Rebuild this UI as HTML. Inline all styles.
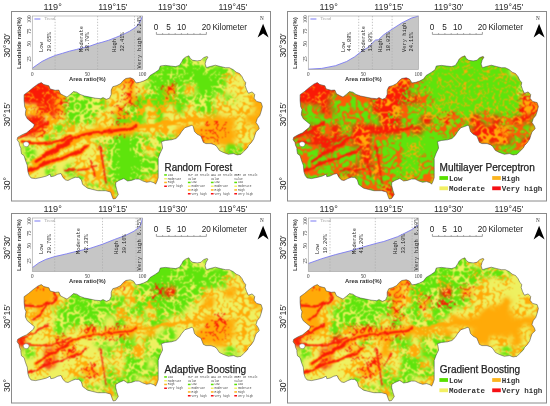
<!DOCTYPE html><html><head><meta charset="utf-8"><style>
html,body{margin:0;padding:0;background:#fff;}
svg{display:block;}
text{font-family:"Liberation Sans",sans-serif;fill:#222;}
.ax{font-size:9px;fill:#2a2a2a;}
.ax2{font-size:8.6px;fill:#2a2a2a;}
.tr{font-family:"Liberation Serif",serif;font-size:4.4px;fill:#a0a0a0;}
.cl{font-family:"Liberation Mono",monospace;font-size:5.4px;fill:#222;}
.tk{font-family:"Liberation Serif",serif;font-size:5.2px;fill:#333;}
.al{font-family:"Liberation Sans",sans-serif;font-size:5.8px;font-weight:bold;fill:#333;}
.sb text{font-size:8.2px;fill:#222;}
.na{font-family:"Liberation Serif",serif;font-size:5.2px;fill:#333;}
.tb{font-size:10.4px;fill:#222;stroke:#222;stroke-width:0.25px;}
.ts{font-size:10.4px;fill:#222;stroke:#222;stroke-width:0.25px;}
.lb{font-family:"Liberation Mono",monospace;font-size:7.5px;font-weight:bold;fill:#333;}
.lt{font-family:"Liberation Mono",monospace;font-size:2.8px;fill:#444;}
</style></head><body>
<svg width="550" height="406" viewBox="0 0 550 406">
<defs>
<clipPath id="clipmap"><polygon points="24.1,94.7 28.5,91.5 33.0,87.7 38.1,83.9 41.3,82.6 43.8,84.5 48.9,85.8 50.2,89.0 55.3,90.3 58.8,90.0 60.5,93.8 63.7,95.5 67.0,97.1 70.3,94.4 73.5,91.6 76.8,92.2 80.1,94.4 84.5,96.0 89.9,97.1 95.4,98.2 100.8,98.7 103.0,97.6 106.3,99.3 109.5,98.2 111.2,94.4 111.2,90.0 112.8,86.7 116.9,85.5 120.7,83.5 123.3,80.4 125.8,78.5 130.3,77.8 133.5,79.1 136.0,82.9 139.8,82.3 143.6,81.0 147.5,79.1 150.1,75.5 155.2,72.4 159.0,69.8 160.3,66.0 165.4,65.4 170.5,66.0 175.5,66.6 179.4,65.4 181.9,61.5 183.2,59.0 185.7,57.1 188.9,55.8 190.2,58.4 192.7,60.3 197.2,60.9 201.0,60.3 203.5,57.7 206.7,56.5 208.0,57.1 206.1,60.3 205.1,63.9 206.4,67.7 210.2,66.5 215.3,65.2 220.4,66.5 225.5,67.7 229.3,67.7 233.1,69.6 236.3,72.2 239.5,73.5 242.0,76.6 243.9,80.5 245.8,82.4 245.2,85.5 246.5,89.4 248.4,93.2 252.2,91.9 254.7,94.5 254.1,98.3 256.6,101.4 261.1,102.6 262.4,106.5 261.1,111.5 259.8,115.4 257.3,118.5 256.0,122.4 258.5,126.2 259.2,128.7 256.0,131.9 254.7,135.7 253.7,139.0 251.2,142.8 248.6,145.4 247.4,147.9 243.5,151.7 241.0,154.3 237.2,154.9 233.4,153.6 228.3,154.3 223.2,152.4 219.4,150.5 216.8,146.6 214.8,144.9 211.0,143.6 205.9,143.6 203.4,142.4 202.1,139.2 200.8,136.0 197.0,134.1 194.5,131.5 193.2,126.5 191.9,125.2 188.7,126.5 184.9,127.7 181.7,131.5 179.2,135.4 176.0,138.5 171.5,139.8 165.2,140.5 161.4,141.7 162.0,144.3 162.6,148.1 160.1,153.2 158.2,158.3 158.2,167.6 158.2,172.7 158.2,177.8 156.9,181.6 155.6,184.2 154.4,182.9 150.5,181.6 146.7,182.3 142.9,181.0 139.1,179.1 135.3,179.1 131.5,180.4 127.6,181.0 123.8,178.5 118.9,180.5 115.7,182.5 115.7,185.6 117.0,190.7 118.3,194.5 115.7,198.4 113.2,199.0 111.9,195.8 110.6,192.0 105.5,190.7 97.9,190.7 92.8,189.5 87.7,188.2 85.8,186.9 82.6,184.4 81.4,179.9 78.8,177.4 75.3,177.3 71.8,178.6 68.0,180.5 65.5,179.9 62.9,177.4 61.0,173.5 57.8,174.2 54.0,176.1 50.8,176.7 50.2,174.2 46.4,176.1 41.3,177.4 35.5,178.6 31.1,178.0 29.2,175.5 27.9,171.6 27.3,165.3 25.4,160.2 24.1,155.7 21.5,153.8 20.9,150.0 20.9,148.1 19.6,145.5 19.0,142.4 17.1,139.8 17.7,137.3 22.2,134.7 26.6,132.8 30.5,129.6 33.6,127.1 34.3,124.5 30.5,121.4 27.3,118.8 25.4,115.0 25.4,113.2 26.0,109.4 24.7,106.8 24.1,100.5"/></clipPath>
<filter id="mG" x="0" y="0" width="550" height="406" filterUnits="userSpaceOnUse" color-interpolation-filters="sRGB"><feGaussianBlur in="SourceAlpha" stdDeviation="2.5" result="ba"/><feTurbulence type="turbulence" baseFrequency="0.16" numOctaves="1" seed="3" result="n"/><feColorMatrix in="n" type="matrix" values="0 0 0 0 0  0 0 0 0 0  0 0 0 0 0  2.5 0 0 0 0" result="na"/><feComposite in="ba" in2="na" operator="arithmetic" k1="0" k2="1" k3="-1" k4="0.49" result="d"/><feComponentTransfer in="d" result="m"><feFuncA type="discrete" tableValues="0 1"/></feComponentTransfer><feFlood flood-color="rgb(94, 228, 12)"/><feComposite in2="m" operator="in"/></filter>
<filter id="mY" x="0" y="0" width="550" height="406" filterUnits="userSpaceOnUse" color-interpolation-filters="sRGB"><feGaussianBlur in="SourceAlpha" stdDeviation="2.5" result="ba"/><feTurbulence type="turbulence" baseFrequency="0.16" numOctaves="1" seed="5" result="n"/><feColorMatrix in="n" type="matrix" values="0 0 0 0 0  0 0 0 0 0  0 0 0 0 0  2.5 0 0 0 0" result="na"/><feComposite in="ba" in2="na" operator="arithmetic" k1="0" k2="1" k3="-1" k4="0.49" result="d"/><feComponentTransfer in="d" result="m"><feFuncA type="discrete" tableValues="0 1"/></feComponentTransfer><feFlood flood-color="rgb(238, 240, 96)"/><feComposite in2="m" operator="in"/></filter>
<filter id="mO" x="0" y="0" width="550" height="406" filterUnits="userSpaceOnUse" color-interpolation-filters="sRGB"><feGaussianBlur in="SourceAlpha" stdDeviation="2.5" result="ba"/><feTurbulence type="turbulence" baseFrequency="0.16" numOctaves="1" seed="7" result="n"/><feColorMatrix in="n" type="matrix" values="0 0 0 0 0  0 0 0 0 0  0 0 0 0 0  2.5 0 0 0 0" result="na"/><feComposite in="ba" in2="na" operator="arithmetic" k1="0" k2="1" k3="-1" k4="0.49" result="d"/><feComponentTransfer in="d" result="m"><feFuncA type="discrete" tableValues="0 1"/></feComponentTransfer><feFlood flood-color="rgb(255, 170, 8)"/><feComposite in2="m" operator="in"/></filter>
<filter id="mR" x="0" y="0" width="550" height="406" filterUnits="userSpaceOnUse" color-interpolation-filters="sRGB"><feGaussianBlur in="SourceAlpha" stdDeviation="2.5" result="ba"/><feTurbulence type="turbulence" baseFrequency="0.16" numOctaves="1" seed="11" result="n"/><feColorMatrix in="n" type="matrix" values="0 0 0 0 0  0 0 0 0 0  0 0 0 0 0  2.5 0 0 0 0" result="na"/><feComposite in="ba" in2="na" operator="arithmetic" k1="0" k2="1" k3="-1" k4="0.49" result="d"/><feComponentTransfer in="d" result="m"><feFuncA type="discrete" tableValues="0 1"/></feComponentTransfer><feFlood flood-color="rgb(250, 26, 6)"/><feComposite in2="m" operator="in"/></filter>
<filter id="mP" x="0" y="0" width="550" height="406" filterUnits="userSpaceOnUse" color-interpolation-filters="sRGB"><feGaussianBlur in="SourceAlpha" stdDeviation="2.5" result="ba"/><feTurbulence type="turbulence" baseFrequency="0.16" numOctaves="1" seed="13" result="n"/><feColorMatrix in="n" type="matrix" values="0 0 0 0 0  0 0 0 0 0  0 0 0 0 0  2.5 0 0 0 0" result="na"/><feComposite in="ba" in2="na" operator="arithmetic" k1="0" k2="1" k3="-1" k4="0.49" result="d"/><feComponentTransfer in="d" result="m"><feFuncA type="discrete" tableValues="0 1"/></feComponentTransfer><feFlood flood-color="rgb(252, 92, 8)"/><feComposite in2="m" operator="in"/></filter>
<filter id="fb" x="0" y="0" width="550" height="406" filterUnits="userSpaceOnUse" color-interpolation-filters="sRGB"><feTurbulence type="fractalNoise" baseFrequency="0.12" numOctaves="2" seed="4" result="t"/><feDisplacementMap in="SourceGraphic" in2="t" scale="5" xChannelSelector="R" yChannelSelector="G"/><feGaussianBlur stdDeviation="0.5"/></filter>
<filter id="soft" x="0" y="0" width="550" height="406" filterUnits="userSpaceOnUse" color-interpolation-filters="sRGB"><feConvolveMatrix order="3" kernelMatrix="1 2 1 2 5 2 1 2 1" divisor="17" edgeMode="duplicate"/></filter>
<filter id="bl" x="0" y="0" width="550" height="406" filterUnits="userSpaceOnUse" color-interpolation-filters="sRGB"><feGaussianBlur stdDeviation="2.2" result="b"/><feTurbulence type="fractalNoise" baseFrequency="0.09" numOctaves="3" seed="9" result="t"/><feDisplacementMap in="b" in2="t" scale="9" xChannelSelector="R" yChannelSelector="G"/></filter>
<g id="map0"><g clip-path="url(#clipmap)"><g filter="url(#soft)"><g filter="url(#bl)"><rect x="5" y="45" width="270" height="170" fill="rgb(238, 240, 96)"/><rect x="15" y="55" width="10" height="10" fill="rgb(250, 26, 6)"/><rect x="25" y="55" width="10" height="10" fill="rgb(250, 26, 6)"/><rect x="35" y="55" width="10" height="10" fill="rgb(250, 26, 6)"/><rect x="45" y="55" width="10" height="10" fill="rgb(255, 170, 8)"/><rect x="55" y="55" width="10" height="10" fill="rgb(255, 170, 8)"/><rect x="65" y="55" width="10" height="10" fill="rgb(94, 228, 12)"/><rect x="75" y="55" width="10" height="10" fill="rgb(94, 228, 12)"/><rect x="85" y="55" width="10" height="10" fill="rgb(94, 228, 12)"/><rect x="95" y="55" width="10" height="10" fill="rgb(255, 170, 8)"/><rect x="105" y="55" width="10" height="10" fill="rgb(255, 170, 8)"/><rect x="115" y="55" width="10" height="10" fill="rgb(255, 170, 8)"/><rect x="125" y="55" width="10" height="10" fill="rgb(255, 170, 8)"/><rect x="135" y="55" width="10" height="10" fill="rgb(94, 228, 12)"/><rect x="145" y="55" width="10" height="10" fill="rgb(94, 228, 12)"/><rect x="155" y="55" width="10" height="10" fill="rgb(94, 228, 12)"/><rect x="165" y="55" width="10" height="10" fill="rgb(94, 228, 12)"/><rect x="175" y="55" width="10" height="10" fill="rgb(94, 228, 12)"/><rect x="185" y="55" width="10" height="10" fill="rgb(94, 228, 12)"/><rect x="195" y="55" width="10" height="10" fill="rgb(94, 228, 12)"/><rect x="205" y="55" width="10" height="10" fill="rgb(238, 240, 96)"/><rect x="215" y="55" width="10" height="10" fill="rgb(238, 240, 96)"/><rect x="225" y="55" width="10" height="10" fill="rgb(94, 228, 12)"/><rect x="235" y="55" width="10" height="10" fill="rgb(238, 240, 96)"/><rect x="245" y="55" width="10" height="10" fill="rgb(238, 240, 96)"/><rect x="255" y="55" width="10" height="10" fill="rgb(238, 240, 96)"/><rect x="15" y="65" width="10" height="10" fill="rgb(250, 26, 6)"/><rect x="25" y="65" width="10" height="10" fill="rgb(250, 26, 6)"/><rect x="35" y="65" width="10" height="10" fill="rgb(250, 26, 6)"/><rect x="45" y="65" width="10" height="10" fill="rgb(255, 170, 8)"/><rect x="55" y="65" width="10" height="10" fill="rgb(255, 170, 8)"/><rect x="65" y="65" width="10" height="10" fill="rgb(94, 228, 12)"/><rect x="75" y="65" width="10" height="10" fill="rgb(94, 228, 12)"/><rect x="85" y="65" width="10" height="10" fill="rgb(94, 228, 12)"/><rect x="95" y="65" width="10" height="10" fill="rgb(255, 170, 8)"/><rect x="105" y="65" width="10" height="10" fill="rgb(255, 170, 8)"/><rect x="115" y="65" width="10" height="10" fill="rgb(255, 170, 8)"/><rect x="125" y="65" width="10" height="10" fill="rgb(255, 170, 8)"/><rect x="135" y="65" width="10" height="10" fill="rgb(94, 228, 12)"/><rect x="145" y="65" width="10" height="10" fill="rgb(94, 228, 12)"/><rect x="155" y="65" width="10" height="10" fill="rgb(94, 228, 12)"/><rect x="165" y="65" width="10" height="10" fill="rgb(94, 228, 12)"/><rect x="175" y="65" width="10" height="10" fill="rgb(94, 228, 12)"/><rect x="185" y="65" width="10" height="10" fill="rgb(94, 228, 12)"/><rect x="195" y="65" width="10" height="10" fill="rgb(94, 228, 12)"/><rect x="205" y="65" width="10" height="10" fill="rgb(94, 228, 12)"/><rect x="215" y="65" width="10" height="10" fill="rgb(94, 228, 12)"/><rect x="225" y="65" width="10" height="10" fill="rgb(94, 228, 12)"/><rect x="235" y="65" width="10" height="10" fill="rgb(238, 240, 96)"/><rect x="245" y="65" width="10" height="10" fill="rgb(238, 240, 96)"/><rect x="255" y="65" width="10" height="10" fill="rgb(238, 240, 96)"/><rect x="15" y="75" width="10" height="10" fill="rgb(250, 26, 6)"/><rect x="25" y="75" width="10" height="10" fill="rgb(250, 26, 6)"/><rect x="35" y="75" width="10" height="10" fill="rgb(250, 26, 6)"/><rect x="45" y="75" width="10" height="10" fill="rgb(255, 170, 8)"/><rect x="55" y="75" width="10" height="10" fill="rgb(255, 170, 8)"/><rect x="65" y="75" width="10" height="10" fill="rgb(94, 228, 12)"/><rect x="75" y="75" width="10" height="10" fill="rgb(94, 228, 12)"/><rect x="85" y="75" width="10" height="10" fill="rgb(94, 228, 12)"/><rect x="95" y="75" width="10" height="10" fill="rgb(255, 170, 8)"/><rect x="105" y="75" width="10" height="10" fill="rgb(255, 170, 8)"/><rect x="115" y="75" width="10" height="10" fill="rgb(255, 170, 8)"/><rect x="125" y="75" width="10" height="10" fill="rgb(255, 170, 8)"/><rect x="135" y="75" width="10" height="10" fill="rgb(238, 240, 96)"/><rect x="145" y="75" width="10" height="10" fill="rgb(94, 228, 12)"/><rect x="155" y="75" width="10" height="10" fill="rgb(94, 228, 12)"/><rect x="165" y="75" width="10" height="10" fill="rgb(94, 228, 12)"/><rect x="175" y="75" width="10" height="10" fill="rgb(94, 228, 12)"/><rect x="185" y="75" width="10" height="10" fill="rgb(94, 228, 12)"/><rect x="195" y="75" width="10" height="10" fill="rgb(94, 228, 12)"/><rect x="205" y="75" width="10" height="10" fill="rgb(94, 228, 12)"/><rect x="215" y="75" width="10" height="10" fill="rgb(94, 228, 12)"/><rect x="225" y="75" width="10" height="10" fill="rgb(238, 240, 96)"/><rect x="235" y="75" width="10" height="10" fill="rgb(238, 240, 96)"/><rect x="245" y="75" width="10" height="10" fill="rgb(238, 240, 96)"/><rect x="255" y="75" width="10" height="10" fill="rgb(238, 240, 96)"/><rect x="15" y="85" width="10" height="10" fill="rgb(250, 26, 6)"/><rect x="25" y="85" width="10" height="10" fill="rgb(250, 26, 6)"/><rect x="35" y="85" width="10" height="10" fill="rgb(250, 26, 6)"/><rect x="45" y="85" width="10" height="10" fill="rgb(250, 26, 6)"/><rect x="55" y="85" width="10" height="10" fill="rgb(255, 170, 8)"/><rect x="65" y="85" width="10" height="10" fill="rgb(94, 228, 12)"/><rect x="75" y="85" width="10" height="10" fill="rgb(94, 228, 12)"/><rect x="85" y="85" width="10" height="10" fill="rgb(94, 228, 12)"/><rect x="95" y="85" width="10" height="10" fill="rgb(255, 170, 8)"/><rect x="105" y="85" width="10" height="10" fill="rgb(255, 170, 8)"/><rect x="115" y="85" width="10" height="10" fill="rgb(238, 240, 96)"/><rect x="125" y="85" width="10" height="10" fill="rgb(255, 170, 8)"/><rect x="135" y="85" width="10" height="10" fill="rgb(238, 240, 96)"/><rect x="145" y="85" width="10" height="10" fill="rgb(94, 228, 12)"/><rect x="155" y="85" width="10" height="10" fill="rgb(94, 228, 12)"/><rect x="165" y="85" width="10" height="10" fill="rgb(255, 170, 8)"/><rect x="175" y="85" width="10" height="10" fill="rgb(94, 228, 12)"/><rect x="185" y="85" width="10" height="10" fill="rgb(238, 240, 96)"/><rect x="195" y="85" width="10" height="10" fill="rgb(94, 228, 12)"/><rect x="205" y="85" width="10" height="10" fill="rgb(94, 228, 12)"/><rect x="215" y="85" width="10" height="10" fill="rgb(94, 228, 12)"/><rect x="225" y="85" width="10" height="10" fill="rgb(238, 240, 96)"/><rect x="235" y="85" width="10" height="10" fill="rgb(238, 240, 96)"/><rect x="245" y="85" width="10" height="10" fill="rgb(238, 240, 96)"/><rect x="255" y="85" width="10" height="10" fill="rgb(255, 170, 8)"/><rect x="15" y="95" width="10" height="10" fill="rgb(250, 26, 6)"/><rect x="25" y="95" width="10" height="10" fill="rgb(250, 26, 6)"/><rect x="35" y="95" width="10" height="10" fill="rgb(250, 26, 6)"/><rect x="45" y="95" width="10" height="10" fill="rgb(250, 26, 6)"/><rect x="55" y="95" width="10" height="10" fill="rgb(255, 170, 8)"/><rect x="65" y="95" width="10" height="10" fill="rgb(94, 228, 12)"/><rect x="75" y="95" width="10" height="10" fill="rgb(94, 228, 12)"/><rect x="85" y="95" width="10" height="10" fill="rgb(94, 228, 12)"/><rect x="95" y="95" width="10" height="10" fill="rgb(94, 228, 12)"/><rect x="105" y="95" width="10" height="10" fill="rgb(238, 240, 96)"/><rect x="115" y="95" width="10" height="10" fill="rgb(238, 240, 96)"/><rect x="125" y="95" width="10" height="10" fill="rgb(255, 170, 8)"/><rect x="135" y="95" width="10" height="10" fill="rgb(94, 228, 12)"/><rect x="145" y="95" width="10" height="10" fill="rgb(94, 228, 12)"/><rect x="155" y="95" width="10" height="10" fill="rgb(94, 228, 12)"/><rect x="165" y="95" width="10" height="10" fill="rgb(94, 228, 12)"/><rect x="175" y="95" width="10" height="10" fill="rgb(94, 228, 12)"/><rect x="185" y="95" width="10" height="10" fill="rgb(94, 228, 12)"/><rect x="195" y="95" width="10" height="10" fill="rgb(94, 228, 12)"/><rect x="205" y="95" width="10" height="10" fill="rgb(94, 228, 12)"/><rect x="215" y="95" width="10" height="10" fill="rgb(238, 240, 96)"/><rect x="225" y="95" width="10" height="10" fill="rgb(94, 228, 12)"/><rect x="235" y="95" width="10" height="10" fill="rgb(238, 240, 96)"/><rect x="245" y="95" width="10" height="10" fill="rgb(238, 240, 96)"/><rect x="255" y="95" width="10" height="10" fill="rgb(255, 170, 8)"/><rect x="15" y="105" width="10" height="10" fill="rgb(238, 240, 96)"/><rect x="25" y="105" width="10" height="10" fill="rgb(238, 240, 96)"/><rect x="35" y="105" width="10" height="10" fill="rgb(255, 170, 8)"/><rect x="45" y="105" width="10" height="10" fill="rgb(250, 26, 6)"/><rect x="55" y="105" width="10" height="10" fill="rgb(255, 170, 8)"/><rect x="65" y="105" width="10" height="10" fill="rgb(94, 228, 12)"/><rect x="75" y="105" width="10" height="10" fill="rgb(94, 228, 12)"/><rect x="85" y="105" width="10" height="10" fill="rgb(94, 228, 12)"/><rect x="95" y="105" width="10" height="10" fill="rgb(94, 228, 12)"/><rect x="105" y="105" width="10" height="10" fill="rgb(238, 240, 96)"/><rect x="115" y="105" width="10" height="10" fill="rgb(255, 170, 8)"/><rect x="125" y="105" width="10" height="10" fill="rgb(94, 228, 12)"/><rect x="135" y="105" width="10" height="10" fill="rgb(94, 228, 12)"/><rect x="145" y="105" width="10" height="10" fill="rgb(238, 240, 96)"/><rect x="155" y="105" width="10" height="10" fill="rgb(94, 228, 12)"/><rect x="165" y="105" width="10" height="10" fill="rgb(238, 240, 96)"/><rect x="175" y="105" width="10" height="10" fill="rgb(94, 228, 12)"/><rect x="185" y="105" width="10" height="10" fill="rgb(238, 240, 96)"/><rect x="195" y="105" width="10" height="10" fill="rgb(94, 228, 12)"/><rect x="205" y="105" width="10" height="10" fill="rgb(94, 228, 12)"/><rect x="215" y="105" width="10" height="10" fill="rgb(238, 240, 96)"/><rect x="225" y="105" width="10" height="10" fill="rgb(238, 240, 96)"/><rect x="235" y="105" width="10" height="10" fill="rgb(238, 240, 96)"/><rect x="245" y="105" width="10" height="10" fill="rgb(238, 240, 96)"/><rect x="255" y="105" width="10" height="10" fill="rgb(255, 170, 8)"/><rect x="15" y="115" width="10" height="10" fill="rgb(250, 26, 6)"/><rect x="25" y="115" width="10" height="10" fill="rgb(250, 26, 6)"/><rect x="35" y="115" width="10" height="10" fill="rgb(250, 26, 6)"/><rect x="45" y="115" width="10" height="10" fill="rgb(238, 240, 96)"/><rect x="55" y="115" width="10" height="10" fill="rgb(238, 240, 96)"/><rect x="65" y="115" width="10" height="10" fill="rgb(94, 228, 12)"/><rect x="75" y="115" width="10" height="10" fill="rgb(94, 228, 12)"/><rect x="85" y="115" width="10" height="10" fill="rgb(94, 228, 12)"/><rect x="95" y="115" width="10" height="10" fill="rgb(238, 240, 96)"/><rect x="105" y="115" width="10" height="10" fill="rgb(238, 240, 96)"/><rect x="115" y="115" width="10" height="10" fill="rgb(94, 228, 12)"/><rect x="125" y="115" width="10" height="10" fill="rgb(94, 228, 12)"/><rect x="135" y="115" width="10" height="10" fill="rgb(94, 228, 12)"/><rect x="145" y="115" width="10" height="10" fill="rgb(238, 240, 96)"/><rect x="155" y="115" width="10" height="10" fill="rgb(94, 228, 12)"/><rect x="165" y="115" width="10" height="10" fill="rgb(238, 240, 96)"/><rect x="175" y="115" width="10" height="10" fill="rgb(238, 240, 96)"/><rect x="185" y="115" width="10" height="10" fill="rgb(238, 240, 96)"/><rect x="195" y="115" width="10" height="10" fill="rgb(238, 240, 96)"/><rect x="205" y="115" width="10" height="10" fill="rgb(255, 170, 8)"/><rect x="215" y="115" width="10" height="10" fill="rgb(255, 170, 8)"/><rect x="225" y="115" width="10" height="10" fill="rgb(255, 170, 8)"/><rect x="235" y="115" width="10" height="10" fill="rgb(238, 240, 96)"/><rect x="245" y="115" width="10" height="10" fill="rgb(255, 170, 8)"/><rect x="255" y="115" width="10" height="10" fill="rgb(255, 170, 8)"/><rect x="15" y="125" width="10" height="10" fill="rgb(238, 240, 96)"/><rect x="25" y="125" width="10" height="10" fill="rgb(250, 26, 6)"/><rect x="35" y="125" width="10" height="10" fill="rgb(255, 170, 8)"/><rect x="45" y="125" width="10" height="10" fill="rgb(238, 240, 96)"/><rect x="55" y="125" width="10" height="10" fill="rgb(94, 228, 12)"/><rect x="65" y="125" width="10" height="10" fill="rgb(238, 240, 96)"/><rect x="75" y="125" width="10" height="10" fill="rgb(238, 240, 96)"/><rect x="85" y="125" width="10" height="10" fill="rgb(238, 240, 96)"/><rect x="95" y="125" width="10" height="10" fill="rgb(255, 170, 8)"/><rect x="105" y="125" width="10" height="10" fill="rgb(238, 240, 96)"/><rect x="115" y="125" width="10" height="10" fill="rgb(255, 170, 8)"/><rect x="125" y="125" width="10" height="10" fill="rgb(255, 170, 8)"/><rect x="135" y="125" width="10" height="10" fill="rgb(238, 240, 96)"/><rect x="145" y="125" width="10" height="10" fill="rgb(238, 240, 96)"/><rect x="155" y="125" width="10" height="10" fill="rgb(238, 240, 96)"/><rect x="165" y="125" width="10" height="10" fill="rgb(238, 240, 96)"/><rect x="175" y="125" width="10" height="10" fill="rgb(255, 170, 8)"/><rect x="185" y="125" width="10" height="10" fill="rgb(255, 170, 8)"/><rect x="195" y="125" width="10" height="10" fill="rgb(255, 170, 8)"/><rect x="205" y="125" width="10" height="10" fill="rgb(255, 170, 8)"/><rect x="215" y="125" width="10" height="10" fill="rgb(255, 170, 8)"/><rect x="225" y="125" width="10" height="10" fill="rgb(255, 170, 8)"/><rect x="235" y="125" width="10" height="10" fill="rgb(238, 240, 96)"/><rect x="245" y="125" width="10" height="10" fill="rgb(238, 240, 96)"/><rect x="255" y="125" width="10" height="10" fill="rgb(255, 170, 8)"/><rect x="15" y="135" width="10" height="10" fill="rgb(238, 240, 96)"/><rect x="25" y="135" width="10" height="10" fill="rgb(238, 240, 96)"/><rect x="35" y="135" width="10" height="10" fill="rgb(238, 240, 96)"/><rect x="45" y="135" width="10" height="10" fill="rgb(94, 228, 12)"/><rect x="55" y="135" width="10" height="10" fill="rgb(238, 240, 96)"/><rect x="65" y="135" width="10" height="10" fill="rgb(238, 240, 96)"/><rect x="75" y="135" width="10" height="10" fill="rgb(238, 240, 96)"/><rect x="85" y="135" width="10" height="10" fill="rgb(238, 240, 96)"/><rect x="95" y="135" width="10" height="10" fill="rgb(94, 228, 12)"/><rect x="105" y="135" width="10" height="10" fill="rgb(94, 228, 12)"/><rect x="115" y="135" width="10" height="10" fill="rgb(94, 228, 12)"/><rect x="125" y="135" width="10" height="10" fill="rgb(94, 228, 12)"/><rect x="135" y="135" width="10" height="10" fill="rgb(94, 228, 12)"/><rect x="145" y="135" width="10" height="10" fill="rgb(94, 228, 12)"/><rect x="155" y="135" width="10" height="10" fill="rgb(94, 228, 12)"/><rect x="165" y="135" width="10" height="10" fill="rgb(94, 228, 12)"/><rect x="175" y="135" width="10" height="10" fill="rgb(255, 170, 8)"/><rect x="185" y="135" width="10" height="10" fill="rgb(255, 170, 8)"/><rect x="195" y="135" width="10" height="10" fill="rgb(255, 170, 8)"/><rect x="205" y="135" width="10" height="10" fill="rgb(255, 170, 8)"/><rect x="215" y="135" width="10" height="10" fill="rgb(255, 170, 8)"/><rect x="225" y="135" width="10" height="10" fill="rgb(255, 170, 8)"/><rect x="235" y="135" width="10" height="10" fill="rgb(238, 240, 96)"/><rect x="245" y="135" width="10" height="10" fill="rgb(238, 240, 96)"/><rect x="255" y="135" width="10" height="10" fill="rgb(238, 240, 96)"/><rect x="15" y="145" width="10" height="10" fill="rgb(238, 240, 96)"/><rect x="25" y="145" width="10" height="10" fill="rgb(94, 228, 12)"/><rect x="35" y="145" width="10" height="10" fill="rgb(238, 240, 96)"/><rect x="45" y="145" width="10" height="10" fill="rgb(238, 240, 96)"/><rect x="55" y="145" width="10" height="10" fill="rgb(238, 240, 96)"/><rect x="65" y="145" width="10" height="10" fill="rgb(238, 240, 96)"/><rect x="75" y="145" width="10" height="10" fill="rgb(238, 240, 96)"/><rect x="85" y="145" width="10" height="10" fill="rgb(238, 240, 96)"/><rect x="95" y="145" width="10" height="10" fill="rgb(238, 240, 96)"/><rect x="105" y="145" width="10" height="10" fill="rgb(94, 228, 12)"/><rect x="115" y="145" width="10" height="10" fill="rgb(94, 228, 12)"/><rect x="125" y="145" width="10" height="10" fill="rgb(94, 228, 12)"/><rect x="135" y="145" width="10" height="10" fill="rgb(94, 228, 12)"/><rect x="145" y="145" width="10" height="10" fill="rgb(238, 240, 96)"/><rect x="155" y="145" width="10" height="10" fill="rgb(94, 228, 12)"/><rect x="165" y="145" width="10" height="10" fill="rgb(94, 228, 12)"/><rect x="175" y="145" width="10" height="10" fill="rgb(94, 228, 12)"/><rect x="185" y="145" width="10" height="10" fill="rgb(255, 170, 8)"/><rect x="195" y="145" width="10" height="10" fill="rgb(255, 170, 8)"/><rect x="205" y="145" width="10" height="10" fill="rgb(238, 240, 96)"/><rect x="215" y="145" width="10" height="10" fill="rgb(238, 240, 96)"/><rect x="225" y="145" width="10" height="10" fill="rgb(94, 228, 12)"/><rect x="235" y="145" width="10" height="10" fill="rgb(94, 228, 12)"/><rect x="245" y="145" width="10" height="10" fill="rgb(238, 240, 96)"/><rect x="255" y="145" width="10" height="10" fill="rgb(238, 240, 96)"/><rect x="15" y="155" width="10" height="10" fill="rgb(94, 228, 12)"/><rect x="25" y="155" width="10" height="10" fill="rgb(94, 228, 12)"/><rect x="35" y="155" width="10" height="10" fill="rgb(238, 240, 96)"/><rect x="45" y="155" width="10" height="10" fill="rgb(238, 240, 96)"/><rect x="55" y="155" width="10" height="10" fill="rgb(238, 240, 96)"/><rect x="65" y="155" width="10" height="10" fill="rgb(238, 240, 96)"/><rect x="75" y="155" width="10" height="10" fill="rgb(238, 240, 96)"/><rect x="85" y="155" width="10" height="10" fill="rgb(238, 240, 96)"/><rect x="95" y="155" width="10" height="10" fill="rgb(238, 240, 96)"/><rect x="105" y="155" width="10" height="10" fill="rgb(94, 228, 12)"/><rect x="115" y="155" width="10" height="10" fill="rgb(94, 228, 12)"/><rect x="125" y="155" width="10" height="10" fill="rgb(94, 228, 12)"/><rect x="135" y="155" width="10" height="10" fill="rgb(94, 228, 12)"/><rect x="145" y="155" width="10" height="10" fill="rgb(94, 228, 12)"/><rect x="155" y="155" width="10" height="10" fill="rgb(94, 228, 12)"/><rect x="165" y="155" width="10" height="10" fill="rgb(94, 228, 12)"/><rect x="175" y="155" width="10" height="10" fill="rgb(94, 228, 12)"/><rect x="185" y="155" width="10" height="10" fill="rgb(94, 228, 12)"/><rect x="195" y="155" width="10" height="10" fill="rgb(255, 170, 8)"/><rect x="205" y="155" width="10" height="10" fill="rgb(94, 228, 12)"/><rect x="215" y="155" width="10" height="10" fill="rgb(94, 228, 12)"/><rect x="225" y="155" width="10" height="10" fill="rgb(94, 228, 12)"/><rect x="235" y="155" width="10" height="10" fill="rgb(238, 240, 96)"/><rect x="245" y="155" width="10" height="10" fill="rgb(238, 240, 96)"/><rect x="255" y="155" width="10" height="10" fill="rgb(238, 240, 96)"/><rect x="15" y="165" width="10" height="10" fill="rgb(238, 240, 96)"/><rect x="25" y="165" width="10" height="10" fill="rgb(238, 240, 96)"/><rect x="35" y="165" width="10" height="10" fill="rgb(238, 240, 96)"/><rect x="45" y="165" width="10" height="10" fill="rgb(94, 228, 12)"/><rect x="55" y="165" width="10" height="10" fill="rgb(238, 240, 96)"/><rect x="65" y="165" width="10" height="10" fill="rgb(94, 228, 12)"/><rect x="75" y="165" width="10" height="10" fill="rgb(238, 240, 96)"/><rect x="85" y="165" width="10" height="10" fill="rgb(238, 240, 96)"/><rect x="95" y="165" width="10" height="10" fill="rgb(238, 240, 96)"/><rect x="105" y="165" width="10" height="10" fill="rgb(94, 228, 12)"/><rect x="115" y="165" width="10" height="10" fill="rgb(94, 228, 12)"/><rect x="125" y="165" width="10" height="10" fill="rgb(94, 228, 12)"/><rect x="135" y="165" width="10" height="10" fill="rgb(94, 228, 12)"/><rect x="145" y="165" width="10" height="10" fill="rgb(94, 228, 12)"/><rect x="155" y="165" width="10" height="10" fill="rgb(94, 228, 12)"/><rect x="165" y="165" width="10" height="10" fill="rgb(94, 228, 12)"/><rect x="175" y="165" width="10" height="10" fill="rgb(94, 228, 12)"/><rect x="185" y="165" width="10" height="10" fill="rgb(94, 228, 12)"/><rect x="195" y="165" width="10" height="10" fill="rgb(255, 170, 8)"/><rect x="205" y="165" width="10" height="10" fill="rgb(94, 228, 12)"/><rect x="215" y="165" width="10" height="10" fill="rgb(94, 228, 12)"/><rect x="225" y="165" width="10" height="10" fill="rgb(94, 228, 12)"/><rect x="235" y="165" width="10" height="10" fill="rgb(238, 240, 96)"/><rect x="245" y="165" width="10" height="10" fill="rgb(238, 240, 96)"/><rect x="255" y="165" width="10" height="10" fill="rgb(238, 240, 96)"/><rect x="15" y="175" width="10" height="10" fill="rgb(238, 240, 96)"/><rect x="25" y="175" width="10" height="10" fill="rgb(238, 240, 96)"/><rect x="35" y="175" width="10" height="10" fill="rgb(238, 240, 96)"/><rect x="45" y="175" width="10" height="10" fill="rgb(238, 240, 96)"/><rect x="55" y="175" width="10" height="10" fill="rgb(238, 240, 96)"/><rect x="65" y="175" width="10" height="10" fill="rgb(238, 240, 96)"/><rect x="75" y="175" width="10" height="10" fill="rgb(94, 228, 12)"/><rect x="85" y="175" width="10" height="10" fill="rgb(238, 240, 96)"/><rect x="95" y="175" width="10" height="10" fill="rgb(238, 240, 96)"/><rect x="105" y="175" width="10" height="10" fill="rgb(94, 228, 12)"/><rect x="115" y="175" width="10" height="10" fill="rgb(94, 228, 12)"/><rect x="125" y="175" width="10" height="10" fill="rgb(94, 228, 12)"/><rect x="135" y="175" width="10" height="10" fill="rgb(94, 228, 12)"/><rect x="145" y="175" width="10" height="10" fill="rgb(238, 240, 96)"/><rect x="155" y="175" width="10" height="10" fill="rgb(238, 240, 96)"/><rect x="165" y="175" width="10" height="10" fill="rgb(238, 240, 96)"/><rect x="175" y="175" width="10" height="10" fill="rgb(238, 240, 96)"/><rect x="185" y="175" width="10" height="10" fill="rgb(238, 240, 96)"/><rect x="195" y="175" width="10" height="10" fill="rgb(238, 240, 96)"/><rect x="205" y="175" width="10" height="10" fill="rgb(94, 228, 12)"/><rect x="215" y="175" width="10" height="10" fill="rgb(94, 228, 12)"/><rect x="225" y="175" width="10" height="10" fill="rgb(94, 228, 12)"/><rect x="235" y="175" width="10" height="10" fill="rgb(238, 240, 96)"/><rect x="245" y="175" width="10" height="10" fill="rgb(238, 240, 96)"/><rect x="255" y="175" width="10" height="10" fill="rgb(238, 240, 96)"/><rect x="15" y="185" width="10" height="10" fill="rgb(238, 240, 96)"/><rect x="25" y="185" width="10" height="10" fill="rgb(238, 240, 96)"/><rect x="35" y="185" width="10" height="10" fill="rgb(238, 240, 96)"/><rect x="45" y="185" width="10" height="10" fill="rgb(238, 240, 96)"/><rect x="55" y="185" width="10" height="10" fill="rgb(238, 240, 96)"/><rect x="65" y="185" width="10" height="10" fill="rgb(238, 240, 96)"/><rect x="75" y="185" width="10" height="10" fill="rgb(94, 228, 12)"/><rect x="85" y="185" width="10" height="10" fill="rgb(94, 228, 12)"/><rect x="95" y="185" width="10" height="10" fill="rgb(94, 228, 12)"/><rect x="105" y="185" width="10" height="10" fill="rgb(238, 240, 96)"/><rect x="115" y="185" width="10" height="10" fill="rgb(94, 228, 12)"/><rect x="125" y="185" width="10" height="10" fill="rgb(94, 228, 12)"/><rect x="135" y="185" width="10" height="10" fill="rgb(94, 228, 12)"/><rect x="145" y="185" width="10" height="10" fill="rgb(238, 240, 96)"/><rect x="155" y="185" width="10" height="10" fill="rgb(238, 240, 96)"/><rect x="165" y="185" width="10" height="10" fill="rgb(238, 240, 96)"/><rect x="175" y="185" width="10" height="10" fill="rgb(238, 240, 96)"/><rect x="185" y="185" width="10" height="10" fill="rgb(238, 240, 96)"/><rect x="195" y="185" width="10" height="10" fill="rgb(238, 240, 96)"/><rect x="205" y="185" width="10" height="10" fill="rgb(94, 228, 12)"/><rect x="215" y="185" width="10" height="10" fill="rgb(94, 228, 12)"/><rect x="225" y="185" width="10" height="10" fill="rgb(94, 228, 12)"/><rect x="235" y="185" width="10" height="10" fill="rgb(238, 240, 96)"/><rect x="245" y="185" width="10" height="10" fill="rgb(238, 240, 96)"/><rect x="255" y="185" width="10" height="10" fill="rgb(238, 240, 96)"/><rect x="15" y="195" width="10" height="10" fill="rgb(238, 240, 96)"/><rect x="25" y="195" width="10" height="10" fill="rgb(238, 240, 96)"/><rect x="35" y="195" width="10" height="10" fill="rgb(238, 240, 96)"/><rect x="45" y="195" width="10" height="10" fill="rgb(238, 240, 96)"/><rect x="55" y="195" width="10" height="10" fill="rgb(238, 240, 96)"/><rect x="65" y="195" width="10" height="10" fill="rgb(238, 240, 96)"/><rect x="75" y="195" width="10" height="10" fill="rgb(94, 228, 12)"/><rect x="85" y="195" width="10" height="10" fill="rgb(94, 228, 12)"/><rect x="95" y="195" width="10" height="10" fill="rgb(94, 228, 12)"/><rect x="105" y="195" width="10" height="10" fill="rgb(238, 240, 96)"/><rect x="115" y="195" width="10" height="10" fill="rgb(238, 240, 96)"/><rect x="125" y="195" width="10" height="10" fill="rgb(238, 240, 96)"/><rect x="135" y="195" width="10" height="10" fill="rgb(238, 240, 96)"/><rect x="145" y="195" width="10" height="10" fill="rgb(238, 240, 96)"/><rect x="155" y="195" width="10" height="10" fill="rgb(238, 240, 96)"/><rect x="165" y="195" width="10" height="10" fill="rgb(238, 240, 96)"/><rect x="175" y="195" width="10" height="10" fill="rgb(238, 240, 96)"/><rect x="185" y="195" width="10" height="10" fill="rgb(238, 240, 96)"/><rect x="195" y="195" width="10" height="10" fill="rgb(238, 240, 96)"/><rect x="205" y="195" width="10" height="10" fill="rgb(94, 228, 12)"/><rect x="215" y="195" width="10" height="10" fill="rgb(94, 228, 12)"/><rect x="225" y="195" width="10" height="10" fill="rgb(94, 228, 12)"/><rect x="235" y="195" width="10" height="10" fill="rgb(238, 240, 96)"/><rect x="245" y="195" width="10" height="10" fill="rgb(238, 240, 96)"/><rect x="255" y="195" width="10" height="10" fill="rgb(238, 240, 96)"/></g><g filter="url(#mY)"><rect x="65" y="55" width="10" height="10" fill-opacity="0.346"/><rect x="75" y="55" width="10" height="10" fill-opacity="0.346"/><rect x="85" y="55" width="10" height="10" fill-opacity="0.346"/><rect x="135" y="55" width="10" height="10" fill-opacity="0.177"/><rect x="145" y="55" width="10" height="10" fill-opacity="0.177"/><rect x="155" y="55" width="10" height="10" fill-opacity="0.177"/><rect x="175" y="55" width="10" height="10" fill-opacity="0.346"/><rect x="185" y="55" width="10" height="10" fill-opacity="0.346"/><rect x="195" y="55" width="10" height="10" fill-opacity="0.346"/><rect x="225" y="55" width="10" height="10" fill-opacity="0.346"/><rect x="65" y="65" width="10" height="10" fill-opacity="0.346"/><rect x="75" y="65" width="10" height="10" fill-opacity="0.346"/><rect x="85" y="65" width="10" height="10" fill-opacity="0.346"/><rect x="135" y="65" width="10" height="10" fill-opacity="0.177"/><rect x="145" y="65" width="10" height="10" fill-opacity="0.177"/><rect x="155" y="65" width="10" height="10" fill-opacity="0.177"/><rect x="175" y="65" width="10" height="10" fill-opacity="0.177"/><rect x="205" y="65" width="10" height="10" fill-opacity="0.346"/><rect x="225" y="65" width="10" height="10" fill-opacity="0.346"/><rect x="65" y="75" width="10" height="10" fill-opacity="0.346"/><rect x="75" y="75" width="10" height="10" fill-opacity="0.346"/><rect x="85" y="75" width="10" height="10" fill-opacity="0.346"/><rect x="165" y="75" width="10" height="10" fill-opacity="0.177"/><rect x="185" y="75" width="10" height="10" fill-opacity="0.177"/><rect x="215" y="75" width="10" height="10" fill-opacity="0.177"/><rect x="65" y="85" width="10" height="10" fill-opacity="0.346"/><rect x="75" y="85" width="10" height="10" fill-opacity="0.346"/><rect x="85" y="85" width="10" height="10" fill-opacity="0.346"/><rect x="145" y="85" width="10" height="10" fill-opacity="0.346"/><rect x="175" y="85" width="10" height="10" fill-opacity="0.346"/><rect x="215" y="85" width="10" height="10" fill-opacity="0.346"/><rect x="65" y="95" width="10" height="10" fill-opacity="0.346"/><rect x="75" y="95" width="10" height="10" fill-opacity="0.346"/><rect x="85" y="95" width="10" height="10" fill-opacity="0.346"/><rect x="95" y="95" width="10" height="10" fill-opacity="0.346"/><rect x="185" y="95" width="10" height="10" fill-opacity="0.346"/><rect x="195" y="95" width="10" height="10" fill-opacity="0.346"/><rect x="205" y="95" width="10" height="10" fill-opacity="0.346"/><rect x="225" y="95" width="10" height="10" fill-opacity="0.346"/><rect x="65" y="105" width="10" height="10" fill-opacity="0.346"/><rect x="75" y="105" width="10" height="10" fill-opacity="0.177"/><rect x="85" y="105" width="10" height="10" fill-opacity="0.346"/><rect x="95" y="105" width="10" height="10" fill-opacity="0.346"/><rect x="125" y="105" width="10" height="10" fill-opacity="0.346"/><rect x="195" y="105" width="10" height="10" fill-opacity="0.346"/><rect x="205" y="105" width="10" height="10" fill-opacity="0.346"/><rect x="65" y="115" width="10" height="10" fill-opacity="0.346"/><rect x="75" y="115" width="10" height="10" fill-opacity="0.346"/><rect x="85" y="115" width="10" height="10" fill-opacity="0.177"/><rect x="55" y="125" width="10" height="10" fill-opacity="0.346"/><rect x="45" y="135" width="10" height="10" fill-opacity="0.346"/><rect x="95" y="135" width="10" height="10" fill-opacity="0.346"/><rect x="105" y="135" width="10" height="10" fill-opacity="0.346"/><rect x="135" y="135" width="10" height="10" fill-opacity="0.346"/><rect x="145" y="135" width="10" height="10" fill-opacity="0.346"/><rect x="155" y="135" width="10" height="10" fill-opacity="0.346"/><rect x="165" y="135" width="10" height="10" fill-opacity="0.346"/><rect x="25" y="145" width="10" height="10" fill-opacity="0.346"/><rect x="105" y="145" width="10" height="10" fill-opacity="0.346"/><rect x="135" y="145" width="10" height="10" fill-opacity="0.346"/><rect x="155" y="145" width="10" height="10" fill-opacity="0.346"/><rect x="165" y="145" width="10" height="10" fill-opacity="0.346"/><rect x="175" y="145" width="10" height="10" fill-opacity="0.346"/><rect x="235" y="145" width="10" height="10" fill-opacity="0.346"/><rect x="15" y="155" width="10" height="10" fill-opacity="0.346"/><rect x="25" y="155" width="10" height="10" fill-opacity="0.346"/><rect x="105" y="155" width="10" height="10" fill-opacity="0.346"/><rect x="145" y="155" width="10" height="10" fill-opacity="0.346"/><rect x="155" y="155" width="10" height="10" fill-opacity="0.346"/><rect x="165" y="155" width="10" height="10" fill-opacity="0.346"/><rect x="175" y="155" width="10" height="10" fill-opacity="0.346"/><rect x="185" y="155" width="10" height="10" fill-opacity="0.346"/><rect x="205" y="155" width="10" height="10" fill-opacity="0.346"/><rect x="215" y="155" width="10" height="10" fill-opacity="0.346"/><rect x="225" y="155" width="10" height="10" fill-opacity="0.346"/><rect x="45" y="165" width="10" height="10" fill-opacity="0.346"/><rect x="65" y="165" width="10" height="10" fill-opacity="0.346"/><rect x="105" y="165" width="10" height="10" fill-opacity="0.346"/><rect x="135" y="165" width="10" height="10" fill-opacity="0.177"/><rect x="145" y="165" width="10" height="10" fill-opacity="0.346"/><rect x="155" y="165" width="10" height="10" fill-opacity="0.346"/><rect x="165" y="165" width="10" height="10" fill-opacity="0.346"/><rect x="175" y="165" width="10" height="10" fill-opacity="0.346"/><rect x="185" y="165" width="10" height="10" fill-opacity="0.346"/><rect x="205" y="165" width="10" height="10" fill-opacity="0.346"/><rect x="215" y="165" width="10" height="10" fill-opacity="0.346"/><rect x="225" y="165" width="10" height="10" fill-opacity="0.346"/><rect x="75" y="175" width="10" height="10" fill-opacity="0.346"/><rect x="105" y="175" width="10" height="10" fill-opacity="0.346"/><rect x="135" y="175" width="10" height="10" fill-opacity="0.346"/><rect x="205" y="175" width="10" height="10" fill-opacity="0.346"/><rect x="215" y="175" width="10" height="10" fill-opacity="0.346"/><rect x="225" y="175" width="10" height="10" fill-opacity="0.346"/><rect x="75" y="185" width="10" height="10" fill-opacity="0.346"/><rect x="85" y="185" width="10" height="10" fill-opacity="0.346"/><rect x="95" y="185" width="10" height="10" fill-opacity="0.346"/><rect x="115" y="185" width="10" height="10" fill-opacity="0.346"/><rect x="125" y="185" width="10" height="10" fill-opacity="0.346"/><rect x="135" y="185" width="10" height="10" fill-opacity="0.346"/><rect x="205" y="185" width="10" height="10" fill-opacity="0.346"/><rect x="215" y="185" width="10" height="10" fill-opacity="0.346"/><rect x="225" y="185" width="10" height="10" fill-opacity="0.346"/><rect x="75" y="195" width="10" height="10" fill-opacity="0.346"/><rect x="85" y="195" width="10" height="10" fill-opacity="0.346"/><rect x="95" y="195" width="10" height="10" fill-opacity="0.346"/><rect x="205" y="195" width="10" height="10" fill-opacity="0.346"/><rect x="215" y="195" width="10" height="10" fill-opacity="0.346"/><rect x="225" y="195" width="10" height="10" fill-opacity="0.346"/></g><g filter="url(#mO)"><rect x="15" y="55" width="10" height="10" fill-opacity="0.177"/><rect x="25" y="55" width="10" height="10" fill-opacity="0.177"/><rect x="35" y="55" width="10" height="10" fill-opacity="0.177"/><rect x="235" y="55" width="10" height="10" fill-opacity="0.308"/><rect x="245" y="55" width="10" height="10" fill-opacity="0.308"/><rect x="255" y="55" width="10" height="10" fill-opacity="0.308"/><rect x="15" y="65" width="10" height="10" fill-opacity="0.177"/><rect x="25" y="65" width="10" height="10" fill-opacity="0.177"/><rect x="35" y="65" width="10" height="10" fill-opacity="0.177"/><rect x="235" y="65" width="10" height="10" fill-opacity="0.308"/><rect x="245" y="65" width="10" height="10" fill-opacity="0.308"/><rect x="255" y="65" width="10" height="10" fill-opacity="0.308"/><rect x="15" y="75" width="10" height="10" fill-opacity="0.177"/><rect x="25" y="75" width="10" height="10" fill-opacity="0.177"/><rect x="35" y="75" width="10" height="10" fill-opacity="0.177"/><rect x="135" y="75" width="10" height="10" fill-opacity="0.308"/><rect x="225" y="75" width="10" height="10" fill-opacity="0.308"/><rect x="245" y="75" width="10" height="10" fill-opacity="0.308"/><rect x="255" y="75" width="10" height="10" fill-opacity="0.308"/><rect x="15" y="85" width="10" height="10" fill-opacity="0.177"/><rect x="25" y="85" width="10" height="10" fill-opacity="0.177"/><rect x="45" y="85" width="10" height="10" fill-opacity="0.177"/><rect x="115" y="85" width="10" height="10" fill-opacity="0.308"/><rect x="135" y="85" width="10" height="10" fill-opacity="0.308"/><rect x="185" y="85" width="10" height="10" fill-opacity="0.308"/><rect x="235" y="85" width="10" height="10" fill-opacity="0.308"/><rect x="25" y="95" width="10" height="10" fill-opacity="0.177"/><rect x="45" y="95" width="10" height="10" fill-opacity="0.177"/><rect x="105" y="95" width="10" height="10" fill-opacity="0.308"/><rect x="115" y="95" width="10" height="10" fill-opacity="0.308"/><rect x="135" y="95" width="10" height="10" fill-opacity="0.308"/><rect x="145" y="95" width="10" height="10" fill-opacity="0.308"/><rect x="165" y="95" width="10" height="10" fill-opacity="0.308"/><rect x="215" y="95" width="10" height="10" fill-opacity="0.308"/><rect x="245" y="95" width="10" height="10" fill-opacity="0.308"/><rect x="15" y="105" width="10" height="10" fill-opacity="0.308"/><rect x="25" y="105" width="10" height="10" fill-opacity="0.308"/><rect x="45" y="105" width="10" height="10" fill-opacity="0.177"/><rect x="105" y="105" width="10" height="10" fill-opacity="0.308"/><rect x="135" y="105" width="10" height="10" fill-opacity="0.308"/><rect x="145" y="105" width="10" height="10" fill-opacity="0.308"/><rect x="155" y="105" width="10" height="10" fill-opacity="0.308"/><rect x="165" y="105" width="10" height="10" fill-opacity="0.308"/><rect x="185" y="105" width="10" height="10" fill-opacity="0.308"/><rect x="215" y="105" width="10" height="10" fill-opacity="0.308"/><rect x="225" y="105" width="10" height="10" fill-opacity="0.308"/><rect x="235" y="105" width="10" height="10" fill-opacity="0.308"/><rect x="245" y="105" width="10" height="10" fill-opacity="0.308"/><rect x="15" y="115" width="10" height="10" fill-opacity="0.177"/><rect x="35" y="115" width="10" height="10" fill-opacity="0.177"/><rect x="45" y="115" width="10" height="10" fill-opacity="0.308"/><rect x="55" y="115" width="10" height="10" fill-opacity="0.308"/><rect x="95" y="115" width="10" height="10" fill-opacity="0.308"/><rect x="105" y="115" width="10" height="10" fill-opacity="0.308"/><rect x="115" y="115" width="10" height="10" fill-opacity="0.308"/><rect x="125" y="115" width="10" height="10" fill-opacity="0.308"/><rect x="145" y="115" width="10" height="10" fill-opacity="0.308"/><rect x="165" y="115" width="10" height="10" fill-opacity="0.308"/><rect x="175" y="115" width="10" height="10" fill-opacity="0.308"/><rect x="185" y="115" width="10" height="10" fill-opacity="0.308"/><rect x="195" y="115" width="10" height="10" fill-opacity="0.308"/><rect x="235" y="115" width="10" height="10" fill-opacity="0.308"/><rect x="15" y="125" width="10" height="10" fill-opacity="0.308"/><rect x="25" y="125" width="10" height="10" fill-opacity="0.177"/><rect x="45" y="125" width="10" height="10" fill-opacity="0.308"/><rect x="65" y="125" width="10" height="10" fill-opacity="0.308"/><rect x="75" y="125" width="10" height="10" fill-opacity="0.308"/><rect x="85" y="125" width="10" height="10" fill-opacity="0.308"/><rect x="105" y="125" width="10" height="10" fill-opacity="0.308"/><rect x="135" y="125" width="10" height="10" fill-opacity="0.308"/><rect x="145" y="125" width="10" height="10" fill-opacity="0.308"/><rect x="155" y="125" width="10" height="10" fill-opacity="0.308"/><rect x="165" y="125" width="10" height="10" fill-opacity="0.308"/><rect x="235" y="125" width="10" height="10" fill-opacity="0.308"/><rect x="245" y="125" width="10" height="10" fill-opacity="0.308"/><rect x="35" y="135" width="10" height="10" fill-opacity="0.308"/><rect x="55" y="135" width="10" height="10" fill-opacity="0.308"/><rect x="65" y="135" width="10" height="10" fill-opacity="0.308"/><rect x="85" y="135" width="10" height="10" fill-opacity="0.308"/><rect x="235" y="135" width="10" height="10" fill-opacity="0.308"/><rect x="245" y="135" width="10" height="10" fill-opacity="0.308"/><rect x="255" y="135" width="10" height="10" fill-opacity="0.308"/><rect x="45" y="145" width="10" height="10" fill-opacity="0.308"/><rect x="55" y="145" width="10" height="10" fill-opacity="0.308"/><rect x="65" y="145" width="10" height="10" fill-opacity="0.308"/><rect x="95" y="145" width="10" height="10" fill-opacity="0.308"/><rect x="145" y="145" width="10" height="10" fill-opacity="0.308"/><rect x="205" y="145" width="10" height="10" fill-opacity="0.308"/><rect x="215" y="145" width="10" height="10" fill-opacity="0.308"/><rect x="245" y="145" width="10" height="10" fill-opacity="0.308"/><rect x="255" y="145" width="10" height="10" fill-opacity="0.308"/><rect x="45" y="155" width="10" height="10" fill-opacity="0.308"/><rect x="75" y="155" width="10" height="10" fill-opacity="0.308"/><rect x="95" y="155" width="10" height="10" fill-opacity="0.308"/><rect x="235" y="155" width="10" height="10" fill-opacity="0.308"/><rect x="245" y="155" width="10" height="10" fill-opacity="0.308"/><rect x="255" y="155" width="10" height="10" fill-opacity="0.308"/><rect x="15" y="165" width="10" height="10" fill-opacity="0.308"/><rect x="25" y="165" width="10" height="10" fill-opacity="0.308"/><rect x="75" y="165" width="10" height="10" fill-opacity="0.308"/><rect x="85" y="165" width="10" height="10" fill-opacity="0.308"/><rect x="95" y="165" width="10" height="10" fill-opacity="0.308"/><rect x="235" y="165" width="10" height="10" fill-opacity="0.308"/><rect x="245" y="165" width="10" height="10" fill-opacity="0.308"/><rect x="255" y="165" width="10" height="10" fill-opacity="0.308"/><rect x="15" y="175" width="10" height="10" fill-opacity="0.308"/><rect x="25" y="175" width="10" height="10" fill-opacity="0.308"/><rect x="55" y="175" width="10" height="10" fill-opacity="0.308"/><rect x="85" y="175" width="10" height="10" fill-opacity="0.308"/><rect x="95" y="175" width="10" height="10" fill-opacity="0.308"/><rect x="145" y="175" width="10" height="10" fill-opacity="0.308"/><rect x="155" y="175" width="10" height="10" fill-opacity="0.308"/><rect x="165" y="175" width="10" height="10" fill-opacity="0.308"/><rect x="175" y="175" width="10" height="10" fill-opacity="0.308"/><rect x="185" y="175" width="10" height="10" fill-opacity="0.308"/><rect x="195" y="175" width="10" height="10" fill-opacity="0.308"/><rect x="235" y="175" width="10" height="10" fill-opacity="0.308"/><rect x="245" y="175" width="10" height="10" fill-opacity="0.308"/><rect x="255" y="175" width="10" height="10" fill-opacity="0.308"/><rect x="15" y="185" width="10" height="10" fill-opacity="0.308"/><rect x="25" y="185" width="10" height="10" fill-opacity="0.308"/><rect x="55" y="185" width="10" height="10" fill-opacity="0.308"/><rect x="105" y="185" width="10" height="10" fill-opacity="0.308"/><rect x="145" y="185" width="10" height="10" fill-opacity="0.308"/><rect x="155" y="185" width="10" height="10" fill-opacity="0.308"/><rect x="165" y="185" width="10" height="10" fill-opacity="0.308"/><rect x="175" y="185" width="10" height="10" fill-opacity="0.308"/><rect x="185" y="185" width="10" height="10" fill-opacity="0.308"/><rect x="195" y="185" width="10" height="10" fill-opacity="0.308"/><rect x="235" y="185" width="10" height="10" fill-opacity="0.308"/><rect x="245" y="185" width="10" height="10" fill-opacity="0.308"/><rect x="255" y="185" width="10" height="10" fill-opacity="0.308"/><rect x="15" y="195" width="10" height="10" fill-opacity="0.308"/><rect x="25" y="195" width="10" height="10" fill-opacity="0.308"/><rect x="55" y="195" width="10" height="10" fill-opacity="0.308"/><rect x="105" y="195" width="10" height="10" fill-opacity="0.308"/><rect x="115" y="195" width="10" height="10" fill-opacity="0.308"/><rect x="125" y="195" width="10" height="10" fill-opacity="0.308"/><rect x="135" y="195" width="10" height="10" fill-opacity="0.308"/><rect x="145" y="195" width="10" height="10" fill-opacity="0.308"/><rect x="155" y="195" width="10" height="10" fill-opacity="0.308"/><rect x="165" y="195" width="10" height="10" fill-opacity="0.308"/><rect x="175" y="195" width="10" height="10" fill-opacity="0.308"/><rect x="185" y="195" width="10" height="10" fill-opacity="0.308"/><rect x="195" y="195" width="10" height="10" fill-opacity="0.308"/><rect x="235" y="195" width="10" height="10" fill-opacity="0.308"/><rect x="245" y="195" width="10" height="10" fill-opacity="0.308"/><rect x="255" y="195" width="10" height="10" fill-opacity="0.308"/></g><g filter="url(#mR)"><rect x="45" y="55" width="10" height="10" fill-opacity="0.218"/><rect x="55" y="55" width="10" height="10" fill-opacity="0.218"/><rect x="125" y="55" width="10" height="10" fill-opacity="0.218"/><rect x="45" y="65" width="10" height="10" fill-opacity="0.218"/><rect x="55" y="65" width="10" height="10" fill-opacity="0.218"/><rect x="125" y="65" width="10" height="10" fill-opacity="0.218"/><rect x="45" y="75" width="10" height="10" fill-opacity="0.218"/><rect x="55" y="75" width="10" height="10" fill-opacity="0.218"/><rect x="125" y="75" width="10" height="10" fill-opacity="0.218"/><rect x="55" y="85" width="10" height="10" fill-opacity="0.218"/><rect x="125" y="85" width="10" height="10" fill-opacity="0.218"/><rect x="165" y="85" width="10" height="10" fill-opacity="0.218"/><rect x="55" y="95" width="10" height="10" fill-opacity="0.218"/><rect x="125" y="95" width="10" height="10" fill-opacity="0.218"/><rect x="35" y="105" width="10" height="10" fill-opacity="0.218"/><rect x="55" y="105" width="10" height="10" fill-opacity="0.218"/><rect x="115" y="105" width="10" height="10" fill-opacity="0.218"/><rect x="35" y="125" width="10" height="10" fill-opacity="0.218"/><rect x="115" y="125" width="10" height="10" fill-opacity="0.218"/><rect x="205" y="125" width="10" height="10" fill-opacity="0.218"/><rect x="215" y="125" width="10" height="10" fill-opacity="0.218"/><rect x="205" y="135" width="10" height="10" fill-opacity="0.218"/></g><g filter="url(#fb)" fill="none" stroke-linecap="round" stroke-linejoin="round"><polyline points="36.0,161.5 42.9,157.1 53.1,151.3 60.4,146.9 67.6,142.5 74.9,138.2 82.2,135.3 89.5,133.8 104.0,131.6 113.2,130.7 124.1,129.6 135.0,126.4" stroke="rgb(255, 170, 8)" stroke-width="8.5"/><polyline points="28.4,171.6 38.5,166.5 50.2,161.5 60.4,158.5 67.6,155.6 74.9,153.5 82.2,149.8 86.5,146.9" stroke="rgb(255, 170, 8)" stroke-width="6.5"/><polyline points="22.0,141.5 30.0,143.0 36.0,143.6 43.0,143.2 53.1,142.0 61.8,140.0 72.0,136.7" stroke="rgb(255, 170, 8)" stroke-width="4.0"/><polyline points="124.0,129.6 135.0,127.0 150.0,126.0 165.0,123.0 180.0,121.0 195.0,119.0 205.0,120.0" stroke="rgb(255, 170, 8)" stroke-width="4.0"/><polyline points="18.0,138.0 28.0,134.0 39.0,127.5 48.0,123.0" stroke="rgb(250, 26, 6)" stroke-width="2.4"/><polyline points="22.0,141.5 30.0,143.0 36.0,143.6 43.0,143.2 53.1,142.0 61.8,140.0 72.0,136.7" stroke="rgb(250, 26, 6)" stroke-width="2.2"/><polyline points="36.0,161.5 42.9,157.1 53.1,151.3 60.4,146.9 67.6,142.5 74.9,138.2 82.2,135.3 89.5,133.8 104.0,131.6 113.2,130.7 124.1,129.6 135.0,126.4" stroke="rgb(250, 26, 6)" stroke-width="3.0"/><polyline points="45.0,155.5 53.1,151.3 60.4,146.9 67.6,142.5" stroke="rgb(250, 26, 6)" stroke-width="5.0"/><polyline points="28.4,171.6 38.5,166.5 50.2,161.5 60.4,158.5 67.6,155.6 74.9,153.5 82.2,149.8 86.5,146.9" stroke="rgb(250, 26, 6)" stroke-width="3.2"/><polyline points="64.7,169.5 77.0,170.5 89.5,168.7 96.7,165.8" stroke="rgb(250, 26, 6)" stroke-width="1.5"/><polyline points="100.0,147.0 102.0,158.0 104.0,170.0 106.0,183.0" stroke="rgb(250, 26, 6)" stroke-width="1.6"/><polyline points="89.0,159.0 92.0,167.0 95.0,176.0" stroke="rgb(250, 26, 6)" stroke-width="1.5"/></g></g></g><polygon points="24.1,94.7 28.5,91.5 33.0,87.7 38.1,83.9 41.3,82.6 43.8,84.5 48.9,85.8 50.2,89.0 55.3,90.3 58.8,90.0 60.5,93.8 63.7,95.5 67.0,97.1 70.3,94.4 73.5,91.6 76.8,92.2 80.1,94.4 84.5,96.0 89.9,97.1 95.4,98.2 100.8,98.7 103.0,97.6 106.3,99.3 109.5,98.2 111.2,94.4 111.2,90.0 112.8,86.7 116.9,85.5 120.7,83.5 123.3,80.4 125.8,78.5 130.3,77.8 133.5,79.1 136.0,82.9 139.8,82.3 143.6,81.0 147.5,79.1 150.1,75.5 155.2,72.4 159.0,69.8 160.3,66.0 165.4,65.4 170.5,66.0 175.5,66.6 179.4,65.4 181.9,61.5 183.2,59.0 185.7,57.1 188.9,55.8 190.2,58.4 192.7,60.3 197.2,60.9 201.0,60.3 203.5,57.7 206.7,56.5 208.0,57.1 206.1,60.3 205.1,63.9 206.4,67.7 210.2,66.5 215.3,65.2 220.4,66.5 225.5,67.7 229.3,67.7 233.1,69.6 236.3,72.2 239.5,73.5 242.0,76.6 243.9,80.5 245.8,82.4 245.2,85.5 246.5,89.4 248.4,93.2 252.2,91.9 254.7,94.5 254.1,98.3 256.6,101.4 261.1,102.6 262.4,106.5 261.1,111.5 259.8,115.4 257.3,118.5 256.0,122.4 258.5,126.2 259.2,128.7 256.0,131.9 254.7,135.7 253.7,139.0 251.2,142.8 248.6,145.4 247.4,147.9 243.5,151.7 241.0,154.3 237.2,154.9 233.4,153.6 228.3,154.3 223.2,152.4 219.4,150.5 216.8,146.6 214.8,144.9 211.0,143.6 205.9,143.6 203.4,142.4 202.1,139.2 200.8,136.0 197.0,134.1 194.5,131.5 193.2,126.5 191.9,125.2 188.7,126.5 184.9,127.7 181.7,131.5 179.2,135.4 176.0,138.5 171.5,139.8 165.2,140.5 161.4,141.7 162.0,144.3 162.6,148.1 160.1,153.2 158.2,158.3 158.2,167.6 158.2,172.7 158.2,177.8 156.9,181.6 155.6,184.2 154.4,182.9 150.5,181.6 146.7,182.3 142.9,181.0 139.1,179.1 135.3,179.1 131.5,180.4 127.6,181.0 123.8,178.5 118.9,180.5 115.7,182.5 115.7,185.6 117.0,190.7 118.3,194.5 115.7,198.4 113.2,199.0 111.9,195.8 110.6,192.0 105.5,190.7 97.9,190.7 92.8,189.5 87.7,188.2 85.8,186.9 82.6,184.4 81.4,179.9 78.8,177.4 75.3,177.3 71.8,178.6 68.0,180.5 65.5,179.9 62.9,177.4 61.0,173.5 57.8,174.2 54.0,176.1 50.8,176.7 50.2,174.2 46.4,176.1 41.3,177.4 35.5,178.6 31.1,178.0 29.2,175.5 27.9,171.6 27.3,165.3 25.4,160.2 24.1,155.7 21.5,153.8 20.9,150.0 20.9,148.1 19.6,145.5 19.0,142.4 17.1,139.8 17.7,137.3 22.2,134.7 26.6,132.8 30.5,129.6 33.6,127.1 34.3,124.5 30.5,121.4 27.3,118.8 25.4,115.0 25.4,113.2 26.0,109.4 24.7,106.8 24.1,100.5" fill="none" stroke="#3a3a3a" stroke-width="0.5"/><path d="M23.4,143.2 C24.4,141.2 28.4,141.3 29.0,143.6 C29.4,145.8 27.4,147.1 25.4,146.6 C23.9,146.2 23.0,144.6 23.4,143.2 Z" fill="#fff" stroke="#555" stroke-width="0.45"/></g>
<g id="map1"><g clip-path="url(#clipmap)"><g filter="url(#soft)"><g filter="url(#bl)"><rect x="5" y="45" width="270" height="170" fill="rgb(250, 26, 6)"/><rect x="15" y="55" width="10" height="10" fill="rgb(250, 26, 6)"/><rect x="25" y="55" width="10" height="10" fill="rgb(250, 26, 6)"/><rect x="35" y="55" width="10" height="10" fill="rgb(250, 26, 6)"/><rect x="45" y="55" width="10" height="10" fill="rgb(250, 26, 6)"/><rect x="55" y="55" width="10" height="10" fill="rgb(250, 26, 6)"/><rect x="65" y="55" width="10" height="10" fill="rgb(94, 228, 12)"/><rect x="75" y="55" width="10" height="10" fill="rgb(94, 228, 12)"/><rect x="85" y="55" width="10" height="10" fill="rgb(94, 228, 12)"/><rect x="95" y="55" width="10" height="10" fill="rgb(250, 26, 6)"/><rect x="105" y="55" width="10" height="10" fill="rgb(250, 26, 6)"/><rect x="115" y="55" width="10" height="10" fill="rgb(250, 26, 6)"/><rect x="125" y="55" width="10" height="10" fill="rgb(250, 26, 6)"/><rect x="135" y="55" width="10" height="10" fill="rgb(94, 228, 12)"/><rect x="145" y="55" width="10" height="10" fill="rgb(94, 228, 12)"/><rect x="155" y="55" width="10" height="10" fill="rgb(94, 228, 12)"/><rect x="165" y="55" width="10" height="10" fill="rgb(94, 228, 12)"/><rect x="175" y="55" width="10" height="10" fill="rgb(94, 228, 12)"/><rect x="185" y="55" width="10" height="10" fill="rgb(94, 228, 12)"/><rect x="195" y="55" width="10" height="10" fill="rgb(94, 228, 12)"/><rect x="205" y="55" width="10" height="10" fill="rgb(94, 228, 12)"/><rect x="215" y="55" width="10" height="10" fill="rgb(94, 228, 12)"/><rect x="225" y="55" width="10" height="10" fill="rgb(94, 228, 12)"/><rect x="235" y="55" width="10" height="10" fill="rgb(238, 240, 96)"/><rect x="245" y="55" width="10" height="10" fill="rgb(238, 240, 96)"/><rect x="255" y="55" width="10" height="10" fill="rgb(238, 240, 96)"/><rect x="15" y="65" width="10" height="10" fill="rgb(250, 26, 6)"/><rect x="25" y="65" width="10" height="10" fill="rgb(250, 26, 6)"/><rect x="35" y="65" width="10" height="10" fill="rgb(250, 26, 6)"/><rect x="45" y="65" width="10" height="10" fill="rgb(250, 26, 6)"/><rect x="55" y="65" width="10" height="10" fill="rgb(250, 26, 6)"/><rect x="65" y="65" width="10" height="10" fill="rgb(94, 228, 12)"/><rect x="75" y="65" width="10" height="10" fill="rgb(94, 228, 12)"/><rect x="85" y="65" width="10" height="10" fill="rgb(94, 228, 12)"/><rect x="95" y="65" width="10" height="10" fill="rgb(250, 26, 6)"/><rect x="105" y="65" width="10" height="10" fill="rgb(250, 26, 6)"/><rect x="115" y="65" width="10" height="10" fill="rgb(250, 26, 6)"/><rect x="125" y="65" width="10" height="10" fill="rgb(250, 26, 6)"/><rect x="135" y="65" width="10" height="10" fill="rgb(94, 228, 12)"/><rect x="145" y="65" width="10" height="10" fill="rgb(94, 228, 12)"/><rect x="155" y="65" width="10" height="10" fill="rgb(94, 228, 12)"/><rect x="165" y="65" width="10" height="10" fill="rgb(94, 228, 12)"/><rect x="175" y="65" width="10" height="10" fill="rgb(94, 228, 12)"/><rect x="185" y="65" width="10" height="10" fill="rgb(94, 228, 12)"/><rect x="195" y="65" width="10" height="10" fill="rgb(94, 228, 12)"/><rect x="205" y="65" width="10" height="10" fill="rgb(94, 228, 12)"/><rect x="215" y="65" width="10" height="10" fill="rgb(94, 228, 12)"/><rect x="225" y="65" width="10" height="10" fill="rgb(94, 228, 12)"/><rect x="235" y="65" width="10" height="10" fill="rgb(238, 240, 96)"/><rect x="245" y="65" width="10" height="10" fill="rgb(238, 240, 96)"/><rect x="255" y="65" width="10" height="10" fill="rgb(238, 240, 96)"/><rect x="15" y="75" width="10" height="10" fill="rgb(250, 26, 6)"/><rect x="25" y="75" width="10" height="10" fill="rgb(250, 26, 6)"/><rect x="35" y="75" width="10" height="10" fill="rgb(250, 26, 6)"/><rect x="45" y="75" width="10" height="10" fill="rgb(250, 26, 6)"/><rect x="55" y="75" width="10" height="10" fill="rgb(250, 26, 6)"/><rect x="65" y="75" width="10" height="10" fill="rgb(94, 228, 12)"/><rect x="75" y="75" width="10" height="10" fill="rgb(94, 228, 12)"/><rect x="85" y="75" width="10" height="10" fill="rgb(94, 228, 12)"/><rect x="95" y="75" width="10" height="10" fill="rgb(250, 26, 6)"/><rect x="105" y="75" width="10" height="10" fill="rgb(250, 26, 6)"/><rect x="115" y="75" width="10" height="10" fill="rgb(250, 26, 6)"/><rect x="125" y="75" width="10" height="10" fill="rgb(250, 26, 6)"/><rect x="135" y="75" width="10" height="10" fill="rgb(94, 228, 12)"/><rect x="145" y="75" width="10" height="10" fill="rgb(94, 228, 12)"/><rect x="155" y="75" width="10" height="10" fill="rgb(94, 228, 12)"/><rect x="165" y="75" width="10" height="10" fill="rgb(94, 228, 12)"/><rect x="175" y="75" width="10" height="10" fill="rgb(94, 228, 12)"/><rect x="185" y="75" width="10" height="10" fill="rgb(94, 228, 12)"/><rect x="195" y="75" width="10" height="10" fill="rgb(94, 228, 12)"/><rect x="205" y="75" width="10" height="10" fill="rgb(94, 228, 12)"/><rect x="215" y="75" width="10" height="10" fill="rgb(94, 228, 12)"/><rect x="225" y="75" width="10" height="10" fill="rgb(94, 228, 12)"/><rect x="235" y="75" width="10" height="10" fill="rgb(94, 228, 12)"/><rect x="245" y="75" width="10" height="10" fill="rgb(94, 228, 12)"/><rect x="255" y="75" width="10" height="10" fill="rgb(255, 170, 8)"/><rect x="15" y="85" width="10" height="10" fill="rgb(250, 26, 6)"/><rect x="25" y="85" width="10" height="10" fill="rgb(250, 26, 6)"/><rect x="35" y="85" width="10" height="10" fill="rgb(250, 26, 6)"/><rect x="45" y="85" width="10" height="10" fill="rgb(250, 26, 6)"/><rect x="55" y="85" width="10" height="10" fill="rgb(250, 26, 6)"/><rect x="65" y="85" width="10" height="10" fill="rgb(94, 228, 12)"/><rect x="75" y="85" width="10" height="10" fill="rgb(94, 228, 12)"/><rect x="85" y="85" width="10" height="10" fill="rgb(94, 228, 12)"/><rect x="95" y="85" width="10" height="10" fill="rgb(250, 26, 6)"/><rect x="105" y="85" width="10" height="10" fill="rgb(250, 26, 6)"/><rect x="115" y="85" width="10" height="10" fill="rgb(250, 26, 6)"/><rect x="125" y="85" width="10" height="10" fill="rgb(250, 26, 6)"/><rect x="135" y="85" width="10" height="10" fill="rgb(94, 228, 12)"/><rect x="145" y="85" width="10" height="10" fill="rgb(94, 228, 12)"/><rect x="155" y="85" width="10" height="10" fill="rgb(94, 228, 12)"/><rect x="165" y="85" width="10" height="10" fill="rgb(94, 228, 12)"/><rect x="175" y="85" width="10" height="10" fill="rgb(94, 228, 12)"/><rect x="185" y="85" width="10" height="10" fill="rgb(94, 228, 12)"/><rect x="195" y="85" width="10" height="10" fill="rgb(94, 228, 12)"/><rect x="205" y="85" width="10" height="10" fill="rgb(94, 228, 12)"/><rect x="215" y="85" width="10" height="10" fill="rgb(94, 228, 12)"/><rect x="225" y="85" width="10" height="10" fill="rgb(94, 228, 12)"/><rect x="235" y="85" width="10" height="10" fill="rgb(94, 228, 12)"/><rect x="245" y="85" width="10" height="10" fill="rgb(94, 228, 12)"/><rect x="255" y="85" width="10" height="10" fill="rgb(255, 170, 8)"/><rect x="15" y="95" width="10" height="10" fill="rgb(250, 26, 6)"/><rect x="25" y="95" width="10" height="10" fill="rgb(250, 26, 6)"/><rect x="35" y="95" width="10" height="10" fill="rgb(250, 26, 6)"/><rect x="45" y="95" width="10" height="10" fill="rgb(250, 26, 6)"/><rect x="55" y="95" width="10" height="10" fill="rgb(94, 228, 12)"/><rect x="65" y="95" width="10" height="10" fill="rgb(94, 228, 12)"/><rect x="75" y="95" width="10" height="10" fill="rgb(94, 228, 12)"/><rect x="85" y="95" width="10" height="10" fill="rgb(94, 228, 12)"/><rect x="95" y="95" width="10" height="10" fill="rgb(250, 26, 6)"/><rect x="105" y="95" width="10" height="10" fill="rgb(250, 26, 6)"/><rect x="115" y="95" width="10" height="10" fill="rgb(250, 26, 6)"/><rect x="125" y="95" width="10" height="10" fill="rgb(250, 26, 6)"/><rect x="135" y="95" width="10" height="10" fill="rgb(250, 26, 6)"/><rect x="145" y="95" width="10" height="10" fill="rgb(94, 228, 12)"/><rect x="155" y="95" width="10" height="10" fill="rgb(94, 228, 12)"/><rect x="165" y="95" width="10" height="10" fill="rgb(94, 228, 12)"/><rect x="175" y="95" width="10" height="10" fill="rgb(94, 228, 12)"/><rect x="185" y="95" width="10" height="10" fill="rgb(94, 228, 12)"/><rect x="195" y="95" width="10" height="10" fill="rgb(94, 228, 12)"/><rect x="205" y="95" width="10" height="10" fill="rgb(94, 228, 12)"/><rect x="215" y="95" width="10" height="10" fill="rgb(94, 228, 12)"/><rect x="225" y="95" width="10" height="10" fill="rgb(94, 228, 12)"/><rect x="235" y="95" width="10" height="10" fill="rgb(94, 228, 12)"/><rect x="245" y="95" width="10" height="10" fill="rgb(255, 170, 8)"/><rect x="255" y="95" width="10" height="10" fill="rgb(255, 170, 8)"/><rect x="15" y="105" width="10" height="10" fill="rgb(250, 26, 6)"/><rect x="25" y="105" width="10" height="10" fill="rgb(94, 228, 12)"/><rect x="35" y="105" width="10" height="10" fill="rgb(94, 228, 12)"/><rect x="45" y="105" width="10" height="10" fill="rgb(250, 26, 6)"/><rect x="55" y="105" width="10" height="10" fill="rgb(94, 228, 12)"/><rect x="65" y="105" width="10" height="10" fill="rgb(94, 228, 12)"/><rect x="75" y="105" width="10" height="10" fill="rgb(94, 228, 12)"/><rect x="85" y="105" width="10" height="10" fill="rgb(94, 228, 12)"/><rect x="95" y="105" width="10" height="10" fill="rgb(250, 26, 6)"/><rect x="105" y="105" width="10" height="10" fill="rgb(250, 26, 6)"/><rect x="115" y="105" width="10" height="10" fill="rgb(250, 26, 6)"/><rect x="125" y="105" width="10" height="10" fill="rgb(94, 228, 12)"/><rect x="135" y="105" width="10" height="10" fill="rgb(94, 228, 12)"/><rect x="145" y="105" width="10" height="10" fill="rgb(94, 228, 12)"/><rect x="155" y="105" width="10" height="10" fill="rgb(94, 228, 12)"/><rect x="165" y="105" width="10" height="10" fill="rgb(94, 228, 12)"/><rect x="175" y="105" width="10" height="10" fill="rgb(94, 228, 12)"/><rect x="185" y="105" width="10" height="10" fill="rgb(94, 228, 12)"/><rect x="195" y="105" width="10" height="10" fill="rgb(94, 228, 12)"/><rect x="205" y="105" width="10" height="10" fill="rgb(94, 228, 12)"/><rect x="215" y="105" width="10" height="10" fill="rgb(94, 228, 12)"/><rect x="225" y="105" width="10" height="10" fill="rgb(94, 228, 12)"/><rect x="235" y="105" width="10" height="10" fill="rgb(94, 228, 12)"/><rect x="245" y="105" width="10" height="10" fill="rgb(255, 170, 8)"/><rect x="255" y="105" width="10" height="10" fill="rgb(255, 170, 8)"/><rect x="15" y="115" width="10" height="10" fill="rgb(94, 228, 12)"/><rect x="25" y="115" width="10" height="10" fill="rgb(94, 228, 12)"/><rect x="35" y="115" width="10" height="10" fill="rgb(94, 228, 12)"/><rect x="45" y="115" width="10" height="10" fill="rgb(94, 228, 12)"/><rect x="55" y="115" width="10" height="10" fill="rgb(94, 228, 12)"/><rect x="65" y="115" width="10" height="10" fill="rgb(94, 228, 12)"/><rect x="75" y="115" width="10" height="10" fill="rgb(94, 228, 12)"/><rect x="85" y="115" width="10" height="10" fill="rgb(94, 228, 12)"/><rect x="95" y="115" width="10" height="10" fill="rgb(94, 228, 12)"/><rect x="105" y="115" width="10" height="10" fill="rgb(250, 26, 6)"/><rect x="115" y="115" width="10" height="10" fill="rgb(250, 26, 6)"/><rect x="125" y="115" width="10" height="10" fill="rgb(94, 228, 12)"/><rect x="135" y="115" width="10" height="10" fill="rgb(94, 228, 12)"/><rect x="145" y="115" width="10" height="10" fill="rgb(250, 26, 6)"/><rect x="155" y="115" width="10" height="10" fill="rgb(94, 228, 12)"/><rect x="165" y="115" width="10" height="10" fill="rgb(255, 170, 8)"/><rect x="175" y="115" width="10" height="10" fill="rgb(94, 228, 12)"/><rect x="185" y="115" width="10" height="10" fill="rgb(94, 228, 12)"/><rect x="195" y="115" width="10" height="10" fill="rgb(250, 26, 6)"/><rect x="205" y="115" width="10" height="10" fill="rgb(94, 228, 12)"/><rect x="215" y="115" width="10" height="10" fill="rgb(250, 26, 6)"/><rect x="225" y="115" width="10" height="10" fill="rgb(94, 228, 12)"/><rect x="235" y="115" width="10" height="10" fill="rgb(250, 26, 6)"/><rect x="245" y="115" width="10" height="10" fill="rgb(250, 26, 6)"/><rect x="255" y="115" width="10" height="10" fill="rgb(94, 228, 12)"/><rect x="15" y="125" width="10" height="10" fill="rgb(250, 26, 6)"/><rect x="25" y="125" width="10" height="10" fill="rgb(250, 26, 6)"/><rect x="35" y="125" width="10" height="10" fill="rgb(250, 26, 6)"/><rect x="45" y="125" width="10" height="10" fill="rgb(94, 228, 12)"/><rect x="55" y="125" width="10" height="10" fill="rgb(250, 26, 6)"/><rect x="65" y="125" width="10" height="10" fill="rgb(94, 228, 12)"/><rect x="75" y="125" width="10" height="10" fill="rgb(250, 26, 6)"/><rect x="85" y="125" width="10" height="10" fill="rgb(250, 26, 6)"/><rect x="95" y="125" width="10" height="10" fill="rgb(250, 26, 6)"/><rect x="105" y="125" width="10" height="10" fill="rgb(250, 26, 6)"/><rect x="115" y="125" width="10" height="10" fill="rgb(250, 26, 6)"/><rect x="125" y="125" width="10" height="10" fill="rgb(94, 228, 12)"/><rect x="135" y="125" width="10" height="10" fill="rgb(250, 26, 6)"/><rect x="145" y="125" width="10" height="10" fill="rgb(94, 228, 12)"/><rect x="155" y="125" width="10" height="10" fill="rgb(94, 228, 12)"/><rect x="165" y="125" width="10" height="10" fill="rgb(94, 228, 12)"/><rect x="175" y="125" width="10" height="10" fill="rgb(94, 228, 12)"/><rect x="185" y="125" width="10" height="10" fill="rgb(94, 228, 12)"/><rect x="195" y="125" width="10" height="10" fill="rgb(250, 26, 6)"/><rect x="205" y="125" width="10" height="10" fill="rgb(250, 26, 6)"/><rect x="215" y="125" width="10" height="10" fill="rgb(250, 26, 6)"/><rect x="225" y="125" width="10" height="10" fill="rgb(255, 170, 8)"/><rect x="235" y="125" width="10" height="10" fill="rgb(94, 228, 12)"/><rect x="245" y="125" width="10" height="10" fill="rgb(94, 228, 12)"/><rect x="255" y="125" width="10" height="10" fill="rgb(255, 170, 8)"/><rect x="15" y="135" width="10" height="10" fill="rgb(94, 228, 12)"/><rect x="25" y="135" width="10" height="10" fill="rgb(94, 228, 12)"/><rect x="35" y="135" width="10" height="10" fill="rgb(250, 26, 6)"/><rect x="45" y="135" width="10" height="10" fill="rgb(250, 26, 6)"/><rect x="55" y="135" width="10" height="10" fill="rgb(250, 26, 6)"/><rect x="65" y="135" width="10" height="10" fill="rgb(94, 228, 12)"/><rect x="75" y="135" width="10" height="10" fill="rgb(250, 26, 6)"/><rect x="85" y="135" width="10" height="10" fill="rgb(250, 26, 6)"/><rect x="95" y="135" width="10" height="10" fill="rgb(94, 228, 12)"/><rect x="105" y="135" width="10" height="10" fill="rgb(94, 228, 12)"/><rect x="115" y="135" width="10" height="10" fill="rgb(94, 228, 12)"/><rect x="125" y="135" width="10" height="10" fill="rgb(94, 228, 12)"/><rect x="135" y="135" width="10" height="10" fill="rgb(94, 228, 12)"/><rect x="145" y="135" width="10" height="10" fill="rgb(94, 228, 12)"/><rect x="155" y="135" width="10" height="10" fill="rgb(94, 228, 12)"/><rect x="165" y="135" width="10" height="10" fill="rgb(94, 228, 12)"/><rect x="175" y="135" width="10" height="10" fill="rgb(94, 228, 12)"/><rect x="185" y="135" width="10" height="10" fill="rgb(94, 228, 12)"/><rect x="195" y="135" width="10" height="10" fill="rgb(250, 26, 6)"/><rect x="205" y="135" width="10" height="10" fill="rgb(250, 26, 6)"/><rect x="215" y="135" width="10" height="10" fill="rgb(250, 26, 6)"/><rect x="225" y="135" width="10" height="10" fill="rgb(250, 26, 6)"/><rect x="235" y="135" width="10" height="10" fill="rgb(94, 228, 12)"/><rect x="245" y="135" width="10" height="10" fill="rgb(250, 26, 6)"/><rect x="255" y="135" width="10" height="10" fill="rgb(250, 26, 6)"/><rect x="15" y="145" width="10" height="10" fill="rgb(94, 228, 12)"/><rect x="25" y="145" width="10" height="10" fill="rgb(94, 228, 12)"/><rect x="35" y="145" width="10" height="10" fill="rgb(94, 228, 12)"/><rect x="45" y="145" width="10" height="10" fill="rgb(250, 26, 6)"/><rect x="55" y="145" width="10" height="10" fill="rgb(94, 228, 12)"/><rect x="65" y="145" width="10" height="10" fill="rgb(94, 228, 12)"/><rect x="75" y="145" width="10" height="10" fill="rgb(94, 228, 12)"/><rect x="85" y="145" width="10" height="10" fill="rgb(250, 26, 6)"/><rect x="95" y="145" width="10" height="10" fill="rgb(94, 228, 12)"/><rect x="105" y="145" width="10" height="10" fill="rgb(94, 228, 12)"/><rect x="115" y="145" width="10" height="10" fill="rgb(94, 228, 12)"/><rect x="125" y="145" width="10" height="10" fill="rgb(94, 228, 12)"/><rect x="135" y="145" width="10" height="10" fill="rgb(94, 228, 12)"/><rect x="145" y="145" width="10" height="10" fill="rgb(94, 228, 12)"/><rect x="155" y="145" width="10" height="10" fill="rgb(94, 228, 12)"/><rect x="165" y="145" width="10" height="10" fill="rgb(94, 228, 12)"/><rect x="175" y="145" width="10" height="10" fill="rgb(94, 228, 12)"/><rect x="185" y="145" width="10" height="10" fill="rgb(94, 228, 12)"/><rect x="195" y="145" width="10" height="10" fill="rgb(94, 228, 12)"/><rect x="205" y="145" width="10" height="10" fill="rgb(94, 228, 12)"/><rect x="215" y="145" width="10" height="10" fill="rgb(94, 228, 12)"/><rect x="225" y="145" width="10" height="10" fill="rgb(94, 228, 12)"/><rect x="235" y="145" width="10" height="10" fill="rgb(94, 228, 12)"/><rect x="245" y="145" width="10" height="10" fill="rgb(255, 170, 8)"/><rect x="255" y="145" width="10" height="10" fill="rgb(255, 170, 8)"/><rect x="15" y="155" width="10" height="10" fill="rgb(94, 228, 12)"/><rect x="25" y="155" width="10" height="10" fill="rgb(94, 228, 12)"/><rect x="35" y="155" width="10" height="10" fill="rgb(94, 228, 12)"/><rect x="45" y="155" width="10" height="10" fill="rgb(94, 228, 12)"/><rect x="55" y="155" width="10" height="10" fill="rgb(94, 228, 12)"/><rect x="65" y="155" width="10" height="10" fill="rgb(94, 228, 12)"/><rect x="75" y="155" width="10" height="10" fill="rgb(94, 228, 12)"/><rect x="85" y="155" width="10" height="10" fill="rgb(250, 26, 6)"/><rect x="95" y="155" width="10" height="10" fill="rgb(94, 228, 12)"/><rect x="105" y="155" width="10" height="10" fill="rgb(94, 228, 12)"/><rect x="115" y="155" width="10" height="10" fill="rgb(94, 228, 12)"/><rect x="125" y="155" width="10" height="10" fill="rgb(94, 228, 12)"/><rect x="135" y="155" width="10" height="10" fill="rgb(94, 228, 12)"/><rect x="145" y="155" width="10" height="10" fill="rgb(94, 228, 12)"/><rect x="155" y="155" width="10" height="10" fill="rgb(94, 228, 12)"/><rect x="165" y="155" width="10" height="10" fill="rgb(94, 228, 12)"/><rect x="175" y="155" width="10" height="10" fill="rgb(94, 228, 12)"/><rect x="185" y="155" width="10" height="10" fill="rgb(94, 228, 12)"/><rect x="195" y="155" width="10" height="10" fill="rgb(94, 228, 12)"/><rect x="205" y="155" width="10" height="10" fill="rgb(94, 228, 12)"/><rect x="215" y="155" width="10" height="10" fill="rgb(94, 228, 12)"/><rect x="225" y="155" width="10" height="10" fill="rgb(94, 228, 12)"/><rect x="235" y="155" width="10" height="10" fill="rgb(94, 228, 12)"/><rect x="245" y="155" width="10" height="10" fill="rgb(94, 228, 12)"/><rect x="255" y="155" width="10" height="10" fill="rgb(94, 228, 12)"/><rect x="15" y="165" width="10" height="10" fill="rgb(94, 228, 12)"/><rect x="25" y="165" width="10" height="10" fill="rgb(94, 228, 12)"/><rect x="35" y="165" width="10" height="10" fill="rgb(94, 228, 12)"/><rect x="45" y="165" width="10" height="10" fill="rgb(94, 228, 12)"/><rect x="55" y="165" width="10" height="10" fill="rgb(94, 228, 12)"/><rect x="65" y="165" width="10" height="10" fill="rgb(94, 228, 12)"/><rect x="75" y="165" width="10" height="10" fill="rgb(250, 26, 6)"/><rect x="85" y="165" width="10" height="10" fill="rgb(94, 228, 12)"/><rect x="95" y="165" width="10" height="10" fill="rgb(250, 26, 6)"/><rect x="105" y="165" width="10" height="10" fill="rgb(94, 228, 12)"/><rect x="115" y="165" width="10" height="10" fill="rgb(94, 228, 12)"/><rect x="125" y="165" width="10" height="10" fill="rgb(94, 228, 12)"/><rect x="135" y="165" width="10" height="10" fill="rgb(94, 228, 12)"/><rect x="145" y="165" width="10" height="10" fill="rgb(94, 228, 12)"/><rect x="155" y="165" width="10" height="10" fill="rgb(94, 228, 12)"/><rect x="165" y="165" width="10" height="10" fill="rgb(94, 228, 12)"/><rect x="175" y="165" width="10" height="10" fill="rgb(94, 228, 12)"/><rect x="185" y="165" width="10" height="10" fill="rgb(94, 228, 12)"/><rect x="195" y="165" width="10" height="10" fill="rgb(94, 228, 12)"/><rect x="205" y="165" width="10" height="10" fill="rgb(94, 228, 12)"/><rect x="215" y="165" width="10" height="10" fill="rgb(94, 228, 12)"/><rect x="225" y="165" width="10" height="10" fill="rgb(94, 228, 12)"/><rect x="235" y="165" width="10" height="10" fill="rgb(94, 228, 12)"/><rect x="245" y="165" width="10" height="10" fill="rgb(94, 228, 12)"/><rect x="255" y="165" width="10" height="10" fill="rgb(94, 228, 12)"/><rect x="15" y="175" width="10" height="10" fill="rgb(94, 228, 12)"/><rect x="25" y="175" width="10" height="10" fill="rgb(94, 228, 12)"/><rect x="35" y="175" width="10" height="10" fill="rgb(94, 228, 12)"/><rect x="45" y="175" width="10" height="10" fill="rgb(94, 228, 12)"/><rect x="55" y="175" width="10" height="10" fill="rgb(94, 228, 12)"/><rect x="65" y="175" width="10" height="10" fill="rgb(255, 170, 8)"/><rect x="75" y="175" width="10" height="10" fill="rgb(94, 228, 12)"/><rect x="85" y="175" width="10" height="10" fill="rgb(94, 228, 12)"/><rect x="95" y="175" width="10" height="10" fill="rgb(94, 228, 12)"/><rect x="105" y="175" width="10" height="10" fill="rgb(94, 228, 12)"/><rect x="115" y="175" width="10" height="10" fill="rgb(94, 228, 12)"/><rect x="125" y="175" width="10" height="10" fill="rgb(94, 228, 12)"/><rect x="135" y="175" width="10" height="10" fill="rgb(94, 228, 12)"/><rect x="145" y="175" width="10" height="10" fill="rgb(94, 228, 12)"/><rect x="155" y="175" width="10" height="10" fill="rgb(255, 170, 8)"/><rect x="165" y="175" width="10" height="10" fill="rgb(255, 170, 8)"/><rect x="175" y="175" width="10" height="10" fill="rgb(255, 170, 8)"/><rect x="185" y="175" width="10" height="10" fill="rgb(255, 170, 8)"/><rect x="195" y="175" width="10" height="10" fill="rgb(255, 170, 8)"/><rect x="205" y="175" width="10" height="10" fill="rgb(94, 228, 12)"/><rect x="215" y="175" width="10" height="10" fill="rgb(94, 228, 12)"/><rect x="225" y="175" width="10" height="10" fill="rgb(94, 228, 12)"/><rect x="235" y="175" width="10" height="10" fill="rgb(94, 228, 12)"/><rect x="245" y="175" width="10" height="10" fill="rgb(94, 228, 12)"/><rect x="255" y="175" width="10" height="10" fill="rgb(94, 228, 12)"/><rect x="15" y="185" width="10" height="10" fill="rgb(94, 228, 12)"/><rect x="25" y="185" width="10" height="10" fill="rgb(94, 228, 12)"/><rect x="35" y="185" width="10" height="10" fill="rgb(94, 228, 12)"/><rect x="45" y="185" width="10" height="10" fill="rgb(94, 228, 12)"/><rect x="55" y="185" width="10" height="10" fill="rgb(94, 228, 12)"/><rect x="65" y="185" width="10" height="10" fill="rgb(255, 170, 8)"/><rect x="75" y="185" width="10" height="10" fill="rgb(94, 228, 12)"/><rect x="85" y="185" width="10" height="10" fill="rgb(94, 228, 12)"/><rect x="95" y="185" width="10" height="10" fill="rgb(94, 228, 12)"/><rect x="105" y="185" width="10" height="10" fill="rgb(255, 170, 8)"/><rect x="115" y="185" width="10" height="10" fill="rgb(94, 228, 12)"/><rect x="125" y="185" width="10" height="10" fill="rgb(94, 228, 12)"/><rect x="135" y="185" width="10" height="10" fill="rgb(94, 228, 12)"/><rect x="145" y="185" width="10" height="10" fill="rgb(94, 228, 12)"/><rect x="155" y="185" width="10" height="10" fill="rgb(255, 170, 8)"/><rect x="165" y="185" width="10" height="10" fill="rgb(255, 170, 8)"/><rect x="175" y="185" width="10" height="10" fill="rgb(255, 170, 8)"/><rect x="185" y="185" width="10" height="10" fill="rgb(255, 170, 8)"/><rect x="195" y="185" width="10" height="10" fill="rgb(255, 170, 8)"/><rect x="205" y="185" width="10" height="10" fill="rgb(94, 228, 12)"/><rect x="215" y="185" width="10" height="10" fill="rgb(94, 228, 12)"/><rect x="225" y="185" width="10" height="10" fill="rgb(94, 228, 12)"/><rect x="235" y="185" width="10" height="10" fill="rgb(94, 228, 12)"/><rect x="245" y="185" width="10" height="10" fill="rgb(94, 228, 12)"/><rect x="255" y="185" width="10" height="10" fill="rgb(94, 228, 12)"/><rect x="15" y="195" width="10" height="10" fill="rgb(94, 228, 12)"/><rect x="25" y="195" width="10" height="10" fill="rgb(94, 228, 12)"/><rect x="35" y="195" width="10" height="10" fill="rgb(94, 228, 12)"/><rect x="45" y="195" width="10" height="10" fill="rgb(94, 228, 12)"/><rect x="55" y="195" width="10" height="10" fill="rgb(94, 228, 12)"/><rect x="65" y="195" width="10" height="10" fill="rgb(255, 170, 8)"/><rect x="75" y="195" width="10" height="10" fill="rgb(94, 228, 12)"/><rect x="85" y="195" width="10" height="10" fill="rgb(94, 228, 12)"/><rect x="95" y="195" width="10" height="10" fill="rgb(94, 228, 12)"/><rect x="105" y="195" width="10" height="10" fill="rgb(255, 170, 8)"/><rect x="115" y="195" width="10" height="10" fill="rgb(255, 170, 8)"/><rect x="125" y="195" width="10" height="10" fill="rgb(255, 170, 8)"/><rect x="135" y="195" width="10" height="10" fill="rgb(255, 170, 8)"/><rect x="145" y="195" width="10" height="10" fill="rgb(255, 170, 8)"/><rect x="155" y="195" width="10" height="10" fill="rgb(255, 170, 8)"/><rect x="165" y="195" width="10" height="10" fill="rgb(255, 170, 8)"/><rect x="175" y="195" width="10" height="10" fill="rgb(255, 170, 8)"/><rect x="185" y="195" width="10" height="10" fill="rgb(255, 170, 8)"/><rect x="195" y="195" width="10" height="10" fill="rgb(255, 170, 8)"/><rect x="205" y="195" width="10" height="10" fill="rgb(94, 228, 12)"/><rect x="215" y="195" width="10" height="10" fill="rgb(94, 228, 12)"/><rect x="225" y="195" width="10" height="10" fill="rgb(94, 228, 12)"/><rect x="235" y="195" width="10" height="10" fill="rgb(94, 228, 12)"/><rect x="245" y="195" width="10" height="10" fill="rgb(94, 228, 12)"/><rect x="255" y="195" width="10" height="10" fill="rgb(94, 228, 12)"/></g><g filter="url(#mG)"><rect x="125" y="85" width="10" height="10" fill-opacity="0.218"/><rect x="95" y="95" width="10" height="10" fill-opacity="0.218"/><rect x="125" y="95" width="10" height="10" fill-opacity="0.218"/><rect x="15" y="105" width="10" height="10" fill-opacity="0.218"/><rect x="115" y="115" width="10" height="10" fill-opacity="0.218"/><rect x="25" y="125" width="10" height="10" fill-opacity="0.218"/><rect x="55" y="135" width="10" height="10" fill-opacity="0.218"/><rect x="45" y="145" width="10" height="10" fill-opacity="0.218"/></g><g filter="url(#mY)"><rect x="245" y="85" width="10" height="10" fill-opacity="0.346"/></g><g filter="url(#mO)"><rect x="45" y="55" width="10" height="10" fill-opacity="0.177"/><rect x="55" y="55" width="10" height="10" fill-opacity="0.177"/><rect x="95" y="55" width="10" height="10" fill-opacity="0.177"/><rect x="105" y="55" width="10" height="10" fill-opacity="0.177"/><rect x="115" y="55" width="10" height="10" fill-opacity="0.177"/><rect x="125" y="55" width="10" height="10" fill-opacity="0.346"/><rect x="135" y="55" width="10" height="10" fill-opacity="0.138"/><rect x="145" y="55" width="10" height="10" fill-opacity="0.138"/><rect x="155" y="55" width="10" height="10" fill-opacity="0.138"/><rect x="165" y="55" width="10" height="10" fill-opacity="0.138"/><rect x="175" y="55" width="10" height="10" fill-opacity="0.138"/><rect x="185" y="55" width="10" height="10" fill-opacity="0.138"/><rect x="225" y="55" width="10" height="10" fill-opacity="0.138"/><rect x="235" y="55" width="10" height="10" fill-opacity="0.308"/><rect x="245" y="55" width="10" height="10" fill-opacity="0.308"/><rect x="255" y="55" width="10" height="10" fill-opacity="0.308"/><rect x="45" y="65" width="10" height="10" fill-opacity="0.177"/><rect x="55" y="65" width="10" height="10" fill-opacity="0.177"/><rect x="95" y="65" width="10" height="10" fill-opacity="0.177"/><rect x="105" y="65" width="10" height="10" fill-opacity="0.177"/><rect x="115" y="65" width="10" height="10" fill-opacity="0.177"/><rect x="125" y="65" width="10" height="10" fill-opacity="0.346"/><rect x="135" y="65" width="10" height="10" fill-opacity="0.138"/><rect x="145" y="65" width="10" height="10" fill-opacity="0.138"/><rect x="155" y="65" width="10" height="10" fill-opacity="0.138"/><rect x="165" y="65" width="10" height="10" fill-opacity="0.138"/><rect x="185" y="65" width="10" height="10" fill-opacity="0.138"/><rect x="205" y="65" width="10" height="10" fill-opacity="0.138"/><rect x="215" y="65" width="10" height="10" fill-opacity="0.138"/><rect x="225" y="65" width="10" height="10" fill-opacity="0.138"/><rect x="235" y="65" width="10" height="10" fill-opacity="0.308"/><rect x="245" y="65" width="10" height="10" fill-opacity="0.308"/><rect x="255" y="65" width="10" height="10" fill-opacity="0.308"/><rect x="45" y="75" width="10" height="10" fill-opacity="0.177"/><rect x="55" y="75" width="10" height="10" fill-opacity="0.177"/><rect x="95" y="75" width="10" height="10" fill-opacity="0.177"/><rect x="105" y="75" width="10" height="10" fill-opacity="0.177"/><rect x="115" y="75" width="10" height="10" fill-opacity="0.177"/><rect x="125" y="75" width="10" height="10" fill-opacity="0.346"/><rect x="155" y="75" width="10" height="10" fill-opacity="0.138"/><rect x="165" y="75" width="10" height="10" fill-opacity="0.138"/><rect x="175" y="75" width="10" height="10" fill-opacity="0.138"/><rect x="185" y="75" width="10" height="10" fill-opacity="0.138"/><rect x="205" y="75" width="10" height="10" fill-opacity="0.138"/><rect x="215" y="75" width="10" height="10" fill-opacity="0.138"/><rect x="225" y="75" width="10" height="10" fill-opacity="0.138"/><rect x="235" y="75" width="10" height="10" fill-opacity="0.138"/><rect x="245" y="75" width="10" height="10" fill-opacity="0.138"/><rect x="15" y="85" width="10" height="10" fill-opacity="0.177"/><rect x="25" y="85" width="10" height="10" fill-opacity="0.177"/><rect x="55" y="85" width="10" height="10" fill-opacity="0.177"/><rect x="95" y="85" width="10" height="10" fill-opacity="0.177"/><rect x="105" y="85" width="10" height="10" fill-opacity="0.177"/><rect x="115" y="85" width="10" height="10" fill-opacity="0.177"/><rect x="145" y="85" width="10" height="10" fill-opacity="0.138"/><rect x="165" y="85" width="10" height="10" fill-opacity="0.138"/><rect x="175" y="85" width="10" height="10" fill-opacity="0.138"/><rect x="185" y="85" width="10" height="10" fill-opacity="0.138"/><rect x="195" y="85" width="10" height="10" fill-opacity="0.138"/><rect x="215" y="85" width="10" height="10" fill-opacity="0.138"/><rect x="225" y="85" width="10" height="10" fill-opacity="0.138"/><rect x="235" y="85" width="10" height="10" fill-opacity="0.138"/><rect x="35" y="95" width="10" height="10" fill-opacity="0.177"/><rect x="45" y="95" width="10" height="10" fill-opacity="0.177"/><rect x="105" y="95" width="10" height="10" fill-opacity="0.346"/><rect x="115" y="95" width="10" height="10" fill-opacity="0.177"/><rect x="135" y="95" width="10" height="10" fill-opacity="0.346"/><rect x="165" y="95" width="10" height="10" fill-opacity="0.138"/><rect x="175" y="95" width="10" height="10" fill-opacity="0.138"/><rect x="185" y="95" width="10" height="10" fill-opacity="0.138"/><rect x="195" y="95" width="10" height="10" fill-opacity="0.138"/><rect x="205" y="95" width="10" height="10" fill-opacity="0.138"/><rect x="215" y="95" width="10" height="10" fill-opacity="0.138"/><rect x="225" y="95" width="10" height="10" fill-opacity="0.138"/><rect x="235" y="95" width="10" height="10" fill-opacity="0.138"/><rect x="95" y="105" width="10" height="10" fill-opacity="0.177"/><rect x="105" y="105" width="10" height="10" fill-opacity="0.177"/><rect x="115" y="105" width="10" height="10" fill-opacity="0.346"/><rect x="145" y="105" width="10" height="10" fill-opacity="0.138"/><rect x="155" y="105" width="10" height="10" fill-opacity="0.138"/><rect x="165" y="105" width="10" height="10" fill-opacity="0.138"/><rect x="175" y="105" width="10" height="10" fill-opacity="0.138"/><rect x="185" y="105" width="10" height="10" fill-opacity="0.138"/><rect x="195" y="105" width="10" height="10" fill-opacity="0.138"/><rect x="205" y="105" width="10" height="10" fill-opacity="0.138"/><rect x="215" y="105" width="10" height="10" fill-opacity="0.138"/><rect x="225" y="105" width="10" height="10" fill-opacity="0.138"/><rect x="235" y="105" width="10" height="10" fill-opacity="0.138"/><rect x="105" y="115" width="10" height="10" fill-opacity="0.346"/><rect x="145" y="115" width="10" height="10" fill-opacity="0.346"/><rect x="155" y="115" width="10" height="10" fill-opacity="0.138"/><rect x="185" y="115" width="10" height="10" fill-opacity="0.138"/><rect x="195" y="115" width="10" height="10" fill-opacity="0.346"/><rect x="215" y="115" width="10" height="10" fill-opacity="0.346"/><rect x="235" y="115" width="10" height="10" fill-opacity="0.346"/><rect x="245" y="115" width="10" height="10" fill-opacity="0.346"/><rect x="35" y="125" width="10" height="10" fill-opacity="0.177"/><rect x="55" y="125" width="10" height="10" fill-opacity="0.346"/><rect x="75" y="125" width="10" height="10" fill-opacity="0.346"/><rect x="85" y="125" width="10" height="10" fill-opacity="0.346"/><rect x="95" y="125" width="10" height="10" fill-opacity="0.177"/><rect x="105" y="125" width="10" height="10" fill-opacity="0.177"/><rect x="115" y="125" width="10" height="10" fill-opacity="0.346"/><rect x="135" y="125" width="10" height="10" fill-opacity="0.346"/><rect x="195" y="125" width="10" height="10" fill-opacity="0.346"/><rect x="205" y="125" width="10" height="10" fill-opacity="0.346"/><rect x="215" y="125" width="10" height="10" fill-opacity="0.346"/><rect x="75" y="135" width="10" height="10" fill-opacity="0.346"/><rect x="85" y="135" width="10" height="10" fill-opacity="0.346"/><rect x="135" y="135" width="10" height="10" fill-opacity="0.138"/><rect x="195" y="135" width="10" height="10" fill-opacity="0.346"/><rect x="205" y="135" width="10" height="10" fill-opacity="0.346"/><rect x="215" y="135" width="10" height="10" fill-opacity="0.346"/><rect x="225" y="135" width="10" height="10" fill-opacity="0.346"/><rect x="245" y="135" width="10" height="10" fill-opacity="0.346"/><rect x="255" y="135" width="10" height="10" fill-opacity="0.346"/><rect x="85" y="145" width="10" height="10" fill-opacity="0.346"/><rect x="135" y="145" width="10" height="10" fill-opacity="0.138"/><rect x="85" y="155" width="10" height="10" fill-opacity="0.346"/><rect x="125" y="155" width="10" height="10" fill-opacity="0.138"/><rect x="235" y="155" width="10" height="10" fill-opacity="0.138"/><rect x="245" y="155" width="10" height="10" fill-opacity="0.138"/><rect x="255" y="155" width="10" height="10" fill-opacity="0.138"/><rect x="75" y="165" width="10" height="10" fill-opacity="0.346"/><rect x="95" y="165" width="10" height="10" fill-opacity="0.346"/><rect x="125" y="165" width="10" height="10" fill-opacity="0.138"/><rect x="135" y="165" width="10" height="10" fill-opacity="0.138"/><rect x="235" y="165" width="10" height="10" fill-opacity="0.138"/><rect x="245" y="165" width="10" height="10" fill-opacity="0.138"/><rect x="255" y="165" width="10" height="10" fill-opacity="0.138"/><rect x="125" y="175" width="10" height="10" fill-opacity="0.138"/><rect x="235" y="175" width="10" height="10" fill-opacity="0.138"/><rect x="245" y="175" width="10" height="10" fill-opacity="0.138"/><rect x="255" y="175" width="10" height="10" fill-opacity="0.138"/><rect x="235" y="185" width="10" height="10" fill-opacity="0.138"/><rect x="245" y="185" width="10" height="10" fill-opacity="0.138"/><rect x="255" y="185" width="10" height="10" fill-opacity="0.138"/><rect x="235" y="195" width="10" height="10" fill-opacity="0.138"/><rect x="245" y="195" width="10" height="10" fill-opacity="0.138"/><rect x="255" y="195" width="10" height="10" fill-opacity="0.138"/></g><g filter="url(#mR)"><rect x="255" y="75" width="10" height="10" fill-opacity="0.218"/><rect x="255" y="85" width="10" height="10" fill-opacity="0.218"/><rect x="245" y="95" width="10" height="10" fill-opacity="0.218"/><rect x="245" y="105" width="10" height="10" fill-opacity="0.218"/><rect x="255" y="105" width="10" height="10" fill-opacity="0.218"/><rect x="165" y="115" width="10" height="10" fill-opacity="0.218"/><rect x="225" y="125" width="10" height="10" fill-opacity="0.218"/><rect x="65" y="175" width="10" height="10" fill-opacity="0.218"/><rect x="65" y="185" width="10" height="10" fill-opacity="0.218"/><rect x="105" y="185" width="10" height="10" fill-opacity="0.218"/><rect x="65" y="195" width="10" height="10" fill-opacity="0.218"/><rect x="105" y="195" width="10" height="10" fill-opacity="0.218"/><rect x="115" y="195" width="10" height="10" fill-opacity="0.218"/><rect x="125" y="195" width="10" height="10" fill-opacity="0.218"/><rect x="135" y="195" width="10" height="10" fill-opacity="0.218"/><rect x="145" y="195" width="10" height="10" fill-opacity="0.218"/></g><g filter="url(#mP)"><rect x="75" y="55" width="10" height="10" fill-opacity="0.346"/><rect x="85" y="55" width="10" height="10" fill-opacity="0.346"/><rect x="75" y="65" width="10" height="10" fill-opacity="0.346"/><rect x="85" y="65" width="10" height="10" fill-opacity="0.346"/><rect x="75" y="75" width="10" height="10" fill-opacity="0.346"/><rect x="85" y="75" width="10" height="10" fill-opacity="0.346"/><rect x="135" y="75" width="10" height="10" fill-opacity="0.346"/><rect x="75" y="85" width="10" height="10" fill-opacity="0.346"/><rect x="85" y="85" width="10" height="10" fill-opacity="0.346"/><rect x="135" y="85" width="10" height="10" fill-opacity="0.346"/><rect x="55" y="95" width="10" height="10" fill-opacity="0.346"/><rect x="65" y="95" width="10" height="10" fill-opacity="0.346"/><rect x="75" y="95" width="10" height="10" fill-opacity="0.346"/><rect x="85" y="95" width="10" height="10" fill-opacity="0.346"/><rect x="145" y="95" width="10" height="10" fill-opacity="0.346"/><rect x="25" y="105" width="10" height="10" fill-opacity="0.346"/><rect x="35" y="105" width="10" height="10" fill-opacity="0.346"/><rect x="55" y="105" width="10" height="10" fill-opacity="0.346"/><rect x="65" y="105" width="10" height="10" fill-opacity="0.346"/><rect x="75" y="105" width="10" height="10" fill-opacity="0.346"/><rect x="85" y="105" width="10" height="10" fill-opacity="0.346"/><rect x="125" y="105" width="10" height="10" fill-opacity="0.346"/><rect x="135" y="105" width="10" height="10" fill-opacity="0.346"/><rect x="45" y="115" width="10" height="10" fill-opacity="0.346"/><rect x="65" y="115" width="10" height="10" fill-opacity="0.346"/><rect x="75" y="115" width="10" height="10" fill-opacity="0.346"/><rect x="85" y="115" width="10" height="10" fill-opacity="0.346"/><rect x="125" y="115" width="10" height="10" fill-opacity="0.346"/><rect x="175" y="115" width="10" height="10" fill-opacity="0.346"/><rect x="205" y="115" width="10" height="10" fill-opacity="0.346"/><rect x="225" y="115" width="10" height="10" fill-opacity="0.346"/><rect x="255" y="115" width="10" height="10" fill-opacity="0.346"/><rect x="45" y="125" width="10" height="10" fill-opacity="0.346"/><rect x="125" y="125" width="10" height="10" fill-opacity="0.346"/><rect x="155" y="125" width="10" height="10" fill-opacity="0.346"/><rect x="165" y="125" width="10" height="10" fill-opacity="0.346"/><rect x="175" y="125" width="10" height="10" fill-opacity="0.346"/><rect x="185" y="125" width="10" height="10" fill-opacity="0.346"/><rect x="235" y="125" width="10" height="10" fill-opacity="0.346"/><rect x="245" y="125" width="10" height="10" fill-opacity="0.346"/><rect x="15" y="135" width="10" height="10" fill-opacity="0.346"/><rect x="25" y="135" width="10" height="10" fill-opacity="0.346"/><rect x="65" y="135" width="10" height="10" fill-opacity="0.346"/><rect x="95" y="135" width="10" height="10" fill-opacity="0.346"/><rect x="105" y="135" width="10" height="10" fill-opacity="0.346"/><rect x="175" y="135" width="10" height="10" fill-opacity="0.346"/><rect x="185" y="135" width="10" height="10" fill-opacity="0.346"/><rect x="235" y="135" width="10" height="10" fill-opacity="0.346"/><rect x="25" y="145" width="10" height="10" fill-opacity="0.346"/><rect x="35" y="145" width="10" height="10" fill-opacity="0.346"/><rect x="55" y="145" width="10" height="10" fill-opacity="0.346"/><rect x="75" y="145" width="10" height="10" fill-opacity="0.346"/><rect x="95" y="145" width="10" height="10" fill-opacity="0.346"/><rect x="115" y="145" width="10" height="10" fill-opacity="0.346"/><rect x="185" y="145" width="10" height="10" fill-opacity="0.346"/><rect x="195" y="145" width="10" height="10" fill-opacity="0.346"/><rect x="205" y="145" width="10" height="10" fill-opacity="0.346"/><rect x="215" y="145" width="10" height="10" fill-opacity="0.346"/><rect x="235" y="145" width="10" height="10" fill-opacity="0.346"/><rect x="15" y="155" width="10" height="10" fill-opacity="0.346"/><rect x="25" y="155" width="10" height="10" fill-opacity="0.346"/><rect x="45" y="155" width="10" height="10" fill-opacity="0.346"/><rect x="55" y="155" width="10" height="10" fill-opacity="0.346"/><rect x="65" y="155" width="10" height="10" fill-opacity="0.346"/><rect x="75" y="155" width="10" height="10" fill-opacity="0.346"/><rect x="95" y="155" width="10" height="10" fill-opacity="0.346"/><rect x="105" y="155" width="10" height="10" fill-opacity="0.346"/><rect x="115" y="155" width="10" height="10" fill-opacity="0.346"/><rect x="145" y="155" width="10" height="10" fill-opacity="0.346"/><rect x="15" y="165" width="10" height="10" fill-opacity="0.346"/><rect x="25" y="165" width="10" height="10" fill-opacity="0.346"/><rect x="35" y="165" width="10" height="10" fill-opacity="0.346"/><rect x="55" y="165" width="10" height="10" fill-opacity="0.346"/><rect x="65" y="165" width="10" height="10" fill-opacity="0.346"/><rect x="85" y="165" width="10" height="10" fill-opacity="0.346"/><rect x="105" y="165" width="10" height="10" fill-opacity="0.346"/><rect x="115" y="165" width="10" height="10" fill-opacity="0.346"/><rect x="145" y="165" width="10" height="10" fill-opacity="0.346"/><rect x="155" y="165" width="10" height="10" fill-opacity="0.346"/><rect x="165" y="165" width="10" height="10" fill-opacity="0.346"/><rect x="175" y="165" width="10" height="10" fill-opacity="0.346"/><rect x="185" y="165" width="10" height="10" fill-opacity="0.346"/><rect x="195" y="165" width="10" height="10" fill-opacity="0.346"/><rect x="35" y="175" width="10" height="10" fill-opacity="0.346"/><rect x="45" y="175" width="10" height="10" fill-opacity="0.346"/><rect x="55" y="175" width="10" height="10" fill-opacity="0.346"/><rect x="85" y="175" width="10" height="10" fill-opacity="0.346"/><rect x="95" y="175" width="10" height="10" fill-opacity="0.346"/><rect x="105" y="175" width="10" height="10" fill-opacity="0.346"/><rect x="135" y="175" width="10" height="10" fill-opacity="0.346"/><rect x="145" y="175" width="10" height="10" fill-opacity="0.346"/><rect x="35" y="185" width="10" height="10" fill-opacity="0.346"/><rect x="45" y="185" width="10" height="10" fill-opacity="0.346"/><rect x="55" y="185" width="10" height="10" fill-opacity="0.346"/><rect x="85" y="185" width="10" height="10" fill-opacity="0.346"/><rect x="95" y="185" width="10" height="10" fill-opacity="0.346"/><rect x="115" y="185" width="10" height="10" fill-opacity="0.346"/><rect x="125" y="185" width="10" height="10" fill-opacity="0.346"/><rect x="135" y="185" width="10" height="10" fill-opacity="0.346"/><rect x="145" y="185" width="10" height="10" fill-opacity="0.346"/><rect x="35" y="195" width="10" height="10" fill-opacity="0.346"/><rect x="45" y="195" width="10" height="10" fill-opacity="0.346"/><rect x="55" y="195" width="10" height="10" fill-opacity="0.346"/><rect x="85" y="195" width="10" height="10" fill-opacity="0.346"/><rect x="95" y="195" width="10" height="10" fill-opacity="0.346"/></g><g filter="url(#fb)" fill="none" stroke-linecap="round" stroke-linejoin="round"><polyline points="18.0,138.0 28.0,134.0 39.0,127.5 48.0,123.0" stroke="rgb(250, 26, 6)" stroke-width="2.4"/><polyline points="22.0,141.5 30.0,143.0 36.0,143.6 43.0,143.2 53.1,142.0 61.8,140.0 72.0,136.7" stroke="rgb(250, 26, 6)" stroke-width="1.8"/><polyline points="36.0,161.5 42.9,157.1 53.1,151.3 60.4,146.9 67.6,142.5 74.9,138.2 82.2,135.3 89.5,133.8 104.0,131.6 113.2,130.7 124.1,129.6 135.0,126.4" stroke="rgb(250, 26, 6)" stroke-width="2.6"/><polyline points="45.0,155.5 53.1,151.3 60.4,146.9 67.6,142.5" stroke="rgb(250, 26, 6)" stroke-width="4.0"/><polyline points="28.4,171.6 38.5,166.5 50.2,161.5 60.4,158.5 67.6,155.6 74.9,153.5 82.2,149.8 86.5,146.9" stroke="rgb(250, 26, 6)" stroke-width="2.6"/><polyline points="64.7,169.5 77.0,170.5 89.5,168.7 96.7,165.8" stroke="rgb(250, 26, 6)" stroke-width="1.5"/><polyline points="100.0,147.0 102.0,158.0 104.0,170.0 106.0,183.0" stroke="rgb(250, 26, 6)" stroke-width="1.6"/><polyline points="89.0,159.0 92.0,167.0 95.0,176.0" stroke="rgb(250, 26, 6)" stroke-width="1.5"/></g></g></g><polygon points="24.1,94.7 28.5,91.5 33.0,87.7 38.1,83.9 41.3,82.6 43.8,84.5 48.9,85.8 50.2,89.0 55.3,90.3 58.8,90.0 60.5,93.8 63.7,95.5 67.0,97.1 70.3,94.4 73.5,91.6 76.8,92.2 80.1,94.4 84.5,96.0 89.9,97.1 95.4,98.2 100.8,98.7 103.0,97.6 106.3,99.3 109.5,98.2 111.2,94.4 111.2,90.0 112.8,86.7 116.9,85.5 120.7,83.5 123.3,80.4 125.8,78.5 130.3,77.8 133.5,79.1 136.0,82.9 139.8,82.3 143.6,81.0 147.5,79.1 150.1,75.5 155.2,72.4 159.0,69.8 160.3,66.0 165.4,65.4 170.5,66.0 175.5,66.6 179.4,65.4 181.9,61.5 183.2,59.0 185.7,57.1 188.9,55.8 190.2,58.4 192.7,60.3 197.2,60.9 201.0,60.3 203.5,57.7 206.7,56.5 208.0,57.1 206.1,60.3 205.1,63.9 206.4,67.7 210.2,66.5 215.3,65.2 220.4,66.5 225.5,67.7 229.3,67.7 233.1,69.6 236.3,72.2 239.5,73.5 242.0,76.6 243.9,80.5 245.8,82.4 245.2,85.5 246.5,89.4 248.4,93.2 252.2,91.9 254.7,94.5 254.1,98.3 256.6,101.4 261.1,102.6 262.4,106.5 261.1,111.5 259.8,115.4 257.3,118.5 256.0,122.4 258.5,126.2 259.2,128.7 256.0,131.9 254.7,135.7 253.7,139.0 251.2,142.8 248.6,145.4 247.4,147.9 243.5,151.7 241.0,154.3 237.2,154.9 233.4,153.6 228.3,154.3 223.2,152.4 219.4,150.5 216.8,146.6 214.8,144.9 211.0,143.6 205.9,143.6 203.4,142.4 202.1,139.2 200.8,136.0 197.0,134.1 194.5,131.5 193.2,126.5 191.9,125.2 188.7,126.5 184.9,127.7 181.7,131.5 179.2,135.4 176.0,138.5 171.5,139.8 165.2,140.5 161.4,141.7 162.0,144.3 162.6,148.1 160.1,153.2 158.2,158.3 158.2,167.6 158.2,172.7 158.2,177.8 156.9,181.6 155.6,184.2 154.4,182.9 150.5,181.6 146.7,182.3 142.9,181.0 139.1,179.1 135.3,179.1 131.5,180.4 127.6,181.0 123.8,178.5 118.9,180.5 115.7,182.5 115.7,185.6 117.0,190.7 118.3,194.5 115.7,198.4 113.2,199.0 111.9,195.8 110.6,192.0 105.5,190.7 97.9,190.7 92.8,189.5 87.7,188.2 85.8,186.9 82.6,184.4 81.4,179.9 78.8,177.4 75.3,177.3 71.8,178.6 68.0,180.5 65.5,179.9 62.9,177.4 61.0,173.5 57.8,174.2 54.0,176.1 50.8,176.7 50.2,174.2 46.4,176.1 41.3,177.4 35.5,178.6 31.1,178.0 29.2,175.5 27.9,171.6 27.3,165.3 25.4,160.2 24.1,155.7 21.5,153.8 20.9,150.0 20.9,148.1 19.6,145.5 19.0,142.4 17.1,139.8 17.7,137.3 22.2,134.7 26.6,132.8 30.5,129.6 33.6,127.1 34.3,124.5 30.5,121.4 27.3,118.8 25.4,115.0 25.4,113.2 26.0,109.4 24.7,106.8 24.1,100.5" fill="none" stroke="#3a3a3a" stroke-width="0.5"/><path d="M23.4,143.2 C24.4,141.2 28.4,141.3 29.0,143.6 C29.4,145.8 27.4,147.1 25.4,146.6 C23.9,146.2 23.0,144.6 23.4,143.2 Z" fill="#fff" stroke="#555" stroke-width="0.45"/></g>
<g id="map2"><g clip-path="url(#clipmap)"><g filter="url(#soft)"><g filter="url(#bl)"><rect x="5" y="45" width="270" height="170" fill="rgb(238, 240, 96)"/><rect x="15" y="55" width="10" height="10" fill="rgb(255, 170, 8)"/><rect x="25" y="55" width="10" height="10" fill="rgb(255, 170, 8)"/><rect x="35" y="55" width="10" height="10" fill="rgb(255, 170, 8)"/><rect x="45" y="55" width="10" height="10" fill="rgb(255, 170, 8)"/><rect x="55" y="55" width="10" height="10" fill="rgb(255, 170, 8)"/><rect x="65" y="55" width="10" height="10" fill="rgb(94, 228, 12)"/><rect x="75" y="55" width="10" height="10" fill="rgb(94, 228, 12)"/><rect x="85" y="55" width="10" height="10" fill="rgb(94, 228, 12)"/><rect x="95" y="55" width="10" height="10" fill="rgb(255, 170, 8)"/><rect x="105" y="55" width="10" height="10" fill="rgb(255, 170, 8)"/><rect x="115" y="55" width="10" height="10" fill="rgb(255, 170, 8)"/><rect x="125" y="55" width="10" height="10" fill="rgb(238, 240, 96)"/><rect x="135" y="55" width="10" height="10" fill="rgb(94, 228, 12)"/><rect x="145" y="55" width="10" height="10" fill="rgb(94, 228, 12)"/><rect x="155" y="55" width="10" height="10" fill="rgb(94, 228, 12)"/><rect x="165" y="55" width="10" height="10" fill="rgb(94, 228, 12)"/><rect x="175" y="55" width="10" height="10" fill="rgb(94, 228, 12)"/><rect x="185" y="55" width="10" height="10" fill="rgb(94, 228, 12)"/><rect x="195" y="55" width="10" height="10" fill="rgb(94, 228, 12)"/><rect x="205" y="55" width="10" height="10" fill="rgb(238, 240, 96)"/><rect x="215" y="55" width="10" height="10" fill="rgb(238, 240, 96)"/><rect x="225" y="55" width="10" height="10" fill="rgb(94, 228, 12)"/><rect x="235" y="55" width="10" height="10" fill="rgb(238, 240, 96)"/><rect x="245" y="55" width="10" height="10" fill="rgb(238, 240, 96)"/><rect x="255" y="55" width="10" height="10" fill="rgb(238, 240, 96)"/><rect x="15" y="65" width="10" height="10" fill="rgb(255, 170, 8)"/><rect x="25" y="65" width="10" height="10" fill="rgb(255, 170, 8)"/><rect x="35" y="65" width="10" height="10" fill="rgb(255, 170, 8)"/><rect x="45" y="65" width="10" height="10" fill="rgb(255, 170, 8)"/><rect x="55" y="65" width="10" height="10" fill="rgb(255, 170, 8)"/><rect x="65" y="65" width="10" height="10" fill="rgb(94, 228, 12)"/><rect x="75" y="65" width="10" height="10" fill="rgb(94, 228, 12)"/><rect x="85" y="65" width="10" height="10" fill="rgb(94, 228, 12)"/><rect x="95" y="65" width="10" height="10" fill="rgb(255, 170, 8)"/><rect x="105" y="65" width="10" height="10" fill="rgb(255, 170, 8)"/><rect x="115" y="65" width="10" height="10" fill="rgb(255, 170, 8)"/><rect x="125" y="65" width="10" height="10" fill="rgb(238, 240, 96)"/><rect x="135" y="65" width="10" height="10" fill="rgb(94, 228, 12)"/><rect x="145" y="65" width="10" height="10" fill="rgb(94, 228, 12)"/><rect x="155" y="65" width="10" height="10" fill="rgb(94, 228, 12)"/><rect x="165" y="65" width="10" height="10" fill="rgb(94, 228, 12)"/><rect x="175" y="65" width="10" height="10" fill="rgb(94, 228, 12)"/><rect x="185" y="65" width="10" height="10" fill="rgb(94, 228, 12)"/><rect x="195" y="65" width="10" height="10" fill="rgb(94, 228, 12)"/><rect x="205" y="65" width="10" height="10" fill="rgb(94, 228, 12)"/><rect x="215" y="65" width="10" height="10" fill="rgb(94, 228, 12)"/><rect x="225" y="65" width="10" height="10" fill="rgb(94, 228, 12)"/><rect x="235" y="65" width="10" height="10" fill="rgb(238, 240, 96)"/><rect x="245" y="65" width="10" height="10" fill="rgb(238, 240, 96)"/><rect x="255" y="65" width="10" height="10" fill="rgb(238, 240, 96)"/><rect x="15" y="75" width="10" height="10" fill="rgb(255, 170, 8)"/><rect x="25" y="75" width="10" height="10" fill="rgb(255, 170, 8)"/><rect x="35" y="75" width="10" height="10" fill="rgb(255, 170, 8)"/><rect x="45" y="75" width="10" height="10" fill="rgb(255, 170, 8)"/><rect x="55" y="75" width="10" height="10" fill="rgb(255, 170, 8)"/><rect x="65" y="75" width="10" height="10" fill="rgb(94, 228, 12)"/><rect x="75" y="75" width="10" height="10" fill="rgb(94, 228, 12)"/><rect x="85" y="75" width="10" height="10" fill="rgb(94, 228, 12)"/><rect x="95" y="75" width="10" height="10" fill="rgb(255, 170, 8)"/><rect x="105" y="75" width="10" height="10" fill="rgb(255, 170, 8)"/><rect x="115" y="75" width="10" height="10" fill="rgb(255, 170, 8)"/><rect x="125" y="75" width="10" height="10" fill="rgb(238, 240, 96)"/><rect x="135" y="75" width="10" height="10" fill="rgb(94, 228, 12)"/><rect x="145" y="75" width="10" height="10" fill="rgb(94, 228, 12)"/><rect x="155" y="75" width="10" height="10" fill="rgb(94, 228, 12)"/><rect x="165" y="75" width="10" height="10" fill="rgb(94, 228, 12)"/><rect x="175" y="75" width="10" height="10" fill="rgb(94, 228, 12)"/><rect x="185" y="75" width="10" height="10" fill="rgb(94, 228, 12)"/><rect x="195" y="75" width="10" height="10" fill="rgb(94, 228, 12)"/><rect x="205" y="75" width="10" height="10" fill="rgb(94, 228, 12)"/><rect x="215" y="75" width="10" height="10" fill="rgb(94, 228, 12)"/><rect x="225" y="75" width="10" height="10" fill="rgb(238, 240, 96)"/><rect x="235" y="75" width="10" height="10" fill="rgb(238, 240, 96)"/><rect x="245" y="75" width="10" height="10" fill="rgb(238, 240, 96)"/><rect x="255" y="75" width="10" height="10" fill="rgb(238, 240, 96)"/><rect x="15" y="85" width="10" height="10" fill="rgb(255, 170, 8)"/><rect x="25" y="85" width="10" height="10" fill="rgb(255, 170, 8)"/><rect x="35" y="85" width="10" height="10" fill="rgb(255, 170, 8)"/><rect x="45" y="85" width="10" height="10" fill="rgb(255, 170, 8)"/><rect x="55" y="85" width="10" height="10" fill="rgb(238, 240, 96)"/><rect x="65" y="85" width="10" height="10" fill="rgb(94, 228, 12)"/><rect x="75" y="85" width="10" height="10" fill="rgb(94, 228, 12)"/><rect x="85" y="85" width="10" height="10" fill="rgb(94, 228, 12)"/><rect x="95" y="85" width="10" height="10" fill="rgb(238, 240, 96)"/><rect x="105" y="85" width="10" height="10" fill="rgb(238, 240, 96)"/><rect x="115" y="85" width="10" height="10" fill="rgb(238, 240, 96)"/><rect x="125" y="85" width="10" height="10" fill="rgb(238, 240, 96)"/><rect x="135" y="85" width="10" height="10" fill="rgb(94, 228, 12)"/><rect x="145" y="85" width="10" height="10" fill="rgb(94, 228, 12)"/><rect x="155" y="85" width="10" height="10" fill="rgb(94, 228, 12)"/><rect x="165" y="85" width="10" height="10" fill="rgb(250, 26, 6)"/><rect x="175" y="85" width="10" height="10" fill="rgb(94, 228, 12)"/><rect x="185" y="85" width="10" height="10" fill="rgb(94, 228, 12)"/><rect x="195" y="85" width="10" height="10" fill="rgb(94, 228, 12)"/><rect x="205" y="85" width="10" height="10" fill="rgb(238, 240, 96)"/><rect x="215" y="85" width="10" height="10" fill="rgb(238, 240, 96)"/><rect x="225" y="85" width="10" height="10" fill="rgb(255, 170, 8)"/><rect x="235" y="85" width="10" height="10" fill="rgb(238, 240, 96)"/><rect x="245" y="85" width="10" height="10" fill="rgb(238, 240, 96)"/><rect x="255" y="85" width="10" height="10" fill="rgb(238, 240, 96)"/><rect x="15" y="95" width="10" height="10" fill="rgb(255, 170, 8)"/><rect x="25" y="95" width="10" height="10" fill="rgb(255, 170, 8)"/><rect x="35" y="95" width="10" height="10" fill="rgb(255, 170, 8)"/><rect x="45" y="95" width="10" height="10" fill="rgb(255, 170, 8)"/><rect x="55" y="95" width="10" height="10" fill="rgb(238, 240, 96)"/><rect x="65" y="95" width="10" height="10" fill="rgb(94, 228, 12)"/><rect x="75" y="95" width="10" height="10" fill="rgb(94, 228, 12)"/><rect x="85" y="95" width="10" height="10" fill="rgb(94, 228, 12)"/><rect x="95" y="95" width="10" height="10" fill="rgb(94, 228, 12)"/><rect x="105" y="95" width="10" height="10" fill="rgb(94, 228, 12)"/><rect x="115" y="95" width="10" height="10" fill="rgb(94, 228, 12)"/><rect x="125" y="95" width="10" height="10" fill="rgb(238, 240, 96)"/><rect x="135" y="95" width="10" height="10" fill="rgb(94, 228, 12)"/><rect x="145" y="95" width="10" height="10" fill="rgb(94, 228, 12)"/><rect x="155" y="95" width="10" height="10" fill="rgb(94, 228, 12)"/><rect x="165" y="95" width="10" height="10" fill="rgb(94, 228, 12)"/><rect x="175" y="95" width="10" height="10" fill="rgb(94, 228, 12)"/><rect x="185" y="95" width="10" height="10" fill="rgb(94, 228, 12)"/><rect x="195" y="95" width="10" height="10" fill="rgb(238, 240, 96)"/><rect x="205" y="95" width="10" height="10" fill="rgb(255, 170, 8)"/><rect x="215" y="95" width="10" height="10" fill="rgb(238, 240, 96)"/><rect x="225" y="95" width="10" height="10" fill="rgb(238, 240, 96)"/><rect x="235" y="95" width="10" height="10" fill="rgb(238, 240, 96)"/><rect x="245" y="95" width="10" height="10" fill="rgb(238, 240, 96)"/><rect x="255" y="95" width="10" height="10" fill="rgb(255, 170, 8)"/><rect x="15" y="105" width="10" height="10" fill="rgb(238, 240, 96)"/><rect x="25" y="105" width="10" height="10" fill="rgb(238, 240, 96)"/><rect x="35" y="105" width="10" height="10" fill="rgb(255, 170, 8)"/><rect x="45" y="105" width="10" height="10" fill="rgb(238, 240, 96)"/><rect x="55" y="105" width="10" height="10" fill="rgb(94, 228, 12)"/><rect x="65" y="105" width="10" height="10" fill="rgb(94, 228, 12)"/><rect x="75" y="105" width="10" height="10" fill="rgb(94, 228, 12)"/><rect x="85" y="105" width="10" height="10" fill="rgb(94, 228, 12)"/><rect x="95" y="105" width="10" height="10" fill="rgb(94, 228, 12)"/><rect x="105" y="105" width="10" height="10" fill="rgb(94, 228, 12)"/><rect x="115" y="105" width="10" height="10" fill="rgb(238, 240, 96)"/><rect x="125" y="105" width="10" height="10" fill="rgb(94, 228, 12)"/><rect x="135" y="105" width="10" height="10" fill="rgb(94, 228, 12)"/><rect x="145" y="105" width="10" height="10" fill="rgb(238, 240, 96)"/><rect x="155" y="105" width="10" height="10" fill="rgb(94, 228, 12)"/><rect x="165" y="105" width="10" height="10" fill="rgb(94, 228, 12)"/><rect x="175" y="105" width="10" height="10" fill="rgb(94, 228, 12)"/><rect x="185" y="105" width="10" height="10" fill="rgb(238, 240, 96)"/><rect x="195" y="105" width="10" height="10" fill="rgb(238, 240, 96)"/><rect x="205" y="105" width="10" height="10" fill="rgb(238, 240, 96)"/><rect x="215" y="105" width="10" height="10" fill="rgb(238, 240, 96)"/><rect x="225" y="105" width="10" height="10" fill="rgb(238, 240, 96)"/><rect x="235" y="105" width="10" height="10" fill="rgb(238, 240, 96)"/><rect x="245" y="105" width="10" height="10" fill="rgb(238, 240, 96)"/><rect x="255" y="105" width="10" height="10" fill="rgb(238, 240, 96)"/><rect x="15" y="115" width="10" height="10" fill="rgb(238, 240, 96)"/><rect x="25" y="115" width="10" height="10" fill="rgb(238, 240, 96)"/><rect x="35" y="115" width="10" height="10" fill="rgb(238, 240, 96)"/><rect x="45" y="115" width="10" height="10" fill="rgb(238, 240, 96)"/><rect x="55" y="115" width="10" height="10" fill="rgb(94, 228, 12)"/><rect x="65" y="115" width="10" height="10" fill="rgb(94, 228, 12)"/><rect x="75" y="115" width="10" height="10" fill="rgb(94, 228, 12)"/><rect x="85" y="115" width="10" height="10" fill="rgb(94, 228, 12)"/><rect x="95" y="115" width="10" height="10" fill="rgb(94, 228, 12)"/><rect x="105" y="115" width="10" height="10" fill="rgb(238, 240, 96)"/><rect x="115" y="115" width="10" height="10" fill="rgb(94, 228, 12)"/><rect x="125" y="115" width="10" height="10" fill="rgb(238, 240, 96)"/><rect x="135" y="115" width="10" height="10" fill="rgb(238, 240, 96)"/><rect x="145" y="115" width="10" height="10" fill="rgb(94, 228, 12)"/><rect x="155" y="115" width="10" height="10" fill="rgb(94, 228, 12)"/><rect x="165" y="115" width="10" height="10" fill="rgb(238, 240, 96)"/><rect x="175" y="115" width="10" height="10" fill="rgb(238, 240, 96)"/><rect x="185" y="115" width="10" height="10" fill="rgb(238, 240, 96)"/><rect x="195" y="115" width="10" height="10" fill="rgb(238, 240, 96)"/><rect x="205" y="115" width="10" height="10" fill="rgb(255, 170, 8)"/><rect x="215" y="115" width="10" height="10" fill="rgb(255, 170, 8)"/><rect x="225" y="115" width="10" height="10" fill="rgb(255, 170, 8)"/><rect x="235" y="115" width="10" height="10" fill="rgb(238, 240, 96)"/><rect x="245" y="115" width="10" height="10" fill="rgb(238, 240, 96)"/><rect x="255" y="115" width="10" height="10" fill="rgb(238, 240, 96)"/><rect x="15" y="125" width="10" height="10" fill="rgb(255, 170, 8)"/><rect x="25" y="125" width="10" height="10" fill="rgb(238, 240, 96)"/><rect x="35" y="125" width="10" height="10" fill="rgb(238, 240, 96)"/><rect x="45" y="125" width="10" height="10" fill="rgb(238, 240, 96)"/><rect x="55" y="125" width="10" height="10" fill="rgb(94, 228, 12)"/><rect x="65" y="125" width="10" height="10" fill="rgb(238, 240, 96)"/><rect x="75" y="125" width="10" height="10" fill="rgb(238, 240, 96)"/><rect x="85" y="125" width="10" height="10" fill="rgb(255, 170, 8)"/><rect x="95" y="125" width="10" height="10" fill="rgb(238, 240, 96)"/><rect x="105" y="125" width="10" height="10" fill="rgb(255, 170, 8)"/><rect x="115" y="125" width="10" height="10" fill="rgb(255, 170, 8)"/><rect x="125" y="125" width="10" height="10" fill="rgb(255, 170, 8)"/><rect x="135" y="125" width="10" height="10" fill="rgb(238, 240, 96)"/><rect x="145" y="125" width="10" height="10" fill="rgb(255, 170, 8)"/><rect x="155" y="125" width="10" height="10" fill="rgb(238, 240, 96)"/><rect x="165" y="125" width="10" height="10" fill="rgb(94, 228, 12)"/><rect x="175" y="125" width="10" height="10" fill="rgb(238, 240, 96)"/><rect x="185" y="125" width="10" height="10" fill="rgb(238, 240, 96)"/><rect x="195" y="125" width="10" height="10" fill="rgb(255, 170, 8)"/><rect x="205" y="125" width="10" height="10" fill="rgb(255, 170, 8)"/><rect x="215" y="125" width="10" height="10" fill="rgb(255, 170, 8)"/><rect x="225" y="125" width="10" height="10" fill="rgb(255, 170, 8)"/><rect x="235" y="125" width="10" height="10" fill="rgb(238, 240, 96)"/><rect x="245" y="125" width="10" height="10" fill="rgb(238, 240, 96)"/><rect x="255" y="125" width="10" height="10" fill="rgb(238, 240, 96)"/><rect x="15" y="135" width="10" height="10" fill="rgb(250, 26, 6)"/><rect x="25" y="135" width="10" height="10" fill="rgb(238, 240, 96)"/><rect x="35" y="135" width="10" height="10" fill="rgb(238, 240, 96)"/><rect x="45" y="135" width="10" height="10" fill="rgb(238, 240, 96)"/><rect x="55" y="135" width="10" height="10" fill="rgb(255, 170, 8)"/><rect x="65" y="135" width="10" height="10" fill="rgb(238, 240, 96)"/><rect x="75" y="135" width="10" height="10" fill="rgb(238, 240, 96)"/><rect x="85" y="135" width="10" height="10" fill="rgb(238, 240, 96)"/><rect x="95" y="135" width="10" height="10" fill="rgb(94, 228, 12)"/><rect x="105" y="135" width="10" height="10" fill="rgb(238, 240, 96)"/><rect x="115" y="135" width="10" height="10" fill="rgb(94, 228, 12)"/><rect x="125" y="135" width="10" height="10" fill="rgb(94, 228, 12)"/><rect x="135" y="135" width="10" height="10" fill="rgb(238, 240, 96)"/><rect x="145" y="135" width="10" height="10" fill="rgb(94, 228, 12)"/><rect x="155" y="135" width="10" height="10" fill="rgb(94, 228, 12)"/><rect x="165" y="135" width="10" height="10" fill="rgb(94, 228, 12)"/><rect x="175" y="135" width="10" height="10" fill="rgb(238, 240, 96)"/><rect x="185" y="135" width="10" height="10" fill="rgb(238, 240, 96)"/><rect x="195" y="135" width="10" height="10" fill="rgb(255, 170, 8)"/><rect x="205" y="135" width="10" height="10" fill="rgb(255, 170, 8)"/><rect x="215" y="135" width="10" height="10" fill="rgb(255, 170, 8)"/><rect x="225" y="135" width="10" height="10" fill="rgb(238, 240, 96)"/><rect x="235" y="135" width="10" height="10" fill="rgb(238, 240, 96)"/><rect x="245" y="135" width="10" height="10" fill="rgb(238, 240, 96)"/><rect x="255" y="135" width="10" height="10" fill="rgb(238, 240, 96)"/><rect x="15" y="145" width="10" height="10" fill="rgb(238, 240, 96)"/><rect x="25" y="145" width="10" height="10" fill="rgb(94, 228, 12)"/><rect x="35" y="145" width="10" height="10" fill="rgb(238, 240, 96)"/><rect x="45" y="145" width="10" height="10" fill="rgb(250, 26, 6)"/><rect x="55" y="145" width="10" height="10" fill="rgb(238, 240, 96)"/><rect x="65" y="145" width="10" height="10" fill="rgb(255, 170, 8)"/><rect x="75" y="145" width="10" height="10" fill="rgb(238, 240, 96)"/><rect x="85" y="145" width="10" height="10" fill="rgb(238, 240, 96)"/><rect x="95" y="145" width="10" height="10" fill="rgb(238, 240, 96)"/><rect x="105" y="145" width="10" height="10" fill="rgb(94, 228, 12)"/><rect x="115" y="145" width="10" height="10" fill="rgb(238, 240, 96)"/><rect x="125" y="145" width="10" height="10" fill="rgb(94, 228, 12)"/><rect x="135" y="145" width="10" height="10" fill="rgb(238, 240, 96)"/><rect x="145" y="145" width="10" height="10" fill="rgb(94, 228, 12)"/><rect x="155" y="145" width="10" height="10" fill="rgb(94, 228, 12)"/><rect x="165" y="145" width="10" height="10" fill="rgb(94, 228, 12)"/><rect x="175" y="145" width="10" height="10" fill="rgb(94, 228, 12)"/><rect x="185" y="145" width="10" height="10" fill="rgb(94, 228, 12)"/><rect x="195" y="145" width="10" height="10" fill="rgb(238, 240, 96)"/><rect x="205" y="145" width="10" height="10" fill="rgb(238, 240, 96)"/><rect x="215" y="145" width="10" height="10" fill="rgb(238, 240, 96)"/><rect x="225" y="145" width="10" height="10" fill="rgb(94, 228, 12)"/><rect x="235" y="145" width="10" height="10" fill="rgb(238, 240, 96)"/><rect x="245" y="145" width="10" height="10" fill="rgb(238, 240, 96)"/><rect x="255" y="145" width="10" height="10" fill="rgb(238, 240, 96)"/><rect x="15" y="155" width="10" height="10" fill="rgb(238, 240, 96)"/><rect x="25" y="155" width="10" height="10" fill="rgb(238, 240, 96)"/><rect x="35" y="155" width="10" height="10" fill="rgb(238, 240, 96)"/><rect x="45" y="155" width="10" height="10" fill="rgb(250, 26, 6)"/><rect x="55" y="155" width="10" height="10" fill="rgb(238, 240, 96)"/><rect x="65" y="155" width="10" height="10" fill="rgb(238, 240, 96)"/><rect x="75" y="155" width="10" height="10" fill="rgb(238, 240, 96)"/><rect x="85" y="155" width="10" height="10" fill="rgb(238, 240, 96)"/><rect x="95" y="155" width="10" height="10" fill="rgb(238, 240, 96)"/><rect x="105" y="155" width="10" height="10" fill="rgb(238, 240, 96)"/><rect x="115" y="155" width="10" height="10" fill="rgb(238, 240, 96)"/><rect x="125" y="155" width="10" height="10" fill="rgb(94, 228, 12)"/><rect x="135" y="155" width="10" height="10" fill="rgb(94, 228, 12)"/><rect x="145" y="155" width="10" height="10" fill="rgb(238, 240, 96)"/><rect x="155" y="155" width="10" height="10" fill="rgb(94, 228, 12)"/><rect x="165" y="155" width="10" height="10" fill="rgb(94, 228, 12)"/><rect x="175" y="155" width="10" height="10" fill="rgb(94, 228, 12)"/><rect x="185" y="155" width="10" height="10" fill="rgb(94, 228, 12)"/><rect x="195" y="155" width="10" height="10" fill="rgb(238, 240, 96)"/><rect x="205" y="155" width="10" height="10" fill="rgb(238, 240, 96)"/><rect x="215" y="155" width="10" height="10" fill="rgb(238, 240, 96)"/><rect x="225" y="155" width="10" height="10" fill="rgb(238, 240, 96)"/><rect x="235" y="155" width="10" height="10" fill="rgb(238, 240, 96)"/><rect x="245" y="155" width="10" height="10" fill="rgb(238, 240, 96)"/><rect x="255" y="155" width="10" height="10" fill="rgb(238, 240, 96)"/><rect x="15" y="165" width="10" height="10" fill="rgb(238, 240, 96)"/><rect x="25" y="165" width="10" height="10" fill="rgb(238, 240, 96)"/><rect x="35" y="165" width="10" height="10" fill="rgb(238, 240, 96)"/><rect x="45" y="165" width="10" height="10" fill="rgb(238, 240, 96)"/><rect x="55" y="165" width="10" height="10" fill="rgb(238, 240, 96)"/><rect x="65" y="165" width="10" height="10" fill="rgb(238, 240, 96)"/><rect x="75" y="165" width="10" height="10" fill="rgb(238, 240, 96)"/><rect x="85" y="165" width="10" height="10" fill="rgb(255, 170, 8)"/><rect x="95" y="165" width="10" height="10" fill="rgb(238, 240, 96)"/><rect x="105" y="165" width="10" height="10" fill="rgb(94, 228, 12)"/><rect x="115" y="165" width="10" height="10" fill="rgb(238, 240, 96)"/><rect x="125" y="165" width="10" height="10" fill="rgb(94, 228, 12)"/><rect x="135" y="165" width="10" height="10" fill="rgb(94, 228, 12)"/><rect x="145" y="165" width="10" height="10" fill="rgb(94, 228, 12)"/><rect x="155" y="165" width="10" height="10" fill="rgb(94, 228, 12)"/><rect x="165" y="165" width="10" height="10" fill="rgb(94, 228, 12)"/><rect x="175" y="165" width="10" height="10" fill="rgb(94, 228, 12)"/><rect x="185" y="165" width="10" height="10" fill="rgb(94, 228, 12)"/><rect x="195" y="165" width="10" height="10" fill="rgb(94, 228, 12)"/><rect x="205" y="165" width="10" height="10" fill="rgb(238, 240, 96)"/><rect x="215" y="165" width="10" height="10" fill="rgb(238, 240, 96)"/><rect x="225" y="165" width="10" height="10" fill="rgb(238, 240, 96)"/><rect x="235" y="165" width="10" height="10" fill="rgb(238, 240, 96)"/><rect x="245" y="165" width="10" height="10" fill="rgb(238, 240, 96)"/><rect x="255" y="165" width="10" height="10" fill="rgb(238, 240, 96)"/><rect x="15" y="175" width="10" height="10" fill="rgb(238, 240, 96)"/><rect x="25" y="175" width="10" height="10" fill="rgb(238, 240, 96)"/><rect x="35" y="175" width="10" height="10" fill="rgb(238, 240, 96)"/><rect x="45" y="175" width="10" height="10" fill="rgb(238, 240, 96)"/><rect x="55" y="175" width="10" height="10" fill="rgb(238, 240, 96)"/><rect x="65" y="175" width="10" height="10" fill="rgb(238, 240, 96)"/><rect x="75" y="175" width="10" height="10" fill="rgb(94, 228, 12)"/><rect x="85" y="175" width="10" height="10" fill="rgb(238, 240, 96)"/><rect x="95" y="175" width="10" height="10" fill="rgb(238, 240, 96)"/><rect x="105" y="175" width="10" height="10" fill="rgb(94, 228, 12)"/><rect x="115" y="175" width="10" height="10" fill="rgb(94, 228, 12)"/><rect x="125" y="175" width="10" height="10" fill="rgb(94, 228, 12)"/><rect x="135" y="175" width="10" height="10" fill="rgb(238, 240, 96)"/><rect x="145" y="175" width="10" height="10" fill="rgb(238, 240, 96)"/><rect x="155" y="175" width="10" height="10" fill="rgb(238, 240, 96)"/><rect x="165" y="175" width="10" height="10" fill="rgb(238, 240, 96)"/><rect x="175" y="175" width="10" height="10" fill="rgb(238, 240, 96)"/><rect x="185" y="175" width="10" height="10" fill="rgb(238, 240, 96)"/><rect x="195" y="175" width="10" height="10" fill="rgb(238, 240, 96)"/><rect x="205" y="175" width="10" height="10" fill="rgb(238, 240, 96)"/><rect x="215" y="175" width="10" height="10" fill="rgb(238, 240, 96)"/><rect x="225" y="175" width="10" height="10" fill="rgb(238, 240, 96)"/><rect x="235" y="175" width="10" height="10" fill="rgb(238, 240, 96)"/><rect x="245" y="175" width="10" height="10" fill="rgb(238, 240, 96)"/><rect x="255" y="175" width="10" height="10" fill="rgb(238, 240, 96)"/><rect x="15" y="185" width="10" height="10" fill="rgb(238, 240, 96)"/><rect x="25" y="185" width="10" height="10" fill="rgb(238, 240, 96)"/><rect x="35" y="185" width="10" height="10" fill="rgb(238, 240, 96)"/><rect x="45" y="185" width="10" height="10" fill="rgb(238, 240, 96)"/><rect x="55" y="185" width="10" height="10" fill="rgb(238, 240, 96)"/><rect x="65" y="185" width="10" height="10" fill="rgb(238, 240, 96)"/><rect x="75" y="185" width="10" height="10" fill="rgb(94, 228, 12)"/><rect x="85" y="185" width="10" height="10" fill="rgb(94, 228, 12)"/><rect x="95" y="185" width="10" height="10" fill="rgb(94, 228, 12)"/><rect x="105" y="185" width="10" height="10" fill="rgb(238, 240, 96)"/><rect x="115" y="185" width="10" height="10" fill="rgb(94, 228, 12)"/><rect x="125" y="185" width="10" height="10" fill="rgb(94, 228, 12)"/><rect x="135" y="185" width="10" height="10" fill="rgb(238, 240, 96)"/><rect x="145" y="185" width="10" height="10" fill="rgb(238, 240, 96)"/><rect x="155" y="185" width="10" height="10" fill="rgb(238, 240, 96)"/><rect x="165" y="185" width="10" height="10" fill="rgb(238, 240, 96)"/><rect x="175" y="185" width="10" height="10" fill="rgb(238, 240, 96)"/><rect x="185" y="185" width="10" height="10" fill="rgb(238, 240, 96)"/><rect x="195" y="185" width="10" height="10" fill="rgb(238, 240, 96)"/><rect x="205" y="185" width="10" height="10" fill="rgb(238, 240, 96)"/><rect x="215" y="185" width="10" height="10" fill="rgb(238, 240, 96)"/><rect x="225" y="185" width="10" height="10" fill="rgb(238, 240, 96)"/><rect x="235" y="185" width="10" height="10" fill="rgb(238, 240, 96)"/><rect x="245" y="185" width="10" height="10" fill="rgb(238, 240, 96)"/><rect x="255" y="185" width="10" height="10" fill="rgb(238, 240, 96)"/><rect x="15" y="195" width="10" height="10" fill="rgb(238, 240, 96)"/><rect x="25" y="195" width="10" height="10" fill="rgb(238, 240, 96)"/><rect x="35" y="195" width="10" height="10" fill="rgb(238, 240, 96)"/><rect x="45" y="195" width="10" height="10" fill="rgb(238, 240, 96)"/><rect x="55" y="195" width="10" height="10" fill="rgb(238, 240, 96)"/><rect x="65" y="195" width="10" height="10" fill="rgb(238, 240, 96)"/><rect x="75" y="195" width="10" height="10" fill="rgb(94, 228, 12)"/><rect x="85" y="195" width="10" height="10" fill="rgb(94, 228, 12)"/><rect x="95" y="195" width="10" height="10" fill="rgb(94, 228, 12)"/><rect x="105" y="195" width="10" height="10" fill="rgb(238, 240, 96)"/><rect x="115" y="195" width="10" height="10" fill="rgb(238, 240, 96)"/><rect x="125" y="195" width="10" height="10" fill="rgb(238, 240, 96)"/><rect x="135" y="195" width="10" height="10" fill="rgb(238, 240, 96)"/><rect x="145" y="195" width="10" height="10" fill="rgb(238, 240, 96)"/><rect x="155" y="195" width="10" height="10" fill="rgb(238, 240, 96)"/><rect x="165" y="195" width="10" height="10" fill="rgb(238, 240, 96)"/><rect x="175" y="195" width="10" height="10" fill="rgb(238, 240, 96)"/><rect x="185" y="195" width="10" height="10" fill="rgb(238, 240, 96)"/><rect x="195" y="195" width="10" height="10" fill="rgb(238, 240, 96)"/><rect x="205" y="195" width="10" height="10" fill="rgb(238, 240, 96)"/><rect x="215" y="195" width="10" height="10" fill="rgb(238, 240, 96)"/><rect x="225" y="195" width="10" height="10" fill="rgb(238, 240, 96)"/><rect x="235" y="195" width="10" height="10" fill="rgb(238, 240, 96)"/><rect x="245" y="195" width="10" height="10" fill="rgb(238, 240, 96)"/><rect x="255" y="195" width="10" height="10" fill="rgb(238, 240, 96)"/></g><g filter="url(#mY)"><rect x="75" y="55" width="10" height="10" fill-opacity="0.346"/><rect x="85" y="55" width="10" height="10" fill-opacity="0.346"/><rect x="175" y="55" width="10" height="10" fill-opacity="0.346"/><rect x="185" y="55" width="10" height="10" fill-opacity="0.346"/><rect x="195" y="55" width="10" height="10" fill-opacity="0.346"/><rect x="225" y="55" width="10" height="10" fill-opacity="0.346"/><rect x="75" y="65" width="10" height="10" fill-opacity="0.346"/><rect x="85" y="65" width="10" height="10" fill-opacity="0.346"/><rect x="175" y="65" width="10" height="10" fill-opacity="0.346"/><rect x="205" y="65" width="10" height="10" fill-opacity="0.346"/><rect x="225" y="65" width="10" height="10" fill-opacity="0.346"/><rect x="75" y="75" width="10" height="10" fill-opacity="0.346"/><rect x="85" y="75" width="10" height="10" fill-opacity="0.346"/><rect x="135" y="75" width="10" height="10" fill-opacity="0.346"/><rect x="165" y="75" width="10" height="10" fill-opacity="0.177"/><rect x="185" y="75" width="10" height="10" fill-opacity="0.177"/><rect x="205" y="75" width="10" height="10" fill-opacity="0.346"/><rect x="215" y="75" width="10" height="10" fill-opacity="0.346"/><rect x="75" y="85" width="10" height="10" fill-opacity="0.346"/><rect x="85" y="85" width="10" height="10" fill-opacity="0.346"/><rect x="135" y="85" width="10" height="10" fill-opacity="0.346"/><rect x="145" y="85" width="10" height="10" fill-opacity="0.346"/><rect x="175" y="85" width="10" height="10" fill-opacity="0.346"/><rect x="185" y="85" width="10" height="10" fill-opacity="0.346"/><rect x="195" y="85" width="10" height="10" fill-opacity="0.346"/><rect x="65" y="95" width="10" height="10" fill-opacity="0.346"/><rect x="85" y="95" width="10" height="10" fill-opacity="0.346"/><rect x="95" y="95" width="10" height="10" fill-opacity="0.177"/><rect x="105" y="95" width="10" height="10" fill-opacity="0.346"/><rect x="115" y="95" width="10" height="10" fill-opacity="0.346"/><rect x="135" y="95" width="10" height="10" fill-opacity="0.346"/><rect x="165" y="95" width="10" height="10" fill-opacity="0.346"/><rect x="185" y="95" width="10" height="10" fill-opacity="0.346"/><rect x="55" y="105" width="10" height="10" fill-opacity="0.346"/><rect x="65" y="105" width="10" height="10" fill-opacity="0.346"/><rect x="75" y="105" width="10" height="10" fill-opacity="0.177"/><rect x="95" y="105" width="10" height="10" fill-opacity="0.177"/><rect x="105" y="105" width="10" height="10" fill-opacity="0.346"/><rect x="125" y="105" width="10" height="10" fill-opacity="0.346"/><rect x="155" y="105" width="10" height="10" fill-opacity="0.346"/><rect x="165" y="105" width="10" height="10" fill-opacity="0.346"/><rect x="175" y="105" width="10" height="10" fill-opacity="0.346"/><rect x="55" y="115" width="10" height="10" fill-opacity="0.346"/><rect x="65" y="115" width="10" height="10" fill-opacity="0.346"/><rect x="75" y="115" width="10" height="10" fill-opacity="0.346"/><rect x="85" y="115" width="10" height="10" fill-opacity="0.177"/><rect x="95" y="115" width="10" height="10" fill-opacity="0.346"/><rect x="115" y="115" width="10" height="10" fill-opacity="0.346"/><rect x="145" y="115" width="10" height="10" fill-opacity="0.346"/><rect x="55" y="125" width="10" height="10" fill-opacity="0.346"/><rect x="165" y="125" width="10" height="10" fill-opacity="0.346"/><rect x="95" y="135" width="10" height="10" fill-opacity="0.346"/><rect x="115" y="135" width="10" height="10" fill-opacity="0.346"/><rect x="145" y="135" width="10" height="10" fill-opacity="0.346"/><rect x="155" y="135" width="10" height="10" fill-opacity="0.346"/><rect x="165" y="135" width="10" height="10" fill-opacity="0.346"/><rect x="25" y="145" width="10" height="10" fill-opacity="0.346"/><rect x="105" y="145" width="10" height="10" fill-opacity="0.346"/><rect x="125" y="145" width="10" height="10" fill-opacity="0.346"/><rect x="145" y="145" width="10" height="10" fill-opacity="0.346"/><rect x="155" y="145" width="10" height="10" fill-opacity="0.346"/><rect x="165" y="145" width="10" height="10" fill-opacity="0.346"/><rect x="175" y="145" width="10" height="10" fill-opacity="0.346"/><rect x="185" y="145" width="10" height="10" fill-opacity="0.346"/><rect x="225" y="145" width="10" height="10" fill-opacity="0.346"/><rect x="135" y="155" width="10" height="10" fill-opacity="0.346"/><rect x="105" y="165" width="10" height="10" fill-opacity="0.346"/><rect x="125" y="165" width="10" height="10" fill-opacity="0.346"/><rect x="135" y="165" width="10" height="10" fill-opacity="0.346"/><rect x="145" y="165" width="10" height="10" fill-opacity="0.346"/><rect x="155" y="165" width="10" height="10" fill-opacity="0.346"/><rect x="165" y="165" width="10" height="10" fill-opacity="0.346"/><rect x="175" y="165" width="10" height="10" fill-opacity="0.346"/><rect x="185" y="165" width="10" height="10" fill-opacity="0.346"/><rect x="195" y="165" width="10" height="10" fill-opacity="0.346"/><rect x="75" y="175" width="10" height="10" fill-opacity="0.346"/><rect x="105" y="175" width="10" height="10" fill-opacity="0.346"/><rect x="125" y="175" width="10" height="10" fill-opacity="0.346"/><rect x="75" y="185" width="10" height="10" fill-opacity="0.346"/><rect x="85" y="185" width="10" height="10" fill-opacity="0.346"/><rect x="95" y="185" width="10" height="10" fill-opacity="0.346"/><rect x="115" y="185" width="10" height="10" fill-opacity="0.346"/><rect x="125" y="185" width="10" height="10" fill-opacity="0.346"/><rect x="75" y="195" width="10" height="10" fill-opacity="0.346"/><rect x="85" y="195" width="10" height="10" fill-opacity="0.346"/><rect x="95" y="195" width="10" height="10" fill-opacity="0.346"/></g><g filter="url(#mO)"><rect x="125" y="55" width="10" height="10" fill-opacity="0.308"/><rect x="125" y="65" width="10" height="10" fill-opacity="0.308"/><rect x="125" y="75" width="10" height="10" fill-opacity="0.308"/><rect x="225" y="75" width="10" height="10" fill-opacity="0.308"/><rect x="235" y="75" width="10" height="10" fill-opacity="0.308"/><rect x="245" y="75" width="10" height="10" fill-opacity="0.308"/><rect x="255" y="75" width="10" height="10" fill-opacity="0.308"/><rect x="55" y="85" width="10" height="10" fill-opacity="0.308"/><rect x="115" y="85" width="10" height="10" fill-opacity="0.308"/><rect x="125" y="85" width="10" height="10" fill-opacity="0.308"/><rect x="165" y="85" width="10" height="10" fill-opacity="0.177"/><rect x="205" y="85" width="10" height="10" fill-opacity="0.308"/><rect x="215" y="85" width="10" height="10" fill-opacity="0.308"/><rect x="235" y="85" width="10" height="10" fill-opacity="0.308"/><rect x="245" y="85" width="10" height="10" fill-opacity="0.308"/><rect x="255" y="85" width="10" height="10" fill-opacity="0.308"/><rect x="55" y="95" width="10" height="10" fill-opacity="0.308"/><rect x="125" y="95" width="10" height="10" fill-opacity="0.308"/><rect x="145" y="95" width="10" height="10" fill-opacity="0.308"/><rect x="195" y="95" width="10" height="10" fill-opacity="0.308"/><rect x="215" y="95" width="10" height="10" fill-opacity="0.308"/><rect x="235" y="95" width="10" height="10" fill-opacity="0.308"/><rect x="245" y="95" width="10" height="10" fill-opacity="0.308"/><rect x="25" y="105" width="10" height="10" fill-opacity="0.308"/><rect x="45" y="105" width="10" height="10" fill-opacity="0.308"/><rect x="115" y="105" width="10" height="10" fill-opacity="0.308"/><rect x="145" y="105" width="10" height="10" fill-opacity="0.308"/><rect x="195" y="105" width="10" height="10" fill-opacity="0.308"/><rect x="205" y="105" width="10" height="10" fill-opacity="0.308"/><rect x="225" y="105" width="10" height="10" fill-opacity="0.308"/><rect x="235" y="105" width="10" height="10" fill-opacity="0.308"/><rect x="245" y="105" width="10" height="10" fill-opacity="0.308"/><rect x="255" y="105" width="10" height="10" fill-opacity="0.308"/><rect x="15" y="115" width="10" height="10" fill-opacity="0.308"/><rect x="25" y="115" width="10" height="10" fill-opacity="0.308"/><rect x="35" y="115" width="10" height="10" fill-opacity="0.308"/><rect x="125" y="115" width="10" height="10" fill-opacity="0.308"/><rect x="135" y="115" width="10" height="10" fill-opacity="0.308"/><rect x="165" y="115" width="10" height="10" fill-opacity="0.308"/><rect x="175" y="115" width="10" height="10" fill-opacity="0.308"/><rect x="185" y="115" width="10" height="10" fill-opacity="0.308"/><rect x="195" y="115" width="10" height="10" fill-opacity="0.308"/><rect x="235" y="115" width="10" height="10" fill-opacity="0.308"/><rect x="245" y="115" width="10" height="10" fill-opacity="0.308"/><rect x="255" y="115" width="10" height="10" fill-opacity="0.308"/><rect x="25" y="125" width="10" height="10" fill-opacity="0.308"/><rect x="45" y="125" width="10" height="10" fill-opacity="0.308"/><rect x="75" y="125" width="10" height="10" fill-opacity="0.308"/><rect x="95" y="125" width="10" height="10" fill-opacity="0.308"/><rect x="135" y="125" width="10" height="10" fill-opacity="0.308"/><rect x="235" y="125" width="10" height="10" fill-opacity="0.308"/><rect x="245" y="125" width="10" height="10" fill-opacity="0.308"/><rect x="255" y="125" width="10" height="10" fill-opacity="0.308"/><rect x="25" y="135" width="10" height="10" fill-opacity="0.308"/><rect x="45" y="135" width="10" height="10" fill-opacity="0.308"/><rect x="65" y="135" width="10" height="10" fill-opacity="0.308"/><rect x="135" y="135" width="10" height="10" fill-opacity="0.308"/><rect x="225" y="135" width="10" height="10" fill-opacity="0.308"/><rect x="235" y="135" width="10" height="10" fill-opacity="0.308"/><rect x="245" y="135" width="10" height="10" fill-opacity="0.308"/><rect x="255" y="135" width="10" height="10" fill-opacity="0.308"/><rect x="35" y="145" width="10" height="10" fill-opacity="0.308"/><rect x="45" y="145" width="10" height="10" fill-opacity="0.177"/><rect x="55" y="145" width="10" height="10" fill-opacity="0.308"/><rect x="75" y="145" width="10" height="10" fill-opacity="0.308"/><rect x="115" y="145" width="10" height="10" fill-opacity="0.308"/><rect x="135" y="145" width="10" height="10" fill-opacity="0.308"/><rect x="245" y="145" width="10" height="10" fill-opacity="0.308"/><rect x="255" y="145" width="10" height="10" fill-opacity="0.308"/><rect x="45" y="155" width="10" height="10" fill-opacity="0.177"/><rect x="75" y="155" width="10" height="10" fill-opacity="0.308"/><rect x="85" y="155" width="10" height="10" fill-opacity="0.308"/><rect x="105" y="155" width="10" height="10" fill-opacity="0.308"/><rect x="35" y="165" width="10" height="10" fill-opacity="0.308"/><rect x="65" y="165" width="10" height="10" fill-opacity="0.308"/><rect x="75" y="165" width="10" height="10" fill-opacity="0.308"/><rect x="95" y="165" width="10" height="10" fill-opacity="0.308"/><rect x="115" y="165" width="10" height="10" fill-opacity="0.308"/><rect x="85" y="175" width="10" height="10" fill-opacity="0.308"/><rect x="145" y="175" width="10" height="10" fill-opacity="0.308"/><rect x="155" y="175" width="10" height="10" fill-opacity="0.308"/><rect x="165" y="175" width="10" height="10" fill-opacity="0.308"/><rect x="175" y="175" width="10" height="10" fill-opacity="0.308"/><rect x="185" y="175" width="10" height="10" fill-opacity="0.308"/><rect x="195" y="175" width="10" height="10" fill-opacity="0.308"/><rect x="105" y="185" width="10" height="10" fill-opacity="0.308"/><rect x="145" y="185" width="10" height="10" fill-opacity="0.308"/><rect x="155" y="185" width="10" height="10" fill-opacity="0.308"/><rect x="165" y="185" width="10" height="10" fill-opacity="0.308"/><rect x="175" y="185" width="10" height="10" fill-opacity="0.308"/><rect x="185" y="185" width="10" height="10" fill-opacity="0.308"/><rect x="195" y="185" width="10" height="10" fill-opacity="0.308"/><rect x="125" y="195" width="10" height="10" fill-opacity="0.308"/><rect x="135" y="195" width="10" height="10" fill-opacity="0.308"/><rect x="145" y="195" width="10" height="10" fill-opacity="0.308"/><rect x="155" y="195" width="10" height="10" fill-opacity="0.308"/><rect x="165" y="195" width="10" height="10" fill-opacity="0.308"/><rect x="175" y="195" width="10" height="10" fill-opacity="0.308"/><rect x="185" y="195" width="10" height="10" fill-opacity="0.308"/><rect x="195" y="195" width="10" height="10" fill-opacity="0.308"/></g><g filter="url(#mR)"><rect x="15" y="55" width="10" height="10" fill-opacity="0.218"/><rect x="25" y="55" width="10" height="10" fill-opacity="0.218"/><rect x="35" y="55" width="10" height="10" fill-opacity="0.218"/><rect x="95" y="55" width="10" height="10" fill-opacity="0.218"/><rect x="105" y="55" width="10" height="10" fill-opacity="0.218"/><rect x="115" y="55" width="10" height="10" fill-opacity="0.218"/><rect x="15" y="65" width="10" height="10" fill-opacity="0.218"/><rect x="25" y="65" width="10" height="10" fill-opacity="0.218"/><rect x="35" y="65" width="10" height="10" fill-opacity="0.218"/><rect x="95" y="65" width="10" height="10" fill-opacity="0.218"/><rect x="105" y="65" width="10" height="10" fill-opacity="0.218"/><rect x="115" y="65" width="10" height="10" fill-opacity="0.218"/><rect x="15" y="75" width="10" height="10" fill-opacity="0.218"/><rect x="25" y="75" width="10" height="10" fill-opacity="0.218"/><rect x="35" y="75" width="10" height="10" fill-opacity="0.218"/><rect x="95" y="75" width="10" height="10" fill-opacity="0.218"/><rect x="105" y="75" width="10" height="10" fill-opacity="0.218"/><rect x="115" y="75" width="10" height="10" fill-opacity="0.218"/><rect x="155" y="85" width="10" height="10" fill-opacity="0.308"/><rect x="15" y="95" width="10" height="10" fill-opacity="0.218"/><rect x="215" y="115" width="10" height="10" fill-opacity="0.218"/><rect x="15" y="125" width="10" height="10" fill-opacity="0.218"/><rect x="85" y="125" width="10" height="10" fill-opacity="0.218"/><rect x="105" y="125" width="10" height="10" fill-opacity="0.218"/><rect x="115" y="125" width="10" height="10" fill-opacity="0.218"/><rect x="205" y="125" width="10" height="10" fill-opacity="0.218"/><rect x="215" y="125" width="10" height="10" fill-opacity="0.218"/><rect x="55" y="135" width="10" height="10" fill-opacity="0.218"/><rect x="65" y="145" width="10" height="10" fill-opacity="0.218"/><rect x="85" y="165" width="10" height="10" fill-opacity="0.218"/></g><g filter="url(#fb)" fill="none" stroke-linecap="round" stroke-linejoin="round"><polyline points="22.0,102.3 31.1,102.9 40.0,103.5 47.6,101.6 54.0,99.7 55.9,94.6 54.0,90.8" stroke="rgb(250, 26, 6)" stroke-width="2.2"/><polyline points="47.6,101.6 45.1,106.1 40.0,111.2 34.9,116.3 32.4,118.8" stroke="rgb(250, 26, 6)" stroke-width="2.0"/><polyline points="36.0,161.5 42.9,157.1 53.1,151.3 60.4,146.9 67.6,142.5 74.9,138.2 82.2,135.3 89.5,133.8 104.0,131.6 113.2,130.7 124.1,129.6 135.0,126.4" stroke="rgb(255, 170, 8)" stroke-width="4.5"/><polyline points="124.0,129.6 135.0,127.0 150.0,126.0 165.0,123.0 180.0,121.0 195.0,119.0 205.0,120.0" stroke="rgb(255, 170, 8)" stroke-width="3.0"/><polyline points="18.0,138.0 28.0,134.0 39.0,127.5 48.0,123.0" stroke="rgb(250, 26, 6)" stroke-width="1.6"/><polyline points="22.0,141.5 30.0,143.0 36.0,143.6 43.0,143.2 53.1,142.0 61.8,140.0 72.0,136.7" stroke="rgb(250, 26, 6)" stroke-width="1.4"/><polyline points="36.0,161.5 42.9,157.1 53.1,151.3 60.4,146.9 67.6,142.5 74.9,138.2 82.2,135.3 89.5,133.8 104.0,131.6 113.2,130.7 124.1,129.6 135.0,126.4" stroke="rgb(250, 26, 6)" stroke-width="1.8"/><polyline points="45.0,155.5 53.1,151.3 60.4,146.9 67.6,142.5" stroke="rgb(250, 26, 6)" stroke-width="2.8"/><polyline points="28.4,171.6 38.5,166.5 50.2,161.5 60.4,158.5 67.6,155.6 74.9,153.5 82.2,149.8 86.5,146.9" stroke="rgb(250, 26, 6)" stroke-width="2.0"/><polyline points="100.0,147.0 102.0,158.0 104.0,170.0 106.0,183.0" stroke="rgb(250, 26, 6)" stroke-width="1.2"/><polyline points="89.0,159.0 92.0,167.0 95.0,176.0" stroke="rgb(250, 26, 6)" stroke-width="1.0"/></g></g></g><polygon points="24.1,94.7 28.5,91.5 33.0,87.7 38.1,83.9 41.3,82.6 43.8,84.5 48.9,85.8 50.2,89.0 55.3,90.3 58.8,90.0 60.5,93.8 63.7,95.5 67.0,97.1 70.3,94.4 73.5,91.6 76.8,92.2 80.1,94.4 84.5,96.0 89.9,97.1 95.4,98.2 100.8,98.7 103.0,97.6 106.3,99.3 109.5,98.2 111.2,94.4 111.2,90.0 112.8,86.7 116.9,85.5 120.7,83.5 123.3,80.4 125.8,78.5 130.3,77.8 133.5,79.1 136.0,82.9 139.8,82.3 143.6,81.0 147.5,79.1 150.1,75.5 155.2,72.4 159.0,69.8 160.3,66.0 165.4,65.4 170.5,66.0 175.5,66.6 179.4,65.4 181.9,61.5 183.2,59.0 185.7,57.1 188.9,55.8 190.2,58.4 192.7,60.3 197.2,60.9 201.0,60.3 203.5,57.7 206.7,56.5 208.0,57.1 206.1,60.3 205.1,63.9 206.4,67.7 210.2,66.5 215.3,65.2 220.4,66.5 225.5,67.7 229.3,67.7 233.1,69.6 236.3,72.2 239.5,73.5 242.0,76.6 243.9,80.5 245.8,82.4 245.2,85.5 246.5,89.4 248.4,93.2 252.2,91.9 254.7,94.5 254.1,98.3 256.6,101.4 261.1,102.6 262.4,106.5 261.1,111.5 259.8,115.4 257.3,118.5 256.0,122.4 258.5,126.2 259.2,128.7 256.0,131.9 254.7,135.7 253.7,139.0 251.2,142.8 248.6,145.4 247.4,147.9 243.5,151.7 241.0,154.3 237.2,154.9 233.4,153.6 228.3,154.3 223.2,152.4 219.4,150.5 216.8,146.6 214.8,144.9 211.0,143.6 205.9,143.6 203.4,142.4 202.1,139.2 200.8,136.0 197.0,134.1 194.5,131.5 193.2,126.5 191.9,125.2 188.7,126.5 184.9,127.7 181.7,131.5 179.2,135.4 176.0,138.5 171.5,139.8 165.2,140.5 161.4,141.7 162.0,144.3 162.6,148.1 160.1,153.2 158.2,158.3 158.2,167.6 158.2,172.7 158.2,177.8 156.9,181.6 155.6,184.2 154.4,182.9 150.5,181.6 146.7,182.3 142.9,181.0 139.1,179.1 135.3,179.1 131.5,180.4 127.6,181.0 123.8,178.5 118.9,180.5 115.7,182.5 115.7,185.6 117.0,190.7 118.3,194.5 115.7,198.4 113.2,199.0 111.9,195.8 110.6,192.0 105.5,190.7 97.9,190.7 92.8,189.5 87.7,188.2 85.8,186.9 82.6,184.4 81.4,179.9 78.8,177.4 75.3,177.3 71.8,178.6 68.0,180.5 65.5,179.9 62.9,177.4 61.0,173.5 57.8,174.2 54.0,176.1 50.8,176.7 50.2,174.2 46.4,176.1 41.3,177.4 35.5,178.6 31.1,178.0 29.2,175.5 27.9,171.6 27.3,165.3 25.4,160.2 24.1,155.7 21.5,153.8 20.9,150.0 20.9,148.1 19.6,145.5 19.0,142.4 17.1,139.8 17.7,137.3 22.2,134.7 26.6,132.8 30.5,129.6 33.6,127.1 34.3,124.5 30.5,121.4 27.3,118.8 25.4,115.0 25.4,113.2 26.0,109.4 24.7,106.8 24.1,100.5" fill="none" stroke="#3a3a3a" stroke-width="0.5"/><path d="M23.4,143.2 C24.4,141.2 28.4,141.3 29.0,143.6 C29.4,145.8 27.4,147.1 25.4,146.6 C23.9,146.2 23.0,144.6 23.4,143.2 Z" fill="#fff" stroke="#555" stroke-width="0.45"/></g>
<g id="map3"><g clip-path="url(#clipmap)"><g filter="url(#soft)"><g filter="url(#bl)"><rect x="5" y="45" width="270" height="170" fill="rgb(255, 170, 8)"/><rect x="15" y="55" width="10" height="10" fill="rgb(255, 170, 8)"/><rect x="25" y="55" width="10" height="10" fill="rgb(255, 170, 8)"/><rect x="35" y="55" width="10" height="10" fill="rgb(255, 170, 8)"/><rect x="45" y="55" width="10" height="10" fill="rgb(255, 170, 8)"/><rect x="55" y="55" width="10" height="10" fill="rgb(255, 170, 8)"/><rect x="65" y="55" width="10" height="10" fill="rgb(94, 228, 12)"/><rect x="75" y="55" width="10" height="10" fill="rgb(94, 228, 12)"/><rect x="85" y="55" width="10" height="10" fill="rgb(94, 228, 12)"/><rect x="95" y="55" width="10" height="10" fill="rgb(255, 170, 8)"/><rect x="105" y="55" width="10" height="10" fill="rgb(255, 170, 8)"/><rect x="115" y="55" width="10" height="10" fill="rgb(255, 170, 8)"/><rect x="125" y="55" width="10" height="10" fill="rgb(255, 170, 8)"/><rect x="135" y="55" width="10" height="10" fill="rgb(94, 228, 12)"/><rect x="145" y="55" width="10" height="10" fill="rgb(94, 228, 12)"/><rect x="155" y="55" width="10" height="10" fill="rgb(94, 228, 12)"/><rect x="165" y="55" width="10" height="10" fill="rgb(94, 228, 12)"/><rect x="175" y="55" width="10" height="10" fill="rgb(94, 228, 12)"/><rect x="185" y="55" width="10" height="10" fill="rgb(94, 228, 12)"/><rect x="195" y="55" width="10" height="10" fill="rgb(238, 240, 96)"/><rect x="205" y="55" width="10" height="10" fill="rgb(238, 240, 96)"/><rect x="215" y="55" width="10" height="10" fill="rgb(238, 240, 96)"/><rect x="225" y="55" width="10" height="10" fill="rgb(94, 228, 12)"/><rect x="235" y="55" width="10" height="10" fill="rgb(238, 240, 96)"/><rect x="245" y="55" width="10" height="10" fill="rgb(238, 240, 96)"/><rect x="255" y="55" width="10" height="10" fill="rgb(238, 240, 96)"/><rect x="15" y="65" width="10" height="10" fill="rgb(255, 170, 8)"/><rect x="25" y="65" width="10" height="10" fill="rgb(255, 170, 8)"/><rect x="35" y="65" width="10" height="10" fill="rgb(255, 170, 8)"/><rect x="45" y="65" width="10" height="10" fill="rgb(255, 170, 8)"/><rect x="55" y="65" width="10" height="10" fill="rgb(255, 170, 8)"/><rect x="65" y="65" width="10" height="10" fill="rgb(94, 228, 12)"/><rect x="75" y="65" width="10" height="10" fill="rgb(94, 228, 12)"/><rect x="85" y="65" width="10" height="10" fill="rgb(94, 228, 12)"/><rect x="95" y="65" width="10" height="10" fill="rgb(255, 170, 8)"/><rect x="105" y="65" width="10" height="10" fill="rgb(255, 170, 8)"/><rect x="115" y="65" width="10" height="10" fill="rgb(255, 170, 8)"/><rect x="125" y="65" width="10" height="10" fill="rgb(255, 170, 8)"/><rect x="135" y="65" width="10" height="10" fill="rgb(94, 228, 12)"/><rect x="145" y="65" width="10" height="10" fill="rgb(94, 228, 12)"/><rect x="155" y="65" width="10" height="10" fill="rgb(94, 228, 12)"/><rect x="165" y="65" width="10" height="10" fill="rgb(94, 228, 12)"/><rect x="175" y="65" width="10" height="10" fill="rgb(94, 228, 12)"/><rect x="185" y="65" width="10" height="10" fill="rgb(94, 228, 12)"/><rect x="195" y="65" width="10" height="10" fill="rgb(94, 228, 12)"/><rect x="205" y="65" width="10" height="10" fill="rgb(94, 228, 12)"/><rect x="215" y="65" width="10" height="10" fill="rgb(94, 228, 12)"/><rect x="225" y="65" width="10" height="10" fill="rgb(94, 228, 12)"/><rect x="235" y="65" width="10" height="10" fill="rgb(238, 240, 96)"/><rect x="245" y="65" width="10" height="10" fill="rgb(238, 240, 96)"/><rect x="255" y="65" width="10" height="10" fill="rgb(238, 240, 96)"/><rect x="15" y="75" width="10" height="10" fill="rgb(255, 170, 8)"/><rect x="25" y="75" width="10" height="10" fill="rgb(255, 170, 8)"/><rect x="35" y="75" width="10" height="10" fill="rgb(255, 170, 8)"/><rect x="45" y="75" width="10" height="10" fill="rgb(255, 170, 8)"/><rect x="55" y="75" width="10" height="10" fill="rgb(255, 170, 8)"/><rect x="65" y="75" width="10" height="10" fill="rgb(94, 228, 12)"/><rect x="75" y="75" width="10" height="10" fill="rgb(94, 228, 12)"/><rect x="85" y="75" width="10" height="10" fill="rgb(94, 228, 12)"/><rect x="95" y="75" width="10" height="10" fill="rgb(255, 170, 8)"/><rect x="105" y="75" width="10" height="10" fill="rgb(255, 170, 8)"/><rect x="115" y="75" width="10" height="10" fill="rgb(255, 170, 8)"/><rect x="125" y="75" width="10" height="10" fill="rgb(255, 170, 8)"/><rect x="135" y="75" width="10" height="10" fill="rgb(94, 228, 12)"/><rect x="145" y="75" width="10" height="10" fill="rgb(94, 228, 12)"/><rect x="155" y="75" width="10" height="10" fill="rgb(94, 228, 12)"/><rect x="165" y="75" width="10" height="10" fill="rgb(94, 228, 12)"/><rect x="175" y="75" width="10" height="10" fill="rgb(94, 228, 12)"/><rect x="185" y="75" width="10" height="10" fill="rgb(94, 228, 12)"/><rect x="195" y="75" width="10" height="10" fill="rgb(94, 228, 12)"/><rect x="205" y="75" width="10" height="10" fill="rgb(238, 240, 96)"/><rect x="215" y="75" width="10" height="10" fill="rgb(238, 240, 96)"/><rect x="225" y="75" width="10" height="10" fill="rgb(238, 240, 96)"/><rect x="235" y="75" width="10" height="10" fill="rgb(238, 240, 96)"/><rect x="245" y="75" width="10" height="10" fill="rgb(238, 240, 96)"/><rect x="255" y="75" width="10" height="10" fill="rgb(238, 240, 96)"/><rect x="15" y="85" width="10" height="10" fill="rgb(255, 170, 8)"/><rect x="25" y="85" width="10" height="10" fill="rgb(255, 170, 8)"/><rect x="35" y="85" width="10" height="10" fill="rgb(255, 170, 8)"/><rect x="45" y="85" width="10" height="10" fill="rgb(255, 170, 8)"/><rect x="55" y="85" width="10" height="10" fill="rgb(255, 170, 8)"/><rect x="65" y="85" width="10" height="10" fill="rgb(94, 228, 12)"/><rect x="75" y="85" width="10" height="10" fill="rgb(94, 228, 12)"/><rect x="85" y="85" width="10" height="10" fill="rgb(94, 228, 12)"/><rect x="95" y="85" width="10" height="10" fill="rgb(238, 240, 96)"/><rect x="105" y="85" width="10" height="10" fill="rgb(238, 240, 96)"/><rect x="115" y="85" width="10" height="10" fill="rgb(255, 170, 8)"/><rect x="125" y="85" width="10" height="10" fill="rgb(238, 240, 96)"/><rect x="135" y="85" width="10" height="10" fill="rgb(94, 228, 12)"/><rect x="145" y="85" width="10" height="10" fill="rgb(94, 228, 12)"/><rect x="155" y="85" width="10" height="10" fill="rgb(94, 228, 12)"/><rect x="165" y="85" width="10" height="10" fill="rgb(250, 26, 6)"/><rect x="175" y="85" width="10" height="10" fill="rgb(94, 228, 12)"/><rect x="185" y="85" width="10" height="10" fill="rgb(255, 170, 8)"/><rect x="195" y="85" width="10" height="10" fill="rgb(238, 240, 96)"/><rect x="205" y="85" width="10" height="10" fill="rgb(238, 240, 96)"/><rect x="215" y="85" width="10" height="10" fill="rgb(238, 240, 96)"/><rect x="225" y="85" width="10" height="10" fill="rgb(238, 240, 96)"/><rect x="235" y="85" width="10" height="10" fill="rgb(238, 240, 96)"/><rect x="245" y="85" width="10" height="10" fill="rgb(238, 240, 96)"/><rect x="255" y="85" width="10" height="10" fill="rgb(238, 240, 96)"/><rect x="15" y="95" width="10" height="10" fill="rgb(255, 170, 8)"/><rect x="25" y="95" width="10" height="10" fill="rgb(255, 170, 8)"/><rect x="35" y="95" width="10" height="10" fill="rgb(255, 170, 8)"/><rect x="45" y="95" width="10" height="10" fill="rgb(255, 170, 8)"/><rect x="55" y="95" width="10" height="10" fill="rgb(238, 240, 96)"/><rect x="65" y="95" width="10" height="10" fill="rgb(94, 228, 12)"/><rect x="75" y="95" width="10" height="10" fill="rgb(94, 228, 12)"/><rect x="85" y="95" width="10" height="10" fill="rgb(94, 228, 12)"/><rect x="95" y="95" width="10" height="10" fill="rgb(94, 228, 12)"/><rect x="105" y="95" width="10" height="10" fill="rgb(94, 228, 12)"/><rect x="115" y="95" width="10" height="10" fill="rgb(255, 170, 8)"/><rect x="125" y="95" width="10" height="10" fill="rgb(238, 240, 96)"/><rect x="135" y="95" width="10" height="10" fill="rgb(94, 228, 12)"/><rect x="145" y="95" width="10" height="10" fill="rgb(255, 170, 8)"/><rect x="155" y="95" width="10" height="10" fill="rgb(94, 228, 12)"/><rect x="165" y="95" width="10" height="10" fill="rgb(94, 228, 12)"/><rect x="175" y="95" width="10" height="10" fill="rgb(94, 228, 12)"/><rect x="185" y="95" width="10" height="10" fill="rgb(94, 228, 12)"/><rect x="195" y="95" width="10" height="10" fill="rgb(238, 240, 96)"/><rect x="205" y="95" width="10" height="10" fill="rgb(238, 240, 96)"/><rect x="215" y="95" width="10" height="10" fill="rgb(238, 240, 96)"/><rect x="225" y="95" width="10" height="10" fill="rgb(255, 170, 8)"/><rect x="235" y="95" width="10" height="10" fill="rgb(238, 240, 96)"/><rect x="245" y="95" width="10" height="10" fill="rgb(238, 240, 96)"/><rect x="255" y="95" width="10" height="10" fill="rgb(238, 240, 96)"/><rect x="15" y="105" width="10" height="10" fill="rgb(238, 240, 96)"/><rect x="25" y="105" width="10" height="10" fill="rgb(255, 170, 8)"/><rect x="35" y="105" width="10" height="10" fill="rgb(255, 170, 8)"/><rect x="45" y="105" width="10" height="10" fill="rgb(238, 240, 96)"/><rect x="55" y="105" width="10" height="10" fill="rgb(94, 228, 12)"/><rect x="65" y="105" width="10" height="10" fill="rgb(94, 228, 12)"/><rect x="75" y="105" width="10" height="10" fill="rgb(94, 228, 12)"/><rect x="85" y="105" width="10" height="10" fill="rgb(94, 228, 12)"/><rect x="95" y="105" width="10" height="10" fill="rgb(94, 228, 12)"/><rect x="105" y="105" width="10" height="10" fill="rgb(94, 228, 12)"/><rect x="115" y="105" width="10" height="10" fill="rgb(255, 170, 8)"/><rect x="125" y="105" width="10" height="10" fill="rgb(94, 228, 12)"/><rect x="135" y="105" width="10" height="10" fill="rgb(94, 228, 12)"/><rect x="145" y="105" width="10" height="10" fill="rgb(238, 240, 96)"/><rect x="155" y="105" width="10" height="10" fill="rgb(94, 228, 12)"/><rect x="165" y="105" width="10" height="10" fill="rgb(94, 228, 12)"/><rect x="175" y="105" width="10" height="10" fill="rgb(238, 240, 96)"/><rect x="185" y="105" width="10" height="10" fill="rgb(238, 240, 96)"/><rect x="195" y="105" width="10" height="10" fill="rgb(238, 240, 96)"/><rect x="205" y="105" width="10" height="10" fill="rgb(255, 170, 8)"/><rect x="215" y="105" width="10" height="10" fill="rgb(255, 170, 8)"/><rect x="225" y="105" width="10" height="10" fill="rgb(255, 170, 8)"/><rect x="235" y="105" width="10" height="10" fill="rgb(238, 240, 96)"/><rect x="245" y="105" width="10" height="10" fill="rgb(238, 240, 96)"/><rect x="255" y="105" width="10" height="10" fill="rgb(238, 240, 96)"/><rect x="15" y="115" width="10" height="10" fill="rgb(255, 170, 8)"/><rect x="25" y="115" width="10" height="10" fill="rgb(255, 170, 8)"/><rect x="35" y="115" width="10" height="10" fill="rgb(255, 170, 8)"/><rect x="45" y="115" width="10" height="10" fill="rgb(238, 240, 96)"/><rect x="55" y="115" width="10" height="10" fill="rgb(94, 228, 12)"/><rect x="65" y="115" width="10" height="10" fill="rgb(94, 228, 12)"/><rect x="75" y="115" width="10" height="10" fill="rgb(94, 228, 12)"/><rect x="85" y="115" width="10" height="10" fill="rgb(94, 228, 12)"/><rect x="95" y="115" width="10" height="10" fill="rgb(94, 228, 12)"/><rect x="105" y="115" width="10" height="10" fill="rgb(238, 240, 96)"/><rect x="115" y="115" width="10" height="10" fill="rgb(94, 228, 12)"/><rect x="125" y="115" width="10" height="10" fill="rgb(238, 240, 96)"/><rect x="135" y="115" width="10" height="10" fill="rgb(94, 228, 12)"/><rect x="145" y="115" width="10" height="10" fill="rgb(94, 228, 12)"/><rect x="155" y="115" width="10" height="10" fill="rgb(94, 228, 12)"/><rect x="165" y="115" width="10" height="10" fill="rgb(238, 240, 96)"/><rect x="175" y="115" width="10" height="10" fill="rgb(255, 170, 8)"/><rect x="185" y="115" width="10" height="10" fill="rgb(255, 170, 8)"/><rect x="195" y="115" width="10" height="10" fill="rgb(255, 170, 8)"/><rect x="205" y="115" width="10" height="10" fill="rgb(255, 170, 8)"/><rect x="215" y="115" width="10" height="10" fill="rgb(255, 170, 8)"/><rect x="225" y="115" width="10" height="10" fill="rgb(255, 170, 8)"/><rect x="235" y="115" width="10" height="10" fill="rgb(255, 170, 8)"/><rect x="245" y="115" width="10" height="10" fill="rgb(255, 170, 8)"/><rect x="255" y="115" width="10" height="10" fill="rgb(255, 170, 8)"/><rect x="15" y="125" width="10" height="10" fill="rgb(255, 170, 8)"/><rect x="25" y="125" width="10" height="10" fill="rgb(255, 170, 8)"/><rect x="35" y="125" width="10" height="10" fill="rgb(255, 170, 8)"/><rect x="45" y="125" width="10" height="10" fill="rgb(238, 240, 96)"/><rect x="55" y="125" width="10" height="10" fill="rgb(94, 228, 12)"/><rect x="65" y="125" width="10" height="10" fill="rgb(238, 240, 96)"/><rect x="75" y="125" width="10" height="10" fill="rgb(255, 170, 8)"/><rect x="85" y="125" width="10" height="10" fill="rgb(255, 170, 8)"/><rect x="95" y="125" width="10" height="10" fill="rgb(255, 170, 8)"/><rect x="105" y="125" width="10" height="10" fill="rgb(255, 170, 8)"/><rect x="115" y="125" width="10" height="10" fill="rgb(255, 170, 8)"/><rect x="125" y="125" width="10" height="10" fill="rgb(255, 170, 8)"/><rect x="135" y="125" width="10" height="10" fill="rgb(255, 170, 8)"/><rect x="145" y="125" width="10" height="10" fill="rgb(255, 170, 8)"/><rect x="155" y="125" width="10" height="10" fill="rgb(238, 240, 96)"/><rect x="165" y="125" width="10" height="10" fill="rgb(255, 170, 8)"/><rect x="175" y="125" width="10" height="10" fill="rgb(238, 240, 96)"/><rect x="185" y="125" width="10" height="10" fill="rgb(238, 240, 96)"/><rect x="195" y="125" width="10" height="10" fill="rgb(255, 170, 8)"/><rect x="205" y="125" width="10" height="10" fill="rgb(255, 170, 8)"/><rect x="215" y="125" width="10" height="10" fill="rgb(255, 170, 8)"/><rect x="225" y="125" width="10" height="10" fill="rgb(255, 170, 8)"/><rect x="235" y="125" width="10" height="10" fill="rgb(255, 170, 8)"/><rect x="245" y="125" width="10" height="10" fill="rgb(238, 240, 96)"/><rect x="255" y="125" width="10" height="10" fill="rgb(255, 170, 8)"/><rect x="15" y="135" width="10" height="10" fill="rgb(250, 26, 6)"/><rect x="25" y="135" width="10" height="10" fill="rgb(238, 240, 96)"/><rect x="35" y="135" width="10" height="10" fill="rgb(238, 240, 96)"/><rect x="45" y="135" width="10" height="10" fill="rgb(238, 240, 96)"/><rect x="55" y="135" width="10" height="10" fill="rgb(250, 26, 6)"/><rect x="65" y="135" width="10" height="10" fill="rgb(255, 170, 8)"/><rect x="75" y="135" width="10" height="10" fill="rgb(238, 240, 96)"/><rect x="85" y="135" width="10" height="10" fill="rgb(94, 228, 12)"/><rect x="95" y="135" width="10" height="10" fill="rgb(238, 240, 96)"/><rect x="105" y="135" width="10" height="10" fill="rgb(255, 170, 8)"/><rect x="115" y="135" width="10" height="10" fill="rgb(94, 228, 12)"/><rect x="125" y="135" width="10" height="10" fill="rgb(94, 228, 12)"/><rect x="135" y="135" width="10" height="10" fill="rgb(238, 240, 96)"/><rect x="145" y="135" width="10" height="10" fill="rgb(94, 228, 12)"/><rect x="155" y="135" width="10" height="10" fill="rgb(94, 228, 12)"/><rect x="165" y="135" width="10" height="10" fill="rgb(94, 228, 12)"/><rect x="175" y="135" width="10" height="10" fill="rgb(238, 240, 96)"/><rect x="185" y="135" width="10" height="10" fill="rgb(238, 240, 96)"/><rect x="195" y="135" width="10" height="10" fill="rgb(255, 170, 8)"/><rect x="205" y="135" width="10" height="10" fill="rgb(255, 170, 8)"/><rect x="215" y="135" width="10" height="10" fill="rgb(238, 240, 96)"/><rect x="225" y="135" width="10" height="10" fill="rgb(238, 240, 96)"/><rect x="235" y="135" width="10" height="10" fill="rgb(255, 170, 8)"/><rect x="245" y="135" width="10" height="10" fill="rgb(238, 240, 96)"/><rect x="255" y="135" width="10" height="10" fill="rgb(238, 240, 96)"/><rect x="15" y="145" width="10" height="10" fill="rgb(238, 240, 96)"/><rect x="25" y="145" width="10" height="10" fill="rgb(94, 228, 12)"/><rect x="35" y="145" width="10" height="10" fill="rgb(238, 240, 96)"/><rect x="45" y="145" width="10" height="10" fill="rgb(250, 26, 6)"/><rect x="55" y="145" width="10" height="10" fill="rgb(238, 240, 96)"/><rect x="65" y="145" width="10" height="10" fill="rgb(238, 240, 96)"/><rect x="75" y="145" width="10" height="10" fill="rgb(255, 170, 8)"/><rect x="85" y="145" width="10" height="10" fill="rgb(238, 240, 96)"/><rect x="95" y="145" width="10" height="10" fill="rgb(238, 240, 96)"/><rect x="105" y="145" width="10" height="10" fill="rgb(255, 170, 8)"/><rect x="115" y="145" width="10" height="10" fill="rgb(238, 240, 96)"/><rect x="125" y="145" width="10" height="10" fill="rgb(94, 228, 12)"/><rect x="135" y="145" width="10" height="10" fill="rgb(238, 240, 96)"/><rect x="145" y="145" width="10" height="10" fill="rgb(94, 228, 12)"/><rect x="155" y="145" width="10" height="10" fill="rgb(94, 228, 12)"/><rect x="165" y="145" width="10" height="10" fill="rgb(94, 228, 12)"/><rect x="175" y="145" width="10" height="10" fill="rgb(94, 228, 12)"/><rect x="185" y="145" width="10" height="10" fill="rgb(94, 228, 12)"/><rect x="195" y="145" width="10" height="10" fill="rgb(238, 240, 96)"/><rect x="205" y="145" width="10" height="10" fill="rgb(238, 240, 96)"/><rect x="215" y="145" width="10" height="10" fill="rgb(238, 240, 96)"/><rect x="225" y="145" width="10" height="10" fill="rgb(94, 228, 12)"/><rect x="235" y="145" width="10" height="10" fill="rgb(238, 240, 96)"/><rect x="245" y="145" width="10" height="10" fill="rgb(94, 228, 12)"/><rect x="255" y="145" width="10" height="10" fill="rgb(94, 228, 12)"/><rect x="15" y="155" width="10" height="10" fill="rgb(94, 228, 12)"/><rect x="25" y="155" width="10" height="10" fill="rgb(238, 240, 96)"/><rect x="35" y="155" width="10" height="10" fill="rgb(238, 240, 96)"/><rect x="45" y="155" width="10" height="10" fill="rgb(250, 26, 6)"/><rect x="55" y="155" width="10" height="10" fill="rgb(238, 240, 96)"/><rect x="65" y="155" width="10" height="10" fill="rgb(238, 240, 96)"/><rect x="75" y="155" width="10" height="10" fill="rgb(238, 240, 96)"/><rect x="85" y="155" width="10" height="10" fill="rgb(238, 240, 96)"/><rect x="95" y="155" width="10" height="10" fill="rgb(255, 170, 8)"/><rect x="105" y="155" width="10" height="10" fill="rgb(238, 240, 96)"/><rect x="115" y="155" width="10" height="10" fill="rgb(238, 240, 96)"/><rect x="125" y="155" width="10" height="10" fill="rgb(94, 228, 12)"/><rect x="135" y="155" width="10" height="10" fill="rgb(94, 228, 12)"/><rect x="145" y="155" width="10" height="10" fill="rgb(238, 240, 96)"/><rect x="155" y="155" width="10" height="10" fill="rgb(94, 228, 12)"/><rect x="165" y="155" width="10" height="10" fill="rgb(94, 228, 12)"/><rect x="175" y="155" width="10" height="10" fill="rgb(94, 228, 12)"/><rect x="185" y="155" width="10" height="10" fill="rgb(94, 228, 12)"/><rect x="195" y="155" width="10" height="10" fill="rgb(238, 240, 96)"/><rect x="205" y="155" width="10" height="10" fill="rgb(238, 240, 96)"/><rect x="215" y="155" width="10" height="10" fill="rgb(238, 240, 96)"/><rect x="225" y="155" width="10" height="10" fill="rgb(238, 240, 96)"/><rect x="235" y="155" width="10" height="10" fill="rgb(238, 240, 96)"/><rect x="245" y="155" width="10" height="10" fill="rgb(238, 240, 96)"/><rect x="255" y="155" width="10" height="10" fill="rgb(238, 240, 96)"/><rect x="15" y="165" width="10" height="10" fill="rgb(238, 240, 96)"/><rect x="25" y="165" width="10" height="10" fill="rgb(238, 240, 96)"/><rect x="35" y="165" width="10" height="10" fill="rgb(238, 240, 96)"/><rect x="45" y="165" width="10" height="10" fill="rgb(238, 240, 96)"/><rect x="55" y="165" width="10" height="10" fill="rgb(238, 240, 96)"/><rect x="65" y="165" width="10" height="10" fill="rgb(238, 240, 96)"/><rect x="75" y="165" width="10" height="10" fill="rgb(238, 240, 96)"/><rect x="85" y="165" width="10" height="10" fill="rgb(255, 170, 8)"/><rect x="95" y="165" width="10" height="10" fill="rgb(238, 240, 96)"/><rect x="105" y="165" width="10" height="10" fill="rgb(94, 228, 12)"/><rect x="115" y="165" width="10" height="10" fill="rgb(238, 240, 96)"/><rect x="125" y="165" width="10" height="10" fill="rgb(94, 228, 12)"/><rect x="135" y="165" width="10" height="10" fill="rgb(94, 228, 12)"/><rect x="145" y="165" width="10" height="10" fill="rgb(94, 228, 12)"/><rect x="155" y="165" width="10" height="10" fill="rgb(94, 228, 12)"/><rect x="165" y="165" width="10" height="10" fill="rgb(94, 228, 12)"/><rect x="175" y="165" width="10" height="10" fill="rgb(94, 228, 12)"/><rect x="185" y="165" width="10" height="10" fill="rgb(94, 228, 12)"/><rect x="195" y="165" width="10" height="10" fill="rgb(94, 228, 12)"/><rect x="205" y="165" width="10" height="10" fill="rgb(238, 240, 96)"/><rect x="215" y="165" width="10" height="10" fill="rgb(238, 240, 96)"/><rect x="225" y="165" width="10" height="10" fill="rgb(238, 240, 96)"/><rect x="235" y="165" width="10" height="10" fill="rgb(238, 240, 96)"/><rect x="245" y="165" width="10" height="10" fill="rgb(238, 240, 96)"/><rect x="255" y="165" width="10" height="10" fill="rgb(238, 240, 96)"/><rect x="15" y="175" width="10" height="10" fill="rgb(238, 240, 96)"/><rect x="25" y="175" width="10" height="10" fill="rgb(238, 240, 96)"/><rect x="35" y="175" width="10" height="10" fill="rgb(238, 240, 96)"/><rect x="45" y="175" width="10" height="10" fill="rgb(238, 240, 96)"/><rect x="55" y="175" width="10" height="10" fill="rgb(238, 240, 96)"/><rect x="65" y="175" width="10" height="10" fill="rgb(238, 240, 96)"/><rect x="75" y="175" width="10" height="10" fill="rgb(94, 228, 12)"/><rect x="85" y="175" width="10" height="10" fill="rgb(238, 240, 96)"/><rect x="95" y="175" width="10" height="10" fill="rgb(238, 240, 96)"/><rect x="105" y="175" width="10" height="10" fill="rgb(94, 228, 12)"/><rect x="115" y="175" width="10" height="10" fill="rgb(94, 228, 12)"/><rect x="125" y="175" width="10" height="10" fill="rgb(94, 228, 12)"/><rect x="135" y="175" width="10" height="10" fill="rgb(238, 240, 96)"/><rect x="145" y="175" width="10" height="10" fill="rgb(238, 240, 96)"/><rect x="155" y="175" width="10" height="10" fill="rgb(238, 240, 96)"/><rect x="165" y="175" width="10" height="10" fill="rgb(238, 240, 96)"/><rect x="175" y="175" width="10" height="10" fill="rgb(238, 240, 96)"/><rect x="185" y="175" width="10" height="10" fill="rgb(238, 240, 96)"/><rect x="195" y="175" width="10" height="10" fill="rgb(238, 240, 96)"/><rect x="205" y="175" width="10" height="10" fill="rgb(238, 240, 96)"/><rect x="215" y="175" width="10" height="10" fill="rgb(238, 240, 96)"/><rect x="225" y="175" width="10" height="10" fill="rgb(238, 240, 96)"/><rect x="235" y="175" width="10" height="10" fill="rgb(238, 240, 96)"/><rect x="245" y="175" width="10" height="10" fill="rgb(238, 240, 96)"/><rect x="255" y="175" width="10" height="10" fill="rgb(238, 240, 96)"/><rect x="15" y="185" width="10" height="10" fill="rgb(238, 240, 96)"/><rect x="25" y="185" width="10" height="10" fill="rgb(238, 240, 96)"/><rect x="35" y="185" width="10" height="10" fill="rgb(238, 240, 96)"/><rect x="45" y="185" width="10" height="10" fill="rgb(238, 240, 96)"/><rect x="55" y="185" width="10" height="10" fill="rgb(238, 240, 96)"/><rect x="65" y="185" width="10" height="10" fill="rgb(238, 240, 96)"/><rect x="75" y="185" width="10" height="10" fill="rgb(94, 228, 12)"/><rect x="85" y="185" width="10" height="10" fill="rgb(94, 228, 12)"/><rect x="95" y="185" width="10" height="10" fill="rgb(94, 228, 12)"/><rect x="105" y="185" width="10" height="10" fill="rgb(238, 240, 96)"/><rect x="115" y="185" width="10" height="10" fill="rgb(94, 228, 12)"/><rect x="125" y="185" width="10" height="10" fill="rgb(94, 228, 12)"/><rect x="135" y="185" width="10" height="10" fill="rgb(238, 240, 96)"/><rect x="145" y="185" width="10" height="10" fill="rgb(238, 240, 96)"/><rect x="155" y="185" width="10" height="10" fill="rgb(238, 240, 96)"/><rect x="165" y="185" width="10" height="10" fill="rgb(238, 240, 96)"/><rect x="175" y="185" width="10" height="10" fill="rgb(238, 240, 96)"/><rect x="185" y="185" width="10" height="10" fill="rgb(238, 240, 96)"/><rect x="195" y="185" width="10" height="10" fill="rgb(238, 240, 96)"/><rect x="205" y="185" width="10" height="10" fill="rgb(238, 240, 96)"/><rect x="215" y="185" width="10" height="10" fill="rgb(238, 240, 96)"/><rect x="225" y="185" width="10" height="10" fill="rgb(238, 240, 96)"/><rect x="235" y="185" width="10" height="10" fill="rgb(238, 240, 96)"/><rect x="245" y="185" width="10" height="10" fill="rgb(238, 240, 96)"/><rect x="255" y="185" width="10" height="10" fill="rgb(238, 240, 96)"/><rect x="15" y="195" width="10" height="10" fill="rgb(238, 240, 96)"/><rect x="25" y="195" width="10" height="10" fill="rgb(238, 240, 96)"/><rect x="35" y="195" width="10" height="10" fill="rgb(238, 240, 96)"/><rect x="45" y="195" width="10" height="10" fill="rgb(238, 240, 96)"/><rect x="55" y="195" width="10" height="10" fill="rgb(238, 240, 96)"/><rect x="65" y="195" width="10" height="10" fill="rgb(238, 240, 96)"/><rect x="75" y="195" width="10" height="10" fill="rgb(94, 228, 12)"/><rect x="85" y="195" width="10" height="10" fill="rgb(94, 228, 12)"/><rect x="95" y="195" width="10" height="10" fill="rgb(94, 228, 12)"/><rect x="105" y="195" width="10" height="10" fill="rgb(238, 240, 96)"/><rect x="115" y="195" width="10" height="10" fill="rgb(238, 240, 96)"/><rect x="125" y="195" width="10" height="10" fill="rgb(238, 240, 96)"/><rect x="135" y="195" width="10" height="10" fill="rgb(238, 240, 96)"/><rect x="145" y="195" width="10" height="10" fill="rgb(238, 240, 96)"/><rect x="155" y="195" width="10" height="10" fill="rgb(238, 240, 96)"/><rect x="165" y="195" width="10" height="10" fill="rgb(238, 240, 96)"/><rect x="175" y="195" width="10" height="10" fill="rgb(238, 240, 96)"/><rect x="185" y="195" width="10" height="10" fill="rgb(238, 240, 96)"/><rect x="195" y="195" width="10" height="10" fill="rgb(238, 240, 96)"/><rect x="205" y="195" width="10" height="10" fill="rgb(238, 240, 96)"/><rect x="215" y="195" width="10" height="10" fill="rgb(238, 240, 96)"/><rect x="225" y="195" width="10" height="10" fill="rgb(238, 240, 96)"/><rect x="235" y="195" width="10" height="10" fill="rgb(238, 240, 96)"/><rect x="245" y="195" width="10" height="10" fill="rgb(238, 240, 96)"/><rect x="255" y="195" width="10" height="10" fill="rgb(238, 240, 96)"/></g><g filter="url(#mY)"><rect x="65" y="55" width="10" height="10" fill-opacity="0.346"/><rect x="75" y="55" width="10" height="10" fill-opacity="0.346"/><rect x="85" y="55" width="10" height="10" fill-opacity="0.346"/><rect x="155" y="55" width="10" height="10" fill-opacity="0.346"/><rect x="175" y="55" width="10" height="10" fill-opacity="0.346"/><rect x="185" y="55" width="10" height="10" fill-opacity="0.346"/><rect x="225" y="55" width="10" height="10" fill-opacity="0.346"/><rect x="65" y="65" width="10" height="10" fill-opacity="0.346"/><rect x="75" y="65" width="10" height="10" fill-opacity="0.346"/><rect x="85" y="65" width="10" height="10" fill-opacity="0.346"/><rect x="155" y="65" width="10" height="10" fill-opacity="0.346"/><rect x="175" y="65" width="10" height="10" fill-opacity="0.346"/><rect x="185" y="65" width="10" height="10" fill-opacity="0.346"/><rect x="205" y="65" width="10" height="10" fill-opacity="0.346"/><rect x="215" y="65" width="10" height="10" fill-opacity="0.346"/><rect x="225" y="65" width="10" height="10" fill-opacity="0.346"/><rect x="65" y="75" width="10" height="10" fill-opacity="0.346"/><rect x="75" y="75" width="10" height="10" fill-opacity="0.346"/><rect x="85" y="75" width="10" height="10" fill-opacity="0.346"/><rect x="135" y="75" width="10" height="10" fill-opacity="0.346"/><rect x="155" y="75" width="10" height="10" fill-opacity="0.177"/><rect x="175" y="75" width="10" height="10" fill-opacity="0.177"/><rect x="185" y="75" width="10" height="10" fill-opacity="0.346"/><rect x="195" y="75" width="10" height="10" fill-opacity="0.346"/><rect x="65" y="85" width="10" height="10" fill-opacity="0.346"/><rect x="75" y="85" width="10" height="10" fill-opacity="0.346"/><rect x="85" y="85" width="10" height="10" fill-opacity="0.346"/><rect x="155" y="85" width="10" height="10" fill-opacity="0.346"/><rect x="175" y="85" width="10" height="10" fill-opacity="0.346"/><rect x="65" y="95" width="10" height="10" fill-opacity="0.346"/><rect x="85" y="95" width="10" height="10" fill-opacity="0.346"/><rect x="95" y="95" width="10" height="10" fill-opacity="0.177"/><rect x="105" y="95" width="10" height="10" fill-opacity="0.346"/><rect x="135" y="95" width="10" height="10" fill-opacity="0.346"/><rect x="155" y="95" width="10" height="10" fill-opacity="0.346"/><rect x="185" y="95" width="10" height="10" fill-opacity="0.346"/><rect x="55" y="105" width="10" height="10" fill-opacity="0.346"/><rect x="65" y="105" width="10" height="10" fill-opacity="0.346"/><rect x="75" y="105" width="10" height="10" fill-opacity="0.177"/><rect x="85" y="105" width="10" height="10" fill-opacity="0.177"/><rect x="105" y="105" width="10" height="10" fill-opacity="0.346"/><rect x="125" y="105" width="10" height="10" fill-opacity="0.346"/><rect x="155" y="105" width="10" height="10" fill-opacity="0.346"/><rect x="165" y="105" width="10" height="10" fill-opacity="0.346"/><rect x="55" y="115" width="10" height="10" fill-opacity="0.346"/><rect x="65" y="115" width="10" height="10" fill-opacity="0.346"/><rect x="75" y="115" width="10" height="10" fill-opacity="0.346"/><rect x="85" y="115" width="10" height="10" fill-opacity="0.177"/><rect x="95" y="115" width="10" height="10" fill-opacity="0.346"/><rect x="115" y="115" width="10" height="10" fill-opacity="0.346"/><rect x="135" y="115" width="10" height="10" fill-opacity="0.346"/><rect x="145" y="115" width="10" height="10" fill-opacity="0.346"/><rect x="55" y="125" width="10" height="10" fill-opacity="0.346"/><rect x="85" y="135" width="10" height="10" fill-opacity="0.346"/><rect x="115" y="135" width="10" height="10" fill-opacity="0.346"/><rect x="145" y="135" width="10" height="10" fill-opacity="0.346"/><rect x="155" y="135" width="10" height="10" fill-opacity="0.346"/><rect x="165" y="135" width="10" height="10" fill-opacity="0.346"/><rect x="25" y="145" width="10" height="10" fill-opacity="0.346"/><rect x="125" y="145" width="10" height="10" fill-opacity="0.346"/><rect x="155" y="145" width="10" height="10" fill-opacity="0.346"/><rect x="165" y="145" width="10" height="10" fill-opacity="0.346"/><rect x="175" y="145" width="10" height="10" fill-opacity="0.346"/><rect x="185" y="145" width="10" height="10" fill-opacity="0.346"/><rect x="225" y="145" width="10" height="10" fill-opacity="0.346"/><rect x="245" y="145" width="10" height="10" fill-opacity="0.346"/><rect x="255" y="145" width="10" height="10" fill-opacity="0.346"/><rect x="15" y="155" width="10" height="10" fill-opacity="0.346"/><rect x="105" y="165" width="10" height="10" fill-opacity="0.346"/><rect x="125" y="165" width="10" height="10" fill-opacity="0.346"/><rect x="135" y="165" width="10" height="10" fill-opacity="0.346"/><rect x="145" y="165" width="10" height="10" fill-opacity="0.346"/><rect x="155" y="165" width="10" height="10" fill-opacity="0.346"/><rect x="165" y="165" width="10" height="10" fill-opacity="0.346"/><rect x="175" y="165" width="10" height="10" fill-opacity="0.346"/><rect x="185" y="165" width="10" height="10" fill-opacity="0.346"/><rect x="195" y="165" width="10" height="10" fill-opacity="0.346"/><rect x="75" y="175" width="10" height="10" fill-opacity="0.346"/><rect x="105" y="175" width="10" height="10" fill-opacity="0.346"/><rect x="125" y="175" width="10" height="10" fill-opacity="0.346"/><rect x="75" y="185" width="10" height="10" fill-opacity="0.346"/><rect x="85" y="185" width="10" height="10" fill-opacity="0.346"/><rect x="95" y="185" width="10" height="10" fill-opacity="0.346"/><rect x="115" y="185" width="10" height="10" fill-opacity="0.346"/><rect x="125" y="185" width="10" height="10" fill-opacity="0.346"/><rect x="75" y="195" width="10" height="10" fill-opacity="0.346"/><rect x="85" y="195" width="10" height="10" fill-opacity="0.346"/><rect x="95" y="195" width="10" height="10" fill-opacity="0.346"/></g><g filter="url(#mO)"><rect x="195" y="55" width="10" height="10" fill-opacity="0.308"/><rect x="205" y="55" width="10" height="10" fill-opacity="0.308"/><rect x="215" y="55" width="10" height="10" fill-opacity="0.308"/><rect x="195" y="65" width="10" height="10" fill-opacity="0.138"/><rect x="165" y="75" width="10" height="10" fill-opacity="0.308"/><rect x="205" y="75" width="10" height="10" fill-opacity="0.308"/><rect x="225" y="75" width="10" height="10" fill-opacity="0.308"/><rect x="95" y="85" width="10" height="10" fill-opacity="0.308"/><rect x="105" y="85" width="10" height="10" fill-opacity="0.308"/><rect x="125" y="85" width="10" height="10" fill-opacity="0.308"/><rect x="135" y="85" width="10" height="10" fill-opacity="0.308"/><rect x="165" y="85" width="10" height="10" fill-opacity="0.177"/><rect x="195" y="85" width="10" height="10" fill-opacity="0.308"/><rect x="205" y="85" width="10" height="10" fill-opacity="0.308"/><rect x="215" y="85" width="10" height="10" fill-opacity="0.308"/><rect x="55" y="95" width="10" height="10" fill-opacity="0.308"/><rect x="125" y="95" width="10" height="10" fill-opacity="0.308"/><rect x="195" y="95" width="10" height="10" fill-opacity="0.308"/><rect x="205" y="95" width="10" height="10" fill-opacity="0.308"/><rect x="215" y="95" width="10" height="10" fill-opacity="0.308"/><rect x="245" y="95" width="10" height="10" fill-opacity="0.308"/><rect x="255" y="95" width="10" height="10" fill-opacity="0.308"/><rect x="15" y="105" width="10" height="10" fill-opacity="0.308"/><rect x="45" y="105" width="10" height="10" fill-opacity="0.308"/><rect x="145" y="105" width="10" height="10" fill-opacity="0.308"/><rect x="185" y="105" width="10" height="10" fill-opacity="0.308"/><rect x="195" y="105" width="10" height="10" fill-opacity="0.308"/><rect x="235" y="105" width="10" height="10" fill-opacity="0.308"/><rect x="245" y="105" width="10" height="10" fill-opacity="0.308"/><rect x="255" y="105" width="10" height="10" fill-opacity="0.308"/><rect x="45" y="115" width="10" height="10" fill-opacity="0.308"/><rect x="105" y="115" width="10" height="10" fill-opacity="0.308"/><rect x="125" y="115" width="10" height="10" fill-opacity="0.308"/><rect x="165" y="115" width="10" height="10" fill-opacity="0.308"/><rect x="45" y="125" width="10" height="10" fill-opacity="0.308"/><rect x="65" y="125" width="10" height="10" fill-opacity="0.308"/><rect x="155" y="125" width="10" height="10" fill-opacity="0.308"/><rect x="175" y="125" width="10" height="10" fill-opacity="0.308"/><rect x="185" y="125" width="10" height="10" fill-opacity="0.308"/><rect x="245" y="125" width="10" height="10" fill-opacity="0.308"/><rect x="25" y="135" width="10" height="10" fill-opacity="0.308"/><rect x="45" y="135" width="10" height="10" fill-opacity="0.308"/><rect x="55" y="135" width="10" height="10" fill-opacity="0.177"/><rect x="75" y="135" width="10" height="10" fill-opacity="0.308"/><rect x="95" y="135" width="10" height="10" fill-opacity="0.308"/><rect x="135" y="135" width="10" height="10" fill-opacity="0.308"/><rect x="175" y="135" width="10" height="10" fill-opacity="0.308"/><rect x="185" y="135" width="10" height="10" fill-opacity="0.308"/><rect x="215" y="135" width="10" height="10" fill-opacity="0.308"/><rect x="225" y="135" width="10" height="10" fill-opacity="0.308"/><rect x="245" y="135" width="10" height="10" fill-opacity="0.308"/><rect x="255" y="135" width="10" height="10" fill-opacity="0.308"/><rect x="35" y="145" width="10" height="10" fill-opacity="0.308"/><rect x="45" y="145" width="10" height="10" fill-opacity="0.177"/><rect x="55" y="145" width="10" height="10" fill-opacity="0.308"/><rect x="85" y="145" width="10" height="10" fill-opacity="0.308"/><rect x="115" y="145" width="10" height="10" fill-opacity="0.308"/><rect x="135" y="145" width="10" height="10" fill-opacity="0.308"/><rect x="235" y="145" width="10" height="10" fill-opacity="0.308"/><rect x="45" y="155" width="10" height="10" fill-opacity="0.177"/><rect x="75" y="155" width="10" height="10" fill-opacity="0.308"/><rect x="85" y="155" width="10" height="10" fill-opacity="0.308"/><rect x="105" y="155" width="10" height="10" fill-opacity="0.308"/><rect x="145" y="155" width="10" height="10" fill-opacity="0.308"/><rect x="35" y="165" width="10" height="10" fill-opacity="0.308"/><rect x="65" y="165" width="10" height="10" fill-opacity="0.308"/><rect x="75" y="165" width="10" height="10" fill-opacity="0.308"/><rect x="95" y="165" width="10" height="10" fill-opacity="0.308"/><rect x="115" y="165" width="10" height="10" fill-opacity="0.308"/><rect x="85" y="175" width="10" height="10" fill-opacity="0.308"/><rect x="145" y="175" width="10" height="10" fill-opacity="0.308"/><rect x="155" y="175" width="10" height="10" fill-opacity="0.308"/><rect x="165" y="175" width="10" height="10" fill-opacity="0.308"/><rect x="175" y="175" width="10" height="10" fill-opacity="0.308"/><rect x="185" y="175" width="10" height="10" fill-opacity="0.308"/><rect x="195" y="175" width="10" height="10" fill-opacity="0.308"/><rect x="105" y="185" width="10" height="10" fill-opacity="0.308"/><rect x="145" y="185" width="10" height="10" fill-opacity="0.308"/><rect x="155" y="185" width="10" height="10" fill-opacity="0.308"/><rect x="165" y="185" width="10" height="10" fill-opacity="0.308"/><rect x="175" y="185" width="10" height="10" fill-opacity="0.308"/><rect x="185" y="185" width="10" height="10" fill-opacity="0.308"/><rect x="195" y="185" width="10" height="10" fill-opacity="0.308"/><rect x="125" y="195" width="10" height="10" fill-opacity="0.308"/><rect x="135" y="195" width="10" height="10" fill-opacity="0.308"/><rect x="145" y="195" width="10" height="10" fill-opacity="0.308"/><rect x="155" y="195" width="10" height="10" fill-opacity="0.308"/><rect x="165" y="195" width="10" height="10" fill-opacity="0.308"/><rect x="175" y="195" width="10" height="10" fill-opacity="0.308"/><rect x="185" y="195" width="10" height="10" fill-opacity="0.308"/><rect x="195" y="195" width="10" height="10" fill-opacity="0.308"/></g><g filter="url(#mR)"><rect x="15" y="55" width="10" height="10" fill-opacity="0.218"/><rect x="25" y="55" width="10" height="10" fill-opacity="0.218"/><rect x="35" y="55" width="10" height="10" fill-opacity="0.218"/><rect x="125" y="55" width="10" height="10" fill-opacity="0.218"/><rect x="15" y="65" width="10" height="10" fill-opacity="0.218"/><rect x="25" y="65" width="10" height="10" fill-opacity="0.218"/><rect x="35" y="65" width="10" height="10" fill-opacity="0.218"/><rect x="125" y="65" width="10" height="10" fill-opacity="0.218"/><rect x="15" y="75" width="10" height="10" fill-opacity="0.218"/><rect x="25" y="75" width="10" height="10" fill-opacity="0.218"/><rect x="35" y="75" width="10" height="10" fill-opacity="0.218"/><rect x="125" y="75" width="10" height="10" fill-opacity="0.218"/><rect x="115" y="85" width="10" height="10" fill-opacity="0.218"/><rect x="185" y="85" width="10" height="10" fill-opacity="0.218"/><rect x="15" y="95" width="10" height="10" fill-opacity="0.218"/><rect x="115" y="95" width="10" height="10" fill-opacity="0.218"/><rect x="145" y="95" width="10" height="10" fill-opacity="0.218"/><rect x="165" y="95" width="10" height="10" fill-opacity="0.308"/><rect x="115" y="105" width="10" height="10" fill-opacity="0.218"/><rect x="15" y="125" width="10" height="10" fill-opacity="0.218"/><rect x="25" y="125" width="10" height="10" fill-opacity="0.218"/><rect x="75" y="125" width="10" height="10" fill-opacity="0.218"/><rect x="85" y="125" width="10" height="10" fill-opacity="0.218"/><rect x="95" y="125" width="10" height="10" fill-opacity="0.218"/><rect x="105" y="125" width="10" height="10" fill-opacity="0.218"/><rect x="115" y="125" width="10" height="10" fill-opacity="0.218"/><rect x="65" y="135" width="10" height="10" fill-opacity="0.218"/><rect x="75" y="145" width="10" height="10" fill-opacity="0.218"/><rect x="95" y="155" width="10" height="10" fill-opacity="0.218"/><rect x="85" y="165" width="10" height="10" fill-opacity="0.218"/></g><g filter="url(#fb)" fill="none" stroke-linecap="round" stroke-linejoin="round"><polyline points="22.0,102.3 31.1,102.9 40.0,103.5 47.6,101.6 54.0,99.7 55.9,94.6 54.0,90.8" stroke="rgb(250, 26, 6)" stroke-width="2.4"/><polyline points="47.6,101.6 45.1,106.1 40.0,111.2 34.9,116.3 32.4,118.8" stroke="rgb(250, 26, 6)" stroke-width="2.2"/><polyline points="36.0,161.5 42.9,157.1 53.1,151.3 60.4,146.9 67.6,142.5 74.9,138.2 82.2,135.3 89.5,133.8 104.0,131.6 113.2,130.7 124.1,129.6 135.0,126.4" stroke="rgb(255, 170, 8)" stroke-width="5.5"/><polyline points="28.4,171.6 38.5,166.5 50.2,161.5 60.4,158.5 67.6,155.6 74.9,153.5 82.2,149.8 86.5,146.9" stroke="rgb(255, 170, 8)" stroke-width="4.0"/><polyline points="124.0,129.6 135.0,127.0 150.0,126.0 165.0,123.0 180.0,121.0 195.0,119.0 205.0,120.0" stroke="rgb(255, 170, 8)" stroke-width="3.5"/><polyline points="18.0,138.0 28.0,134.0 39.0,127.5 48.0,123.0" stroke="rgb(250, 26, 6)" stroke-width="2.2"/><polyline points="22.0,141.5 30.0,143.0 36.0,143.6 43.0,143.2 53.1,142.0 61.8,140.0 72.0,136.7" stroke="rgb(250, 26, 6)" stroke-width="1.8"/><polyline points="36.0,161.5 42.9,157.1 53.1,151.3 60.4,146.9 67.6,142.5 74.9,138.2 82.2,135.3 89.5,133.8 104.0,131.6 113.2,130.7 124.1,129.6 135.0,126.4" stroke="rgb(250, 26, 6)" stroke-width="2.4"/><polyline points="45.0,155.5 53.1,151.3 60.4,146.9 67.6,142.5" stroke="rgb(250, 26, 6)" stroke-width="3.6"/><polyline points="28.4,171.6 38.5,166.5 50.2,161.5 60.4,158.5 67.6,155.6 74.9,153.5 82.2,149.8 86.5,146.9" stroke="rgb(250, 26, 6)" stroke-width="2.5"/><polyline points="100.0,147.0 102.0,158.0 104.0,170.0 106.0,183.0" stroke="rgb(250, 26, 6)" stroke-width="1.5"/><polyline points="89.0,159.0 92.0,167.0 95.0,176.0" stroke="rgb(250, 26, 6)" stroke-width="1.3"/><polyline points="115.0,151.0 112.0,158.0 109.0,164.0" stroke="rgb(250, 26, 6)" stroke-width="1.3"/></g></g></g><polygon points="24.1,94.7 28.5,91.5 33.0,87.7 38.1,83.9 41.3,82.6 43.8,84.5 48.9,85.8 50.2,89.0 55.3,90.3 58.8,90.0 60.5,93.8 63.7,95.5 67.0,97.1 70.3,94.4 73.5,91.6 76.8,92.2 80.1,94.4 84.5,96.0 89.9,97.1 95.4,98.2 100.8,98.7 103.0,97.6 106.3,99.3 109.5,98.2 111.2,94.4 111.2,90.0 112.8,86.7 116.9,85.5 120.7,83.5 123.3,80.4 125.8,78.5 130.3,77.8 133.5,79.1 136.0,82.9 139.8,82.3 143.6,81.0 147.5,79.1 150.1,75.5 155.2,72.4 159.0,69.8 160.3,66.0 165.4,65.4 170.5,66.0 175.5,66.6 179.4,65.4 181.9,61.5 183.2,59.0 185.7,57.1 188.9,55.8 190.2,58.4 192.7,60.3 197.2,60.9 201.0,60.3 203.5,57.7 206.7,56.5 208.0,57.1 206.1,60.3 205.1,63.9 206.4,67.7 210.2,66.5 215.3,65.2 220.4,66.5 225.5,67.7 229.3,67.7 233.1,69.6 236.3,72.2 239.5,73.5 242.0,76.6 243.9,80.5 245.8,82.4 245.2,85.5 246.5,89.4 248.4,93.2 252.2,91.9 254.7,94.5 254.1,98.3 256.6,101.4 261.1,102.6 262.4,106.5 261.1,111.5 259.8,115.4 257.3,118.5 256.0,122.4 258.5,126.2 259.2,128.7 256.0,131.9 254.7,135.7 253.7,139.0 251.2,142.8 248.6,145.4 247.4,147.9 243.5,151.7 241.0,154.3 237.2,154.9 233.4,153.6 228.3,154.3 223.2,152.4 219.4,150.5 216.8,146.6 214.8,144.9 211.0,143.6 205.9,143.6 203.4,142.4 202.1,139.2 200.8,136.0 197.0,134.1 194.5,131.5 193.2,126.5 191.9,125.2 188.7,126.5 184.9,127.7 181.7,131.5 179.2,135.4 176.0,138.5 171.5,139.8 165.2,140.5 161.4,141.7 162.0,144.3 162.6,148.1 160.1,153.2 158.2,158.3 158.2,167.6 158.2,172.7 158.2,177.8 156.9,181.6 155.6,184.2 154.4,182.9 150.5,181.6 146.7,182.3 142.9,181.0 139.1,179.1 135.3,179.1 131.5,180.4 127.6,181.0 123.8,178.5 118.9,180.5 115.7,182.5 115.7,185.6 117.0,190.7 118.3,194.5 115.7,198.4 113.2,199.0 111.9,195.8 110.6,192.0 105.5,190.7 97.9,190.7 92.8,189.5 87.7,188.2 85.8,186.9 82.6,184.4 81.4,179.9 78.8,177.4 75.3,177.3 71.8,178.6 68.0,180.5 65.5,179.9 62.9,177.4 61.0,173.5 57.8,174.2 54.0,176.1 50.8,176.7 50.2,174.2 46.4,176.1 41.3,177.4 35.5,178.6 31.1,178.0 29.2,175.5 27.9,171.6 27.3,165.3 25.4,160.2 24.1,155.7 21.5,153.8 20.9,150.0 20.9,148.1 19.6,145.5 19.0,142.4 17.1,139.8 17.7,137.3 22.2,134.7 26.6,132.8 30.5,129.6 33.6,127.1 34.3,124.5 30.5,121.4 27.3,118.8 25.4,115.0 25.4,113.2 26.0,109.4 24.7,106.8 24.1,100.5" fill="none" stroke="#3a3a3a" stroke-width="0.5"/><path d="M23.4,143.2 C24.4,141.2 28.4,141.3 29.0,143.6 C29.4,145.8 27.4,147.1 25.4,146.6 C23.9,146.2 23.0,144.6 23.4,143.2 Z" fill="#fff" stroke="#555" stroke-width="0.45"/></g>
</defs>
<rect width="550" height="406" fill="#fff"/>
<g transform="translate(0,0)">
<text class="ax" x="52.7" y="9.9" text-anchor="middle" textLength="18.2" lengthAdjust="spacingAndGlyphs">119°</text>
<text class="ax" x="112.9" y="9.9" text-anchor="middle" textLength="29.4" lengthAdjust="spacingAndGlyphs">119°15'</text>
<text class="ax" x="172.7" y="9.9" text-anchor="middle" textLength="29.2" lengthAdjust="spacingAndGlyphs">119°30'</text>
<text class="ax" x="232.9" y="9.9" text-anchor="middle" textLength="28.8" lengthAdjust="spacingAndGlyphs">119°45'</text>
<text class="ax2" transform="translate(9.6,45.4) rotate(-90)" text-anchor="middle">30°30'</text>
<text class="ax2" transform="translate(9.6,114.4) rotate(-90)" text-anchor="middle">30°15'</text>
<text class="ax2" transform="translate(9.6,183.6) rotate(-90)" text-anchor="middle">30°</text>
<rect x="11.5" y="11.5" width="259" height="189.5" fill="#fff" stroke="#8a8a8a" stroke-width="1"/>
<use href="#map0"/>
<polygon points="32.3,69.5 32.3,68.3 35.0,66.3 41.9,61.5 48.8,58.1 55.7,55.3 62.5,53.3 69.4,51.2 76.3,49.5 83.2,47.7 90.1,46.0 97.0,43.6 101.9,42.3 108.8,40.2 115.7,37.5 122.6,34.7 129.5,31.3 135.0,27.8 139.2,23.7 142.4,16.3 142.4,69.5" fill="#c6c6c6"/>
<line x1="55.1" y1="16.0" x2="55.1" y2="69.5" stroke="#aaa" stroke-width="0.7" stroke-dasharray="1.3,1.6"/>
<line x1="97.6" y1="16.0" x2="97.6" y2="69.5" stroke="#aaa" stroke-width="0.7" stroke-dasharray="1.3,1.6"/>
<line x1="134.5" y1="16.0" x2="134.5" y2="69.5" stroke="#aaa" stroke-width="0.7" stroke-dasharray="1.3,1.6"/>
<polyline points="32.3,68.3 35.0,66.3 41.9,61.5 48.8,58.1 55.7,55.3 62.5,53.3 69.4,51.2 76.3,49.5 83.2,47.7 90.1,46.0 97.0,43.6 101.9,42.3 108.8,40.2 115.7,37.5 122.6,34.7 129.5,31.3 135.0,27.8 139.2,23.7 142.4,16.3" fill="none" stroke="#7b7bf0" stroke-width="0.9"/>
<rect x="32.3" y="16.0" width="110.1" height="53.5" fill="none" stroke="#a8a8a8" stroke-width="0.7"/>
<line x1="34.4" y1="19" x2="40.4" y2="19" stroke="#8585f5" stroke-width="1.1"/>
<text class="tr" x="44.6" y="20.4">Trend</text>
<text class="cl" transform="translate(42.6,51.9) rotate(-90)">Low</text>
<text class="cl" transform="translate(50.8,51.6) rotate(-90)">20.65%</text>
<text class="cl" transform="translate(82.5,51.9) rotate(-90)">Moderate</text>
<text class="cl" transform="translate(89.4,51.6) rotate(-90)">38.70%</text>
<text class="cl" transform="translate(115.7,51.9) rotate(-90)">High</text>
<text class="cl" transform="translate(124.0,51.6) rotate(-90)">32.41%</text>
<text class="cl" transform="translate(140.6,68.6) rotate(-90)" textLength="52.4" lengthAdjust="spacing">Very high 8.24%</text>
<text class="tk" transform="translate(30.6,58.9) rotate(-90)" text-anchor="middle">25</text>
<text class="tk" transform="translate(30.6,43.8) rotate(-90)" text-anchor="middle">50</text>
<text class="tk" transform="translate(30.6,31.2) rotate(-90)" text-anchor="middle">75</text>
<text class="tk" transform="translate(30.6,19.4) rotate(-90)" text-anchor="middle">100</text>
<text class="tk" x="32.3" y="76" text-anchor="middle">0</text>
<text class="tk" x="87.3" y="76" text-anchor="middle">50</text>
<text class="tk" x="142.4" y="76" text-anchor="middle">100</text>
<text class="al" x="69" y="81.3" textLength="36.8" lengthAdjust="spacingAndGlyphs">Area ratio(%)</text>
<text class="al" transform="translate(20.8,68.9) rotate(-90)" textLength="51.7" lengthAdjust="spacingAndGlyphs">Landslide ratio(%)</text>
<g class="sb">
<text x="156.1" y="29.8" text-anchor="middle">0</text>
<text x="168.5" y="29.8" text-anchor="middle">5</text>
<text x="181.6" y="29.8" text-anchor="middle">10</text>
<text x="206.2" y="29.8" text-anchor="middle">20</text>
<text x="212.4" y="29.8">Kilometer</text>
</g>
<path d="M156.4,32 V34.4 H206.4 V32" fill="none" stroke="#777" stroke-width="0.7"/>
<line x1="162.6" y1="33" x2="162.6" y2="34.4" stroke="#777" stroke-width="0.6"/>
<line x1="168.9" y1="33" x2="168.9" y2="34.4" stroke="#777" stroke-width="0.6"/>
<line x1="175.2" y1="33" x2="175.2" y2="34.4" stroke="#777" stroke-width="0.6"/>
<line x1="181.4" y1="33" x2="181.4" y2="34.4" stroke="#777" stroke-width="0.6"/>
<line x1="187.6" y1="33" x2="187.6" y2="34.4" stroke="#777" stroke-width="0.6"/>
<line x1="193.9" y1="33" x2="193.9" y2="34.4" stroke="#777" stroke-width="0.6"/>
<line x1="200.1" y1="33" x2="200.1" y2="34.4" stroke="#777" stroke-width="0.6"/>
<text class="na" x="261.8" y="19.6" text-anchor="middle">N</text>
<path d="M263.1,23.8 L268.6,37.6 L263.1,33.4 L257.6,37.6 Z" fill="#000"/>
<text class="ts" x="164.6" y="171.1" textLength="67.6" lengthAdjust="spacingAndGlyphs">Random Forest</text>
<rect x="164.2" y="174.2" width="2.7" height="1.5" fill="#58e000"/>
<text class="lt" x="167.8" y="175.9">Low</text>
<rect x="164.2" y="178.0" width="2.7" height="1.5" fill="#f2f064"/>
<text class="lt" x="167.8" y="179.7">Moderate</text>
<rect x="164.2" y="181.7" width="2.7" height="1.5" fill="#fbb41e"/>
<text class="lt" x="167.8" y="183.4">High</text>
<rect x="164.2" y="185.5" width="2.7" height="1.5" fill="#f50f14"/>
<text class="lt" x="167.8" y="187.2">Very high</text>
<text class="lt" x="187.9" y="175.9">MLP_20_result</text>
<text class="lt" x="187.9" y="179.7">Value</text>
<rect x="187.9" y="181.7" width="2.7" height="1.5" fill="#58e000"/>
<text class="lt" x="191.5" y="183.4">Low</text>
<rect x="187.9" y="185.5" width="2.7" height="1.5" fill="#f2f064"/>
<text class="lt" x="191.5" y="187.2">Moderate</text>
<rect x="187.9" y="189.2" width="2.7" height="1.5" fill="#fbb41e"/>
<text class="lt" x="191.5" y="190.9">High</text>
<rect x="187.9" y="193.0" width="2.7" height="1.5" fill="#f50f14"/>
<text class="lt" x="191.5" y="194.7">Very high</text>
<text class="lt" x="210.9" y="175.9">ADA_20_result</text>
<text class="lt" x="210.9" y="179.7">Value</text>
<rect x="210.9" y="181.7" width="2.7" height="1.5" fill="#58e000"/>
<text class="lt" x="214.5" y="183.4">Low</text>
<rect x="210.9" y="185.5" width="2.7" height="1.5" fill="#f2f064"/>
<text class="lt" x="214.5" y="187.2">Moderate</text>
<rect x="210.9" y="189.2" width="2.7" height="1.5" fill="#fbb41e"/>
<text class="lt" x="214.5" y="190.9">High</text>
<rect x="210.9" y="193.0" width="2.7" height="1.5" fill="#f50f14"/>
<text class="lt" x="214.5" y="194.7">Very high</text>
<text class="lt" x="234.3" y="175.9">GBRT_20_result</text>
<text class="lt" x="234.3" y="179.7">Value</text>
<rect x="234.3" y="181.7" width="2.7" height="1.5" fill="#58e000"/>
<text class="lt" x="237.9" y="183.4">Low</text>
<rect x="234.3" y="185.5" width="2.7" height="1.5" fill="#f2f064"/>
<text class="lt" x="237.9" y="187.2">Moderate</text>
<rect x="234.3" y="189.2" width="2.7" height="1.5" fill="#fbb41e"/>
<text class="lt" x="237.9" y="190.9">High</text>
<rect x="234.3" y="193.0" width="2.7" height="1.5" fill="#f50f14"/>
<text class="lt" x="237.9" y="194.7">Very high</text>
</g>
<g transform="translate(276,0)">
<text class="ax" x="52.7" y="9.9" text-anchor="middle" textLength="18.2" lengthAdjust="spacingAndGlyphs">119°</text>
<text class="ax" x="112.9" y="9.9" text-anchor="middle" textLength="29.4" lengthAdjust="spacingAndGlyphs">119°15'</text>
<text class="ax" x="172.7" y="9.9" text-anchor="middle" textLength="29.2" lengthAdjust="spacingAndGlyphs">119°30'</text>
<text class="ax" x="232.9" y="9.9" text-anchor="middle" textLength="28.8" lengthAdjust="spacingAndGlyphs">119°45'</text>
<text class="ax2" transform="translate(9.6,45.4) rotate(-90)" text-anchor="middle">30°30'</text>
<text class="ax2" transform="translate(9.6,114.4) rotate(-90)" text-anchor="middle">30°15'</text>
<text class="ax2" transform="translate(9.6,183.6) rotate(-90)" text-anchor="middle">30°</text>
<rect x="11.5" y="11.5" width="259" height="189.5" fill="#fff" stroke="#8a8a8a" stroke-width="1"/>
<use href="#map1"/>
<polygon points="32.3,69.5 32.3,69.2 45.8,68.4 59.5,65.7 70.6,61.5 78.8,56.7 85.7,51.2 92.6,47.1 96.8,42.5 99.5,40.0 102.3,39.8 107.8,34.7 116.1,29.2 125.7,23.0 135.4,18.1 142.4,16.1 142.4,69.5" fill="#c6c6c6"/>
<line x1="82.7" y1="16.0" x2="82.7" y2="69.5" stroke="#aaa" stroke-width="0.7" stroke-dasharray="1.3,1.6"/>
<line x1="96.4" y1="16.0" x2="96.4" y2="69.5" stroke="#aaa" stroke-width="0.7" stroke-dasharray="1.3,1.6"/>
<line x1="116.1" y1="16.0" x2="116.1" y2="69.5" stroke="#aaa" stroke-width="0.7" stroke-dasharray="1.3,1.6"/>
<polyline points="32.3,69.2 45.8,68.4 59.5,65.7 70.6,61.5 78.8,56.7 85.7,51.2 92.6,47.1 96.8,42.5 99.5,40.0 102.3,39.8 107.8,34.7 116.1,29.2 125.7,23.0 135.4,18.1 142.4,16.1" fill="none" stroke="#7b7bf0" stroke-width="0.9"/>
<rect x="32.3" y="16.0" width="110.1" height="53.5" fill="none" stroke="#a8a8a8" stroke-width="0.7"/>
<line x1="34.4" y1="19" x2="40.4" y2="19" stroke="#8585f5" stroke-width="1.1"/>
<text class="tr" x="44.6" y="20.4">Trend</text>
<text class="cl" transform="translate(68.5,51.9) rotate(-90)">Low</text>
<text class="cl" transform="translate(75.4,51.6) rotate(-90)">44.88%</text>
<text class="cl" transform="translate(89.2,51.9) rotate(-90)">Moderate</text>
<text class="cl" transform="translate(96.0,51.6) rotate(-90)">13.09%</text>
<text class="cl" transform="translate(106.4,51.9) rotate(-90)">High</text>
<text class="cl" transform="translate(114.0,51.6) rotate(-90)">18.03%</text>
<text class="cl" transform="translate(129.9,51.9) rotate(-90)">Very high</text>
<text class="cl" transform="translate(137.4,51.6) rotate(-90)">24.11%</text>
<text class="tk" transform="translate(30.6,58.9) rotate(-90)" text-anchor="middle">25</text>
<text class="tk" transform="translate(30.6,43.8) rotate(-90)" text-anchor="middle">50</text>
<text class="tk" transform="translate(30.6,31.2) rotate(-90)" text-anchor="middle">75</text>
<text class="tk" transform="translate(30.6,19.4) rotate(-90)" text-anchor="middle">100</text>
<text class="tk" x="32.3" y="76" text-anchor="middle">0</text>
<text class="tk" x="87.3" y="76" text-anchor="middle">50</text>
<text class="tk" x="142.4" y="76" text-anchor="middle">100</text>
<text class="al" x="69" y="81.3" textLength="36.8" lengthAdjust="spacingAndGlyphs">Area ratio(%)</text>
<text class="al" transform="translate(20.8,68.9) rotate(-90)" textLength="51.7" lengthAdjust="spacingAndGlyphs">Landslide ratio(%)</text>
<g class="sb">
<text x="156.1" y="29.8" text-anchor="middle">0</text>
<text x="168.5" y="29.8" text-anchor="middle">5</text>
<text x="181.6" y="29.8" text-anchor="middle">10</text>
<text x="206.2" y="29.8" text-anchor="middle">20</text>
<text x="212.4" y="29.8">Kilometer</text>
</g>
<path d="M156.4,32 V34.4 H206.4 V32" fill="none" stroke="#777" stroke-width="0.7"/>
<line x1="162.6" y1="33" x2="162.6" y2="34.4" stroke="#777" stroke-width="0.6"/>
<line x1="168.9" y1="33" x2="168.9" y2="34.4" stroke="#777" stroke-width="0.6"/>
<line x1="175.2" y1="33" x2="175.2" y2="34.4" stroke="#777" stroke-width="0.6"/>
<line x1="181.4" y1="33" x2="181.4" y2="34.4" stroke="#777" stroke-width="0.6"/>
<line x1="187.6" y1="33" x2="187.6" y2="34.4" stroke="#777" stroke-width="0.6"/>
<line x1="193.9" y1="33" x2="193.9" y2="34.4" stroke="#777" stroke-width="0.6"/>
<line x1="200.1" y1="33" x2="200.1" y2="34.4" stroke="#777" stroke-width="0.6"/>
<text class="na" x="261.8" y="19.6" text-anchor="middle">N</text>
<path d="M263.1,23.8 L268.6,37.6 L263.1,33.4 L257.6,37.6 Z" fill="#000"/>
<text class="tb" x="163.6" y="171.1" textLength="95.2" lengthAdjust="spacingAndGlyphs">Multilayer Perceptron</text>
<rect x="163.4" y="176.1" width="8.6" height="3.8" fill="#58e000"/>
<text class="lb" x="173.0" y="180.8">Low</text>
<rect x="163.4" y="186.4" width="8.6" height="3.8" fill="#f2f064"/>
<text class="lb" x="173.0" y="191.1">Moderate</text>
<rect x="216.2" y="176.1" width="8.6" height="3.8" fill="#fbb41e"/>
<text class="lb" x="225.8" y="180.8">High</text>
<rect x="216.2" y="186.4" width="8.6" height="3.8" fill="#f50f14"/>
<text class="lb" x="225.8" y="191.1">Very high</text>
</g>
<g transform="translate(0,202)">
<text class="ax" x="52.7" y="9.9" text-anchor="middle" textLength="18.2" lengthAdjust="spacingAndGlyphs">119°</text>
<text class="ax" x="112.9" y="9.9" text-anchor="middle" textLength="29.4" lengthAdjust="spacingAndGlyphs">119°15'</text>
<text class="ax" x="172.7" y="9.9" text-anchor="middle" textLength="29.2" lengthAdjust="spacingAndGlyphs">119°30'</text>
<text class="ax" x="232.9" y="9.9" text-anchor="middle" textLength="28.8" lengthAdjust="spacingAndGlyphs">119°45'</text>
<text class="ax2" transform="translate(9.6,45.4) rotate(-90)" text-anchor="middle">30°30'</text>
<text class="ax2" transform="translate(9.6,114.4) rotate(-90)" text-anchor="middle">30°15'</text>
<text class="ax2" transform="translate(9.6,183.6) rotate(-90)" text-anchor="middle">30°</text>
<rect x="11.5" y="11.5" width="259" height="189.5" fill="#fff" stroke="#8a8a8a" stroke-width="1"/>
<use href="#map2"/>
<polygon points="32.3,69.5 32.3,65.7 38.9,60.8 45.8,57.4 54.7,54.6 66.4,51.9 77.5,49.1 89.9,46.4 102.3,42.3 114.7,37.4 125.7,33.3 134.0,29.2 139.5,25.0 141.5,20.5 142.4,16.0 142.4,69.5" fill="#c6c6c6"/>
<line x1="54.7" y1="16.0" x2="54.7" y2="69.5" stroke="#aaa" stroke-width="0.7" stroke-dasharray="1.3,1.6"/>
<line x1="102.5" y1="16.0" x2="102.5" y2="69.5" stroke="#aaa" stroke-width="0.7" stroke-dasharray="1.3,1.6"/>
<line x1="136.1" y1="16.0" x2="136.1" y2="69.5" stroke="#aaa" stroke-width="0.7" stroke-dasharray="1.3,1.6"/>
<polyline points="32.3,65.7 38.9,60.8 45.8,57.4 54.7,54.6 66.4,51.9 77.5,49.1 89.9,46.4 102.3,42.3 114.7,37.4 125.7,33.3 134.0,29.2 139.5,25.0 141.5,20.5 142.4,16.0" fill="none" stroke="#7b7bf0" stroke-width="0.9"/>
<rect x="32.3" y="16.0" width="110.1" height="53.5" fill="none" stroke="#a8a8a8" stroke-width="0.7"/>
<line x1="34.4" y1="19" x2="40.4" y2="19" stroke="#8585f5" stroke-width="1.1"/>
<text class="tr" x="44.6" y="20.4">Trend</text>
<text class="cl" transform="translate(43.0,51.9) rotate(-90)">Low</text>
<text class="cl" transform="translate(50.6,51.6) rotate(-90)">20.76%</text>
<text class="cl" transform="translate(80.2,51.9) rotate(-90)">Moderate</text>
<text class="cl" transform="translate(87.8,51.6) rotate(-90)">42.33%</text>
<text class="cl" transform="translate(118.1,51.9) rotate(-90)">High</text>
<text class="cl" transform="translate(126.4,51.6) rotate(-90)">30.16%</text>
<text class="cl" transform="translate(140.9,68.6) rotate(-90)" textLength="52.4" lengthAdjust="spacing">Very high 6.75%</text>
<text class="tk" transform="translate(30.6,58.9) rotate(-90)" text-anchor="middle">25</text>
<text class="tk" transform="translate(30.6,43.8) rotate(-90)" text-anchor="middle">50</text>
<text class="tk" transform="translate(30.6,31.2) rotate(-90)" text-anchor="middle">75</text>
<text class="tk" transform="translate(30.6,19.4) rotate(-90)" text-anchor="middle">100</text>
<text class="tk" x="32.3" y="76" text-anchor="middle">0</text>
<text class="tk" x="87.3" y="76" text-anchor="middle">50</text>
<text class="tk" x="142.4" y="76" text-anchor="middle">100</text>
<text class="al" x="69" y="81.3" textLength="36.8" lengthAdjust="spacingAndGlyphs">Area ratio(%)</text>
<text class="al" transform="translate(20.8,68.9) rotate(-90)" textLength="51.7" lengthAdjust="spacingAndGlyphs">Landslide ratio(%)</text>
<g class="sb">
<text x="156.1" y="29.8" text-anchor="middle">0</text>
<text x="168.5" y="29.8" text-anchor="middle">5</text>
<text x="181.6" y="29.8" text-anchor="middle">10</text>
<text x="206.2" y="29.8" text-anchor="middle">20</text>
<text x="212.4" y="29.8">Kilometer</text>
</g>
<path d="M156.4,32 V34.4 H206.4 V32" fill="none" stroke="#777" stroke-width="0.7"/>
<line x1="162.6" y1="33" x2="162.6" y2="34.4" stroke="#777" stroke-width="0.6"/>
<line x1="168.9" y1="33" x2="168.9" y2="34.4" stroke="#777" stroke-width="0.6"/>
<line x1="175.2" y1="33" x2="175.2" y2="34.4" stroke="#777" stroke-width="0.6"/>
<line x1="181.4" y1="33" x2="181.4" y2="34.4" stroke="#777" stroke-width="0.6"/>
<line x1="187.6" y1="33" x2="187.6" y2="34.4" stroke="#777" stroke-width="0.6"/>
<line x1="193.9" y1="33" x2="193.9" y2="34.4" stroke="#777" stroke-width="0.6"/>
<line x1="200.1" y1="33" x2="200.1" y2="34.4" stroke="#777" stroke-width="0.6"/>
<text class="na" x="261.8" y="19.6" text-anchor="middle">N</text>
<path d="M263.1,23.8 L268.6,37.6 L263.1,33.4 L257.6,37.6 Z" fill="#000"/>
<text class="ts" x="164.6" y="171.1" textLength="81.6" lengthAdjust="spacingAndGlyphs">Adaptive Boosting</text>
<rect x="164.2" y="174.2" width="2.7" height="1.5" fill="#58e000"/>
<text class="lt" x="167.8" y="175.9">Low</text>
<rect x="164.2" y="178.0" width="2.7" height="1.5" fill="#f2f064"/>
<text class="lt" x="167.8" y="179.7">Moderate</text>
<rect x="164.2" y="181.7" width="2.7" height="1.5" fill="#fbb41e"/>
<text class="lt" x="167.8" y="183.4">High</text>
<rect x="164.2" y="185.5" width="2.7" height="1.5" fill="#f50f14"/>
<text class="lt" x="167.8" y="187.2">Very high</text>
<text class="lt" x="187.9" y="175.9">MLP_20_result</text>
<text class="lt" x="187.9" y="179.7">Value</text>
<rect x="187.9" y="181.7" width="2.7" height="1.5" fill="#58e000"/>
<text class="lt" x="191.5" y="183.4">Low</text>
<rect x="187.9" y="185.5" width="2.7" height="1.5" fill="#f2f064"/>
<text class="lt" x="191.5" y="187.2">Moderate</text>
<rect x="187.9" y="189.2" width="2.7" height="1.5" fill="#fbb41e"/>
<text class="lt" x="191.5" y="190.9">High</text>
<rect x="187.9" y="193.0" width="2.7" height="1.5" fill="#f50f14"/>
<text class="lt" x="191.5" y="194.7">Very high</text>
<text class="lt" x="210.9" y="175.9">ADA_20_result</text>
<text class="lt" x="210.9" y="179.7">Value</text>
<rect x="210.9" y="181.7" width="2.7" height="1.5" fill="#58e000"/>
<text class="lt" x="214.5" y="183.4">Low</text>
<rect x="210.9" y="185.5" width="2.7" height="1.5" fill="#f2f064"/>
<text class="lt" x="214.5" y="187.2">Moderate</text>
<rect x="210.9" y="189.2" width="2.7" height="1.5" fill="#fbb41e"/>
<text class="lt" x="214.5" y="190.9">High</text>
<rect x="210.9" y="193.0" width="2.7" height="1.5" fill="#f50f14"/>
<text class="lt" x="214.5" y="194.7">Very high</text>
<text class="lt" x="234.3" y="175.9">GBRT_20_result</text>
<text class="lt" x="234.3" y="179.7">Value</text>
<rect x="234.3" y="181.7" width="2.7" height="1.5" fill="#58e000"/>
<text class="lt" x="237.9" y="183.4">Low</text>
<rect x="234.3" y="185.5" width="2.7" height="1.5" fill="#f2f064"/>
<text class="lt" x="237.9" y="187.2">Moderate</text>
<rect x="234.3" y="189.2" width="2.7" height="1.5" fill="#fbb41e"/>
<text class="lt" x="237.9" y="190.9">High</text>
<rect x="234.3" y="193.0" width="2.7" height="1.5" fill="#f50f14"/>
<text class="lt" x="237.9" y="194.7">Very high</text>
</g>
<g transform="translate(276,202)">
<text class="ax" x="52.7" y="9.9" text-anchor="middle" textLength="18.2" lengthAdjust="spacingAndGlyphs">119°</text>
<text class="ax" x="112.9" y="9.9" text-anchor="middle" textLength="29.4" lengthAdjust="spacingAndGlyphs">119°15'</text>
<text class="ax" x="172.7" y="9.9" text-anchor="middle" textLength="29.2" lengthAdjust="spacingAndGlyphs">119°30'</text>
<text class="ax" x="232.9" y="9.9" text-anchor="middle" textLength="28.8" lengthAdjust="spacingAndGlyphs">119°45'</text>
<text class="ax2" transform="translate(9.6,45.4) rotate(-90)" text-anchor="middle">30°30'</text>
<text class="ax2" transform="translate(9.6,114.4) rotate(-90)" text-anchor="middle">30°15'</text>
<text class="ax2" transform="translate(9.6,183.6) rotate(-90)" text-anchor="middle">30°</text>
<rect x="11.5" y="11.5" width="259" height="189.5" fill="#fff" stroke="#8a8a8a" stroke-width="1"/>
<use href="#map3"/>
<polygon points="32.3,69.5 32.3,61.5 45.8,56.7 59.5,52.6 73.3,49.1 87.1,45.0 102.0,40.9 107.8,39.5 121.6,34.7 129.9,30.6 135.4,27.8 142.4,23.0 142.4,69.5" fill="#c6c6c6"/>
<line x1="54.0" y1="16.0" x2="54.0" y2="69.5" stroke="#aaa" stroke-width="0.7" stroke-dasharray="1.3,1.6"/>
<line x1="99.3" y1="16.0" x2="99.3" y2="69.5" stroke="#aaa" stroke-width="0.7" stroke-dasharray="1.3,1.6"/>
<line x1="136.1" y1="16.0" x2="136.1" y2="69.5" stroke="#aaa" stroke-width="0.7" stroke-dasharray="1.3,1.6"/>
<polyline points="32.3,61.5 45.8,56.7 59.5,52.6 73.3,49.1 87.1,45.0 102.0,40.9 107.8,39.5 121.6,34.7 129.9,30.6 135.4,27.8 142.4,23.0" fill="none" stroke="#7b7bf0" stroke-width="0.9"/>
<rect x="32.3" y="16.0" width="110.1" height="53.5" fill="none" stroke="#a8a8a8" stroke-width="0.7"/>
<line x1="34.4" y1="19" x2="40.4" y2="19" stroke="#8585f5" stroke-width="1.1"/>
<text class="tr" x="44.6" y="20.4">Trend</text>
<text class="cl" transform="translate(43.0,51.9) rotate(-90)">Low</text>
<text class="cl" transform="translate(50.6,51.6) rotate(-90)">19.20%</text>
<text class="cl" transform="translate(79.5,51.9) rotate(-90)">Moderate</text>
<text class="cl" transform="translate(87.1,51.6) rotate(-90)">41.20%</text>
<text class="cl" transform="translate(120.9,51.9) rotate(-90)">High</text>
<text class="cl" transform="translate(129.2,51.6) rotate(-90)">33.10%</text>
<text class="cl" transform="translate(141.6,68.6) rotate(-90)" textLength="52.4" lengthAdjust="spacing">Very high 6.50%</text>
<text class="tk" transform="translate(30.6,58.9) rotate(-90)" text-anchor="middle">25</text>
<text class="tk" transform="translate(30.6,43.8) rotate(-90)" text-anchor="middle">50</text>
<text class="tk" transform="translate(30.6,31.2) rotate(-90)" text-anchor="middle">75</text>
<text class="tk" transform="translate(30.6,19.4) rotate(-90)" text-anchor="middle">100</text>
<text class="tk" x="32.3" y="76" text-anchor="middle">0</text>
<text class="tk" x="87.3" y="76" text-anchor="middle">50</text>
<text class="tk" x="142.4" y="76" text-anchor="middle">100</text>
<text class="al" x="69" y="81.3" textLength="36.8" lengthAdjust="spacingAndGlyphs">Area ratio(%)</text>
<text class="al" transform="translate(20.8,68.9) rotate(-90)" textLength="51.7" lengthAdjust="spacingAndGlyphs">Landslide ratio(%)</text>
<g class="sb">
<text x="156.1" y="29.8" text-anchor="middle">0</text>
<text x="168.5" y="29.8" text-anchor="middle">5</text>
<text x="181.6" y="29.8" text-anchor="middle">10</text>
<text x="206.2" y="29.8" text-anchor="middle">20</text>
<text x="212.4" y="29.8">Kilometer</text>
</g>
<path d="M156.4,32 V34.4 H206.4 V32" fill="none" stroke="#777" stroke-width="0.7"/>
<line x1="162.6" y1="33" x2="162.6" y2="34.4" stroke="#777" stroke-width="0.6"/>
<line x1="168.9" y1="33" x2="168.9" y2="34.4" stroke="#777" stroke-width="0.6"/>
<line x1="175.2" y1="33" x2="175.2" y2="34.4" stroke="#777" stroke-width="0.6"/>
<line x1="181.4" y1="33" x2="181.4" y2="34.4" stroke="#777" stroke-width="0.6"/>
<line x1="187.6" y1="33" x2="187.6" y2="34.4" stroke="#777" stroke-width="0.6"/>
<line x1="193.9" y1="33" x2="193.9" y2="34.4" stroke="#777" stroke-width="0.6"/>
<line x1="200.1" y1="33" x2="200.1" y2="34.4" stroke="#777" stroke-width="0.6"/>
<text class="na" x="261.8" y="19.6" text-anchor="middle">N</text>
<path d="M263.1,23.8 L268.6,37.6 L263.1,33.4 L257.6,37.6 Z" fill="#000"/>
<text class="tb" x="163.8" y="171.1" textLength="80.4" lengthAdjust="spacingAndGlyphs">Gradient Boosting</text>
<rect x="163.4" y="176.1" width="8.6" height="3.8" fill="#58e000"/>
<text class="lb" x="173.0" y="180.8">Low</text>
<rect x="163.4" y="186.4" width="8.6" height="3.8" fill="#f2f064"/>
<text class="lb" x="173.0" y="191.1">Moderate</text>
<rect x="216.2" y="176.1" width="8.6" height="3.8" fill="#fbb41e"/>
<text class="lb" x="225.8" y="180.8">High</text>
<rect x="216.2" y="186.4" width="8.6" height="3.8" fill="#f50f14"/>
<text class="lb" x="225.8" y="191.1">Very high</text>
</g>
</svg></body></html>
